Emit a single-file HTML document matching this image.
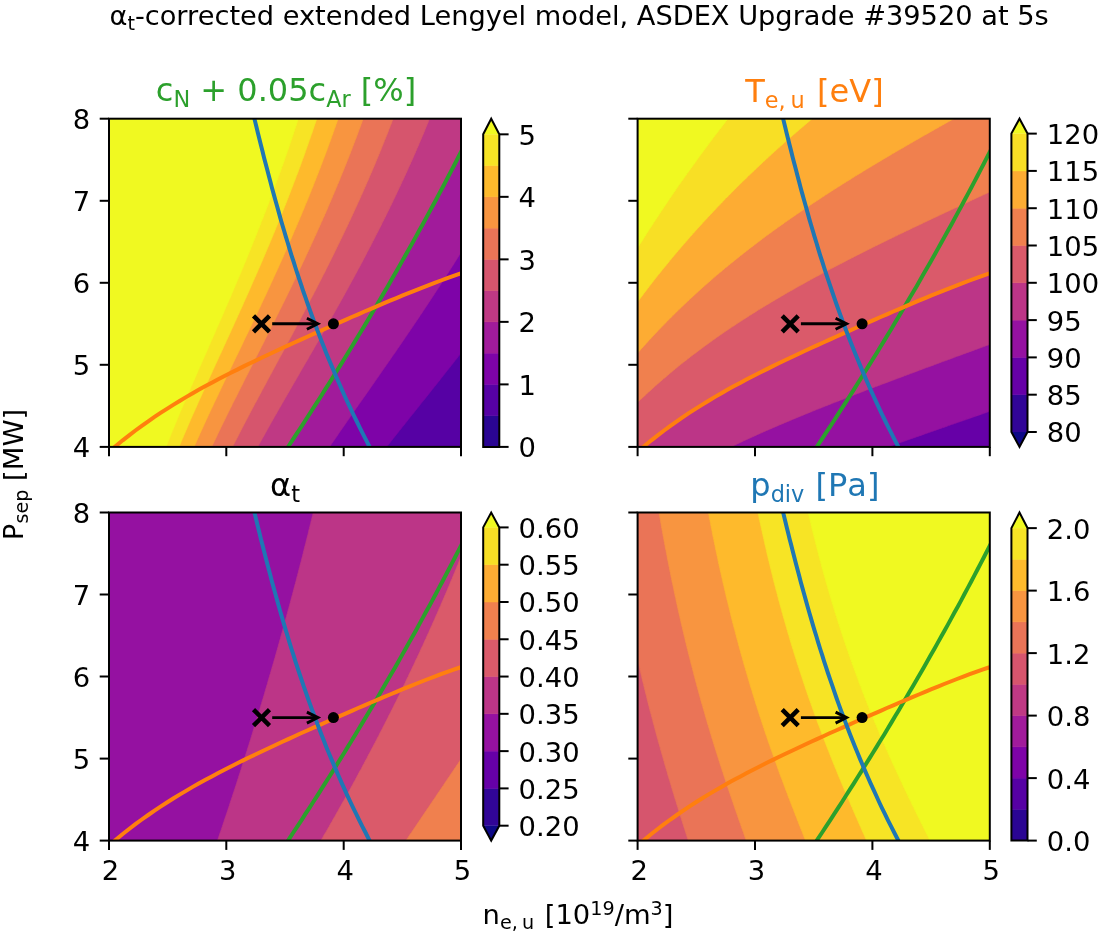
<!DOCTYPE html>
<html><head><meta charset="utf-8"><title>Lengyel model</title><style>html,body{margin:0;padding:0;background:#fff}</style></head><body>
<svg width="1100" height="934" viewBox="0 0 1100 934" style="display:block">
<rect width="1100" height="934" fill="#ffffff"/>
<defs>
<clipPath id="c1"><rect x="109.0" y="118.7" width="352.0" height="328.2"/></clipPath>
<clipPath id="c2"><rect x="637.6" y="118.7" width="352.2" height="328.2"/></clipPath>
<clipPath id="c3"><rect x="109.0" y="512.5" width="352.0" height="328.1"/></clipPath>
<clipPath id="c4"><rect x="637.6" y="512.5" width="352.2" height="328.1"/></clipPath>
</defs>
<g clip-path="url(#c1)">
<rect x="109.0" y="118.7" width="352.0" height="328.2" fill="#2a0593"/>
<rect x="109.0" y="118.7" width="352.0" height="328.2" fill="#5601a4"/>
<path d="M109.0 446.9L111.9 446.9L114.9 446.9L117.8 446.9L120.7 446.9L123.7 446.9L126.6 446.9L129.5 446.9L132.5 446.9L135.4 446.9L138.3 446.9L141.3 446.9L144.2 446.9L147.1 446.9L150.1 446.9L153.0 446.9L155.9 446.9L158.9 446.9L161.8 446.9L164.7 446.9L167.7 446.9L170.6 446.9L173.5 446.9L176.5 446.9L179.4 446.9L182.3 446.9L185.3 446.9L188.2 446.9L191.1 446.9L194.1 446.9L197.0 446.9L199.9 446.9L202.9 446.9L205.8 446.9L208.7 446.9L211.7 446.9L214.6 446.9L217.5 446.9L220.5 446.9L223.4 446.9L226.3 446.9L229.3 446.9L232.2 446.9L235.1 446.9L238.1 446.9L241.0 446.9L243.9 446.9L246.9 446.9L249.8 446.9L252.7 446.9L255.7 446.9L258.6 446.9L261.5 446.9L264.5 446.9L267.4 446.9L270.3 446.9L273.3 446.9L276.2 446.9L279.1 446.9L282.1 446.9L285.0 446.9L287.9 446.9L290.9 446.9L293.8 446.9L296.7 446.9L299.7 446.9L302.6 446.9L305.5 446.9L308.5 446.9L311.4 446.9L314.3 446.9L317.3 446.9L320.2 446.9L323.1 446.9L326.1 446.9L329.0 446.9L331.9 446.9L334.9 446.9L337.8 446.9L340.7 446.9L343.7 446.9L346.6 446.9L349.5 446.9L352.5 446.9L355.4 446.9L358.3 446.9L361.3 446.9L364.2 446.9L367.1 446.9L370.1 446.9L373.0 446.9L375.9 446.9L378.9 446.9L381.8 446.9L384.7 446.9L386.6 446.9L387.7 445.6L388.8 444.2L390.6 441.9L391.0 441.4L393.1 438.7L393.5 438.2L395.3 436.0L396.5 434.5L397.5 433.2L399.4 430.8L399.6 430.5L401.8 427.8L402.3 427.1L404.0 425.0L405.3 423.4L406.2 422.3L408.2 419.7L408.3 419.6L410.5 416.8L411.1 416.1L412.7 414.1L414.1 412.4L414.9 411.3L417.0 408.7L417.1 408.6L419.3 405.9L419.9 405.0L421.4 403.1L422.9 401.3L423.6 400.4L425.8 397.7L425.8 397.7L428.0 394.9L428.7 394.0L430.2 392.2L431.7 390.3L432.3 389.5L434.5 386.7L434.6 386.6L436.7 384.0L437.5 382.9L438.9 381.3L440.5 379.2L441.0 378.5L443.2 375.8L443.4 375.5L445.3 373.1L446.3 371.8L447.5 370.3L449.3 368.1L449.7 367.6L451.8 364.8L452.2 364.4L454.0 362.1L455.1 360.6L456.1 359.4L458.1 356.9L458.3 356.6L460.4 353.9L461.0 353.1L461.0 351.2L461.0 348.4L461.0 345.7L461.0 343.0L461.0 340.2L461.0 337.5L461.0 334.8L461.0 332.0L461.0 329.3L461.0 326.6L461.0 323.8L461.0 321.1L461.0 318.4L461.0 315.6L461.0 312.9L461.0 310.1L461.0 307.4L461.0 304.7L461.0 301.9L461.0 299.2L461.0 296.5L461.0 293.7L461.0 291.0L461.0 288.3L461.0 285.5L461.0 282.8L461.0 280.1L461.0 277.3L461.0 274.6L461.0 271.9L461.0 269.1L461.0 266.4L461.0 263.7L461.0 260.9L461.0 258.2L461.0 255.4L461.0 252.7L461.0 250.0L461.0 247.2L461.0 244.5L461.0 241.8L461.0 239.0L461.0 236.3L461.0 233.6L461.0 230.8L461.0 228.1L461.0 225.4L461.0 222.6L461.0 219.9L461.0 217.2L461.0 214.4L461.0 211.7L461.0 209.0L461.0 206.2L461.0 203.5L461.0 200.8L461.0 198.0L461.0 195.3L461.0 192.5L461.0 189.8L461.0 187.1L461.0 184.3L461.0 181.6L461.0 178.9L461.0 176.1L461.0 173.4L461.0 170.7L461.0 167.9L461.0 165.2L461.0 162.5L461.0 159.7L461.0 157.0L461.0 154.3L461.0 151.5L461.0 148.8L461.0 146.1L461.0 143.3L461.0 140.6L461.0 137.8L461.0 135.1L461.0 132.4L461.0 129.6L461.0 126.9L461.0 124.2L461.0 121.4L461.0 118.7L458.1 118.7L455.1 118.7L452.2 118.7L449.3 118.7L446.3 118.7L443.4 118.7L440.5 118.7L437.5 118.7L434.6 118.7L431.7 118.7L428.7 118.7L425.8 118.7L422.9 118.7L419.9 118.7L417.0 118.7L414.1 118.7L411.1 118.7L408.2 118.7L405.3 118.7L402.3 118.7L399.4 118.7L396.5 118.7L393.5 118.7L390.6 118.7L387.7 118.7L384.7 118.7L381.8 118.7L378.9 118.7L375.9 118.7L373.0 118.7L370.1 118.7L367.1 118.7L364.2 118.7L361.3 118.7L358.3 118.7L355.4 118.7L352.5 118.7L349.5 118.7L346.6 118.7L343.7 118.7L340.7 118.7L337.8 118.7L334.9 118.7L331.9 118.7L329.0 118.7L326.1 118.7L323.1 118.7L320.2 118.7L317.3 118.7L314.3 118.7L311.4 118.7L308.5 118.7L305.5 118.7L302.6 118.7L299.7 118.7L296.7 118.7L293.8 118.7L290.9 118.7L287.9 118.7L285.0 118.7L282.1 118.7L279.1 118.7L276.2 118.7L273.3 118.7L270.3 118.7L267.4 118.7L264.5 118.7L261.5 118.7L258.6 118.7L255.7 118.7L252.7 118.7L249.8 118.7L246.9 118.7L243.9 118.7L241.0 118.7L238.1 118.7L235.1 118.7L232.2 118.7L229.3 118.7L226.3 118.7L223.4 118.7L220.5 118.7L217.5 118.7L214.6 118.7L211.7 118.7L208.7 118.7L205.8 118.7L202.9 118.7L199.9 118.7L197.0 118.7L194.1 118.7L191.1 118.7L188.2 118.7L185.3 118.7L182.3 118.7L179.4 118.7L176.5 118.7L173.5 118.7L170.6 118.7L167.7 118.7L164.7 118.7L161.8 118.7L158.9 118.7L155.9 118.7L153.0 118.7L150.1 118.7L147.1 118.7L144.2 118.7L141.3 118.7L138.3 118.7L135.4 118.7L132.5 118.7L129.5 118.7L126.6 118.7L123.7 118.7L120.7 118.7L117.8 118.7L114.9 118.7L111.9 118.7L109.0 118.7L109.0 121.4L109.0 124.2L109.0 126.9L109.0 129.6L109.0 132.4L109.0 135.1L109.0 137.8L109.0 140.6L109.0 143.3L109.0 146.1L109.0 148.8L109.0 151.5L109.0 154.3L109.0 157.0L109.0 159.7L109.0 162.5L109.0 165.2L109.0 167.9L109.0 170.7L109.0 173.4L109.0 176.1L109.0 178.9L109.0 181.6L109.0 184.3L109.0 187.1L109.0 189.8L109.0 192.5L109.0 195.3L109.0 198.0L109.0 200.8L109.0 203.5L109.0 206.2L109.0 209.0L109.0 211.7L109.0 214.4L109.0 217.2L109.0 219.9L109.0 222.6L109.0 225.4L109.0 228.1L109.0 230.8L109.0 233.6L109.0 236.3L109.0 239.0L109.0 241.8L109.0 244.5L109.0 247.2L109.0 250.0L109.0 252.7L109.0 255.4L109.0 258.2L109.0 260.9L109.0 263.7L109.0 266.4L109.0 269.1L109.0 271.9L109.0 274.6L109.0 277.3L109.0 280.1L109.0 282.8L109.0 285.5L109.0 288.3L109.0 291.0L109.0 293.7L109.0 296.5L109.0 299.2L109.0 301.9L109.0 304.7L109.0 307.4L109.0 310.1L109.0 312.9L109.0 315.6L109.0 318.4L109.0 321.1L109.0 323.8L109.0 326.6L109.0 329.3L109.0 332.0L109.0 334.8L109.0 337.5L109.0 340.2L109.0 343.0L109.0 345.7L109.0 348.4L109.0 351.2L109.0 353.9L109.0 356.6L109.0 359.4L109.0 362.1L109.0 364.8L109.0 367.6L109.0 370.3L109.0 373.1L109.0 375.8L109.0 378.5L109.0 381.3L109.0 384.0L109.0 386.7L109.0 389.5L109.0 392.2L109.0 394.9L109.0 397.7L109.0 400.4L109.0 403.1L109.0 405.9L109.0 408.6L109.0 411.3L109.0 414.1L109.0 416.8L109.0 419.6L109.0 422.3L109.0 425.0L109.0 427.8L109.0 430.5L109.0 433.2L109.0 436.0L109.0 438.7L109.0 441.4L109.0 444.2L109.0 446.9Z" fill="#7e03a8" stroke="#7e03a8" stroke-width="0.6"/>
<path d="M109.0 446.9L111.9 446.9L114.9 446.9L117.8 446.9L120.7 446.9L123.7 446.9L126.6 446.9L129.5 446.9L132.5 446.9L135.4 446.9L138.3 446.9L141.3 446.9L144.2 446.9L147.1 446.9L150.1 446.9L153.0 446.9L155.9 446.9L158.9 446.9L161.8 446.9L164.7 446.9L167.7 446.9L170.6 446.9L173.5 446.9L176.5 446.9L179.4 446.9L182.3 446.9L185.3 446.9L188.2 446.9L191.1 446.9L194.1 446.9L197.0 446.9L199.9 446.9L202.9 446.9L205.8 446.9L208.7 446.9L211.7 446.9L214.6 446.9L217.5 446.9L220.5 446.9L223.4 446.9L226.3 446.9L229.3 446.9L232.2 446.9L235.1 446.9L238.1 446.9L241.0 446.9L243.9 446.9L246.9 446.9L249.8 446.9L252.7 446.9L255.7 446.9L258.6 446.9L261.5 446.9L264.5 446.9L267.4 446.9L270.3 446.9L273.3 446.9L276.2 446.9L279.1 446.9L282.1 446.9L285.0 446.9L287.9 446.9L290.9 446.9L293.8 446.9L296.7 446.9L299.7 446.9L302.6 446.9L305.5 446.9L308.5 446.9L311.4 446.9L314.3 446.9L317.3 446.9L320.2 446.9L323.1 446.9L326.1 446.9L329.0 446.9L329.6 446.9L331.4 444.2L331.9 443.4L333.3 441.4L334.9 439.2L335.2 438.7L337.1 436.0L337.8 434.9L338.9 433.2L340.7 430.6L340.8 430.5L342.7 427.8L343.7 426.4L344.6 425.0L346.5 422.3L346.6 422.1L348.4 419.6L349.5 417.9L350.3 416.8L352.2 414.1L352.5 413.7L354.1 411.3L355.4 409.5L356.0 408.6L357.9 405.9L358.3 405.3L359.8 403.1L361.3 401.1L361.7 400.4L363.6 397.7L364.2 396.9L365.6 394.9L367.1 392.7L367.5 392.2L369.4 389.5L370.1 388.5L371.3 386.7L373.0 384.3L373.2 384.0L375.1 381.3L375.9 380.1L377.0 378.5L378.9 375.8L378.9 375.8L380.8 373.1L381.8 371.6L382.7 370.3L384.6 367.6L384.7 367.4L386.5 364.8L387.7 363.2L388.4 362.1L390.3 359.4L390.6 358.9L392.2 356.6L393.5 354.7L394.1 353.9L396.0 351.2L396.5 350.4L397.8 348.4L399.4 346.2L399.7 345.7L401.6 343.0L402.3 341.9L403.5 340.2L405.3 337.6L405.3 337.5L407.2 334.8L408.2 333.3L409.1 332.0L410.9 329.3L411.1 329.0L412.8 326.6L414.1 324.6L414.6 323.8L416.5 321.1L417.0 320.3L418.3 318.4L419.9 315.9L420.1 315.6L422.0 312.9L422.9 311.5L423.8 310.1L425.6 307.4L425.8 307.1L427.4 304.7L428.7 302.7L429.2 301.9L431.0 299.2L431.7 298.2L432.8 296.5L434.6 293.8L434.6 293.7L436.4 291.0L437.5 289.3L438.2 288.3L440.0 285.5L440.5 284.8L441.7 282.8L443.4 280.2L443.5 280.1L445.3 277.3L446.3 275.7L447.0 274.6L448.8 271.9L449.3 271.1L450.5 269.1L452.2 266.4L452.2 266.4L454.0 263.7L455.1 261.8L455.7 260.9L457.4 258.2L458.1 257.1L459.1 255.4L460.8 252.7L461.0 252.4L461.0 250.0L461.0 247.2L461.0 244.5L461.0 241.8L461.0 239.0L461.0 236.3L461.0 233.6L461.0 230.8L461.0 228.1L461.0 225.4L461.0 222.6L461.0 219.9L461.0 217.2L461.0 214.4L461.0 211.7L461.0 209.0L461.0 206.2L461.0 203.5L461.0 200.8L461.0 198.0L461.0 195.3L461.0 192.5L461.0 189.8L461.0 187.1L461.0 184.3L461.0 181.6L461.0 178.9L461.0 176.1L461.0 173.4L461.0 170.7L461.0 167.9L461.0 165.2L461.0 162.5L461.0 159.7L461.0 157.0L461.0 154.3L461.0 151.5L461.0 148.8L461.0 146.1L461.0 143.3L461.0 140.6L461.0 137.8L461.0 135.1L461.0 132.4L461.0 129.6L461.0 126.9L461.0 124.2L461.0 121.4L461.0 118.7L458.1 118.7L455.1 118.7L452.2 118.7L449.3 118.7L446.3 118.7L443.4 118.7L440.5 118.7L437.5 118.7L434.6 118.7L431.7 118.7L428.7 118.7L425.8 118.7L422.9 118.7L419.9 118.7L417.0 118.7L414.1 118.7L411.1 118.7L408.2 118.7L405.3 118.7L402.3 118.7L399.4 118.7L396.5 118.7L393.5 118.7L390.6 118.7L387.7 118.7L384.7 118.7L381.8 118.7L378.9 118.7L375.9 118.7L373.0 118.7L370.1 118.7L367.1 118.7L364.2 118.7L361.3 118.7L358.3 118.7L355.4 118.7L352.5 118.7L349.5 118.7L346.6 118.7L343.7 118.7L340.7 118.7L337.8 118.7L334.9 118.7L331.9 118.7L329.0 118.7L326.1 118.7L323.1 118.7L320.2 118.7L317.3 118.7L314.3 118.7L311.4 118.7L308.5 118.7L305.5 118.7L302.6 118.7L299.7 118.7L296.7 118.7L293.8 118.7L290.9 118.7L287.9 118.7L285.0 118.7L282.1 118.7L279.1 118.7L276.2 118.7L273.3 118.7L270.3 118.7L267.4 118.7L264.5 118.7L261.5 118.7L258.6 118.7L255.7 118.7L252.7 118.7L249.8 118.7L246.9 118.7L243.9 118.7L241.0 118.7L238.1 118.7L235.1 118.7L232.2 118.7L229.3 118.7L226.3 118.7L223.4 118.7L220.5 118.7L217.5 118.7L214.6 118.7L211.7 118.7L208.7 118.7L205.8 118.7L202.9 118.7L199.9 118.7L197.0 118.7L194.1 118.7L191.1 118.7L188.2 118.7L185.3 118.7L182.3 118.7L179.4 118.7L176.5 118.7L173.5 118.7L170.6 118.7L167.7 118.7L164.7 118.7L161.8 118.7L158.9 118.7L155.9 118.7L153.0 118.7L150.1 118.7L147.1 118.7L144.2 118.7L141.3 118.7L138.3 118.7L135.4 118.7L132.5 118.7L129.5 118.7L126.6 118.7L123.7 118.7L120.7 118.7L117.8 118.7L114.9 118.7L111.9 118.7L109.0 118.7L109.0 121.4L109.0 124.2L109.0 126.9L109.0 129.6L109.0 132.4L109.0 135.1L109.0 137.8L109.0 140.6L109.0 143.3L109.0 146.1L109.0 148.8L109.0 151.5L109.0 154.3L109.0 157.0L109.0 159.7L109.0 162.5L109.0 165.2L109.0 167.9L109.0 170.7L109.0 173.4L109.0 176.1L109.0 178.9L109.0 181.6L109.0 184.3L109.0 187.1L109.0 189.8L109.0 192.5L109.0 195.3L109.0 198.0L109.0 200.8L109.0 203.5L109.0 206.2L109.0 209.0L109.0 211.7L109.0 214.4L109.0 217.2L109.0 219.9L109.0 222.6L109.0 225.4L109.0 228.1L109.0 230.8L109.0 233.6L109.0 236.3L109.0 239.0L109.0 241.8L109.0 244.5L109.0 247.2L109.0 250.0L109.0 252.7L109.0 255.4L109.0 258.2L109.0 260.9L109.0 263.7L109.0 266.4L109.0 269.1L109.0 271.9L109.0 274.6L109.0 277.3L109.0 280.1L109.0 282.8L109.0 285.5L109.0 288.3L109.0 291.0L109.0 293.7L109.0 296.5L109.0 299.2L109.0 301.9L109.0 304.7L109.0 307.4L109.0 310.1L109.0 312.9L109.0 315.6L109.0 318.4L109.0 321.1L109.0 323.8L109.0 326.6L109.0 329.3L109.0 332.0L109.0 334.8L109.0 337.5L109.0 340.2L109.0 343.0L109.0 345.7L109.0 348.4L109.0 351.2L109.0 353.9L109.0 356.6L109.0 359.4L109.0 362.1L109.0 364.8L109.0 367.6L109.0 370.3L109.0 373.1L109.0 375.8L109.0 378.5L109.0 381.3L109.0 384.0L109.0 386.7L109.0 389.5L109.0 392.2L109.0 394.9L109.0 397.7L109.0 400.4L109.0 403.1L109.0 405.9L109.0 408.6L109.0 411.3L109.0 414.1L109.0 416.8L109.0 419.6L109.0 422.3L109.0 425.0L109.0 427.8L109.0 430.5L109.0 433.2L109.0 436.0L109.0 438.7L109.0 441.4L109.0 444.2L109.0 446.9Z" fill="#a11b9b" stroke="#a11b9b" stroke-width="0.6"/>
<path d="M109.0 446.9L111.9 446.9L114.9 446.9L117.8 446.9L120.7 446.9L123.7 446.9L126.6 446.9L129.5 446.9L132.5 446.9L135.4 446.9L138.3 446.9L141.3 446.9L144.2 446.9L147.1 446.9L150.1 446.9L153.0 446.9L155.9 446.9L158.9 446.9L161.8 446.9L164.7 446.9L167.7 446.9L170.6 446.9L173.5 446.9L176.5 446.9L179.4 446.9L182.3 446.9L185.3 446.9L188.2 446.9L191.1 446.9L194.1 446.9L197.0 446.9L199.9 446.9L202.9 446.9L205.8 446.9L208.7 446.9L211.7 446.9L214.6 446.9L217.5 446.9L220.5 446.9L223.4 446.9L226.3 446.9L229.3 446.9L232.2 446.9L235.1 446.9L238.1 446.9L241.0 446.9L243.9 446.9L246.9 446.9L249.8 446.9L252.7 446.9L255.7 446.9L258.6 446.9L261.5 446.9L264.5 446.9L267.4 446.9L270.3 446.9L273.3 446.9L276.2 446.9L279.1 446.9L282.1 446.9L285.0 446.9L287.9 446.9L289.0 446.9L290.6 444.2L290.9 443.8L292.3 441.4L293.8 439.0L294.0 438.7L295.6 436.0L296.7 434.2L297.3 433.2L299.0 430.5L299.7 429.4L300.7 427.8L302.4 425.0L302.6 424.7L304.1 422.3L305.5 419.9L305.8 419.6L307.5 416.8L308.5 415.2L309.2 414.1L310.9 411.3L311.4 410.5L312.6 408.6L314.3 405.9L314.3 405.8L316.0 403.1L317.3 401.2L317.8 400.4L319.5 397.7L320.2 396.5L321.2 394.9L322.9 392.2L323.1 391.8L324.6 389.5L326.1 387.2L326.4 386.7L328.1 384.0L329.0 382.5L329.8 381.3L331.5 378.5L331.9 377.9L333.3 375.8L334.9 373.2L335.0 373.1L336.7 370.3L337.8 368.5L338.4 367.6L340.1 364.8L340.7 363.9L341.8 362.1L343.6 359.4L343.7 359.2L345.3 356.6L346.6 354.5L347.0 353.9L348.7 351.2L349.5 349.8L350.4 348.4L352.1 345.7L352.5 345.1L353.8 343.0L355.4 340.4L355.5 340.2L357.2 337.5L358.3 335.7L358.9 334.8L360.6 332.0L361.3 330.9L362.3 329.3L364.0 326.6L364.2 326.2L365.6 323.8L367.1 321.4L367.3 321.1L369.0 318.4L370.1 316.6L370.7 315.6L372.3 312.9L373.0 311.8L374.0 310.1L375.6 307.4L375.9 306.9L377.3 304.7L378.9 302.1L378.9 301.9L380.6 299.2L381.8 297.2L382.2 296.5L383.9 293.7L384.7 292.3L385.5 291.0L387.1 288.3L387.7 287.3L388.7 285.5L390.3 282.8L390.6 282.4L392.0 280.1L393.5 277.4L393.5 277.3L395.2 274.6L396.5 272.3L396.7 271.9L398.3 269.1L399.4 267.3L399.9 266.4L401.5 263.7L402.3 262.2L403.0 260.9L404.6 258.2L405.3 257.0L406.2 255.4L407.7 252.7L408.2 251.9L409.3 250.0L410.8 247.2L411.1 246.6L412.3 244.5L413.9 241.8L414.1 241.4L415.4 239.0L416.9 236.3L417.0 236.1L418.4 233.6L419.9 230.8L419.9 230.7L421.4 228.1L422.9 225.4L422.9 225.4L424.3 222.6L425.8 219.9L425.8 219.9L427.3 217.2L428.7 214.4L428.7 214.4L430.2 211.7L431.6 209.0L431.7 208.9L433.1 206.2L434.5 203.5L434.6 203.3L435.9 200.8L437.3 198.0L437.5 197.6L438.8 195.3L440.2 192.5L440.5 191.9L441.6 189.8L442.9 187.1L443.4 186.2L444.3 184.3L445.7 181.6L446.3 180.3L447.1 178.9L448.4 176.1L449.3 174.4L449.8 173.4L451.1 170.7L452.2 168.4L452.4 167.9L453.8 165.2L455.1 162.5L455.1 162.4L456.4 159.7L457.7 157.0L458.1 156.2L459.0 154.3L460.3 151.5L461.0 150.0L461.0 148.8L461.0 146.1L461.0 143.3L461.0 140.6L461.0 137.8L461.0 135.1L461.0 132.4L461.0 129.6L461.0 126.9L461.0 124.2L461.0 121.4L461.0 118.7L458.1 118.7L455.1 118.7L452.2 118.7L449.3 118.7L446.3 118.7L443.4 118.7L440.5 118.7L437.5 118.7L434.6 118.7L431.7 118.7L428.7 118.7L425.8 118.7L422.9 118.7L419.9 118.7L417.0 118.7L414.1 118.7L411.1 118.7L408.2 118.7L405.3 118.7L402.3 118.7L399.4 118.7L396.5 118.7L393.5 118.7L390.6 118.7L387.7 118.7L384.7 118.7L381.8 118.7L378.9 118.7L375.9 118.7L373.0 118.7L370.1 118.7L367.1 118.7L364.2 118.7L361.3 118.7L358.3 118.7L355.4 118.7L352.5 118.7L349.5 118.7L346.6 118.7L343.7 118.7L340.7 118.7L337.8 118.7L334.9 118.7L331.9 118.7L329.0 118.7L326.1 118.7L323.1 118.7L320.2 118.7L317.3 118.7L314.3 118.7L311.4 118.7L308.5 118.7L305.5 118.7L302.6 118.7L299.7 118.7L296.7 118.7L293.8 118.7L290.9 118.7L287.9 118.7L285.0 118.7L282.1 118.7L279.1 118.7L276.2 118.7L273.3 118.7L270.3 118.7L267.4 118.7L264.5 118.7L261.5 118.7L258.6 118.7L255.7 118.7L252.7 118.7L249.8 118.7L246.9 118.7L243.9 118.7L241.0 118.7L238.1 118.7L235.1 118.7L232.2 118.7L229.3 118.7L226.3 118.7L223.4 118.7L220.5 118.7L217.5 118.7L214.6 118.7L211.7 118.7L208.7 118.7L205.8 118.7L202.9 118.7L199.9 118.7L197.0 118.7L194.1 118.7L191.1 118.7L188.2 118.7L185.3 118.7L182.3 118.7L179.4 118.7L176.5 118.7L173.5 118.7L170.6 118.7L167.7 118.7L164.7 118.7L161.8 118.7L158.9 118.7L155.9 118.7L153.0 118.7L150.1 118.7L147.1 118.7L144.2 118.7L141.3 118.7L138.3 118.7L135.4 118.7L132.5 118.7L129.5 118.7L126.6 118.7L123.7 118.7L120.7 118.7L117.8 118.7L114.9 118.7L111.9 118.7L109.0 118.7L109.0 121.4L109.0 124.2L109.0 126.9L109.0 129.6L109.0 132.4L109.0 135.1L109.0 137.8L109.0 140.6L109.0 143.3L109.0 146.1L109.0 148.8L109.0 151.5L109.0 154.3L109.0 157.0L109.0 159.7L109.0 162.5L109.0 165.2L109.0 167.9L109.0 170.7L109.0 173.4L109.0 176.1L109.0 178.9L109.0 181.6L109.0 184.3L109.0 187.1L109.0 189.8L109.0 192.5L109.0 195.3L109.0 198.0L109.0 200.8L109.0 203.5L109.0 206.2L109.0 209.0L109.0 211.7L109.0 214.4L109.0 217.2L109.0 219.9L109.0 222.6L109.0 225.4L109.0 228.1L109.0 230.8L109.0 233.6L109.0 236.3L109.0 239.0L109.0 241.8L109.0 244.5L109.0 247.2L109.0 250.0L109.0 252.7L109.0 255.4L109.0 258.2L109.0 260.9L109.0 263.7L109.0 266.4L109.0 269.1L109.0 271.9L109.0 274.6L109.0 277.3L109.0 280.1L109.0 282.8L109.0 285.5L109.0 288.3L109.0 291.0L109.0 293.7L109.0 296.5L109.0 299.2L109.0 301.9L109.0 304.7L109.0 307.4L109.0 310.1L109.0 312.9L109.0 315.6L109.0 318.4L109.0 321.1L109.0 323.8L109.0 326.6L109.0 329.3L109.0 332.0L109.0 334.8L109.0 337.5L109.0 340.2L109.0 343.0L109.0 345.7L109.0 348.4L109.0 351.2L109.0 353.9L109.0 356.6L109.0 359.4L109.0 362.1L109.0 364.8L109.0 367.6L109.0 370.3L109.0 373.1L109.0 375.8L109.0 378.5L109.0 381.3L109.0 384.0L109.0 386.7L109.0 389.5L109.0 392.2L109.0 394.9L109.0 397.7L109.0 400.4L109.0 403.1L109.0 405.9L109.0 408.6L109.0 411.3L109.0 414.1L109.0 416.8L109.0 419.6L109.0 422.3L109.0 425.0L109.0 427.8L109.0 430.5L109.0 433.2L109.0 436.0L109.0 438.7L109.0 441.4L109.0 444.2L109.0 446.9Z" fill="#bf3984" stroke="#bf3984" stroke-width="0.6"/>
<path d="M109.0 446.9L111.9 446.9L114.9 446.9L117.8 446.9L120.7 446.9L123.7 446.9L126.6 446.9L129.5 446.9L132.5 446.9L135.4 446.9L138.3 446.9L141.3 446.9L144.2 446.9L147.1 446.9L150.1 446.9L153.0 446.9L155.9 446.9L158.9 446.9L161.8 446.9L164.7 446.9L167.7 446.9L170.6 446.9L173.5 446.9L176.5 446.9L179.4 446.9L182.3 446.9L185.3 446.9L188.2 446.9L191.1 446.9L194.1 446.9L197.0 446.9L199.9 446.9L202.9 446.9L205.8 446.9L208.7 446.9L211.7 446.9L214.6 446.9L217.5 446.9L220.5 446.9L223.4 446.9L226.3 446.9L229.3 446.9L232.2 446.9L235.1 446.9L238.1 446.9L241.0 446.9L243.9 446.9L246.9 446.9L249.8 446.9L252.7 446.9L255.7 446.9L257.7 446.9L258.6 445.3L259.2 444.2L260.7 441.4L261.5 440.0L262.2 438.7L263.8 436.0L264.5 434.7L265.3 433.2L266.8 430.5L267.4 429.4L268.3 427.8L269.9 425.0L270.3 424.2L271.4 422.3L273.0 419.6L273.3 419.0L274.5 416.8L276.1 414.1L276.2 413.9L277.7 411.3L279.1 408.8L279.2 408.6L280.8 405.9L282.1 403.6L282.4 403.1L283.9 400.4L285.0 398.5L285.5 397.7L287.1 394.9L287.9 393.5L288.7 392.2L290.2 389.5L290.9 388.4L291.8 386.7L293.4 384.0L293.8 383.3L295.0 381.3L296.6 378.5L296.7 378.2L298.2 375.8L299.7 373.2L299.7 373.1L301.3 370.3L302.6 368.1L302.9 367.6L304.5 364.8L305.5 363.0L306.1 362.1L307.7 359.4L308.5 358.0L309.2 356.6L310.8 353.9L311.4 352.9L312.4 351.2L314.0 348.4L314.3 347.8L315.5 345.7L317.1 343.0L317.3 342.7L318.7 340.2L320.2 337.6L320.2 337.5L321.8 334.8L323.1 332.4L323.4 332.0L324.9 329.3L326.1 327.3L326.5 326.6L328.0 323.8L329.0 322.1L329.6 321.1L331.1 318.4L331.9 316.9L332.7 315.6L334.2 312.9L334.9 311.7L335.8 310.1L337.3 307.4L337.8 306.5L338.8 304.7L340.4 301.9L340.7 301.3L341.9 299.2L343.4 296.5L343.7 296.0L344.9 293.7L346.4 291.0L346.6 290.7L347.9 288.3L349.4 285.5L349.5 285.3L350.9 282.8L352.4 280.1L352.5 279.9L353.9 277.3L355.4 274.6L355.4 274.5L356.8 271.9L358.3 269.1L358.3 269.1L359.8 266.4L361.2 263.7L361.3 263.6L362.7 260.9L364.1 258.2L364.2 258.1L365.6 255.4L367.0 252.7L367.1 252.5L368.4 250.0L369.9 247.2L370.1 246.9L371.3 244.5L372.7 241.8L373.0 241.2L374.1 239.0L375.5 236.3L375.9 235.5L376.9 233.6L378.3 230.8L378.9 229.7L379.7 228.1L381.1 225.4L381.8 223.9L382.4 222.6L383.8 219.9L384.7 218.0L385.2 217.2L386.5 214.4L387.7 212.1L387.9 211.7L389.2 209.0L390.5 206.2L390.6 206.1L391.9 203.5L393.2 200.8L393.5 200.0L394.5 198.0L395.8 195.3L396.5 193.9L397.1 192.5L398.4 189.8L399.4 187.7L399.7 187.1L401.0 184.3L402.2 181.6L402.3 181.4L403.5 178.9L404.8 176.1L405.3 175.0L406.0 173.4L407.3 170.7L408.2 168.6L408.5 167.9L409.7 165.2L411.0 162.5L411.1 162.1L412.2 159.7L413.4 157.0L414.1 155.4L414.6 154.3L415.8 151.5L417.0 148.8L417.0 148.7L418.2 146.1L419.3 143.3L419.9 141.9L420.5 140.6L421.7 137.8L422.8 135.1L422.9 135.0L424.0 132.4L425.1 129.6L425.8 127.9L426.2 126.9L427.3 124.2L428.5 121.4L428.7 120.7L429.6 118.7L428.7 118.7L425.8 118.7L422.9 118.7L419.9 118.7L417.0 118.7L414.1 118.7L411.1 118.7L408.2 118.7L405.3 118.7L402.3 118.7L399.4 118.7L396.5 118.7L393.5 118.7L390.6 118.7L387.7 118.7L384.7 118.7L381.8 118.7L378.9 118.7L375.9 118.7L373.0 118.7L370.1 118.7L367.1 118.7L364.2 118.7L361.3 118.7L358.3 118.7L355.4 118.7L352.5 118.7L349.5 118.7L346.6 118.7L343.7 118.7L340.7 118.7L337.8 118.7L334.9 118.7L331.9 118.7L329.0 118.7L326.1 118.7L323.1 118.7L320.2 118.7L317.3 118.7L314.3 118.7L311.4 118.7L308.5 118.7L305.5 118.7L302.6 118.7L299.7 118.7L296.7 118.7L293.8 118.7L290.9 118.7L287.9 118.7L285.0 118.7L282.1 118.7L279.1 118.7L276.2 118.7L273.3 118.7L270.3 118.7L267.4 118.7L264.5 118.7L261.5 118.7L258.6 118.7L255.7 118.7L252.7 118.7L249.8 118.7L246.9 118.7L243.9 118.7L241.0 118.7L238.1 118.7L235.1 118.7L232.2 118.7L229.3 118.7L226.3 118.7L223.4 118.7L220.5 118.7L217.5 118.7L214.6 118.7L211.7 118.7L208.7 118.7L205.8 118.7L202.9 118.7L199.9 118.7L197.0 118.7L194.1 118.7L191.1 118.7L188.2 118.7L185.3 118.7L182.3 118.7L179.4 118.7L176.5 118.7L173.5 118.7L170.6 118.7L167.7 118.7L164.7 118.7L161.8 118.7L158.9 118.7L155.9 118.7L153.0 118.7L150.1 118.7L147.1 118.7L144.2 118.7L141.3 118.7L138.3 118.7L135.4 118.7L132.5 118.7L129.5 118.7L126.6 118.7L123.7 118.7L120.7 118.7L117.8 118.7L114.9 118.7L111.9 118.7L109.0 118.7L109.0 121.4L109.0 124.2L109.0 126.9L109.0 129.6L109.0 132.4L109.0 135.1L109.0 137.8L109.0 140.6L109.0 143.3L109.0 146.1L109.0 148.8L109.0 151.5L109.0 154.3L109.0 157.0L109.0 159.7L109.0 162.5L109.0 165.2L109.0 167.9L109.0 170.7L109.0 173.4L109.0 176.1L109.0 178.9L109.0 181.6L109.0 184.3L109.0 187.1L109.0 189.8L109.0 192.5L109.0 195.3L109.0 198.0L109.0 200.8L109.0 203.5L109.0 206.2L109.0 209.0L109.0 211.7L109.0 214.4L109.0 217.2L109.0 219.9L109.0 222.6L109.0 225.4L109.0 228.1L109.0 230.8L109.0 233.6L109.0 236.3L109.0 239.0L109.0 241.8L109.0 244.5L109.0 247.2L109.0 250.0L109.0 252.7L109.0 255.4L109.0 258.2L109.0 260.9L109.0 263.7L109.0 266.4L109.0 269.1L109.0 271.9L109.0 274.6L109.0 277.3L109.0 280.1L109.0 282.8L109.0 285.5L109.0 288.3L109.0 291.0L109.0 293.7L109.0 296.5L109.0 299.2L109.0 301.9L109.0 304.7L109.0 307.4L109.0 310.1L109.0 312.9L109.0 315.6L109.0 318.4L109.0 321.1L109.0 323.8L109.0 326.6L109.0 329.3L109.0 332.0L109.0 334.8L109.0 337.5L109.0 340.2L109.0 343.0L109.0 345.7L109.0 348.4L109.0 351.2L109.0 353.9L109.0 356.6L109.0 359.4L109.0 362.1L109.0 364.8L109.0 367.6L109.0 370.3L109.0 373.1L109.0 375.8L109.0 378.5L109.0 381.3L109.0 384.0L109.0 386.7L109.0 389.5L109.0 392.2L109.0 394.9L109.0 397.7L109.0 400.4L109.0 403.1L109.0 405.9L109.0 408.6L109.0 411.3L109.0 414.1L109.0 416.8L109.0 419.6L109.0 422.3L109.0 425.0L109.0 427.8L109.0 430.5L109.0 433.2L109.0 436.0L109.0 438.7L109.0 441.4L109.0 444.2L109.0 446.9Z" fill="#d6556d" stroke="#d6556d" stroke-width="0.6"/>
<path d="M109.0 446.9L111.9 446.9L114.9 446.9L117.8 446.9L120.7 446.9L123.7 446.9L126.6 446.9L129.5 446.9L132.5 446.9L135.4 446.9L138.3 446.9L141.3 446.9L144.2 446.9L147.1 446.9L150.1 446.9L153.0 446.9L155.9 446.9L158.9 446.9L161.8 446.9L164.7 446.9L167.7 446.9L170.6 446.9L173.5 446.9L176.5 446.9L179.4 446.9L182.3 446.9L185.3 446.9L188.2 446.9L191.1 446.9L194.1 446.9L197.0 446.9L199.9 446.9L202.9 446.9L205.8 446.9L208.7 446.9L211.7 446.9L214.6 446.9L217.5 446.9L220.5 446.9L223.4 446.9L226.3 446.9L229.3 446.9L232.2 446.9L232.5 446.9L233.9 444.2L235.1 441.8L235.3 441.4L236.7 438.7L238.1 436.0L238.1 436.0L239.5 433.2L240.9 430.5L241.0 430.3L242.3 427.8L243.7 425.0L243.9 424.7L245.2 422.3L246.6 419.6L246.9 419.1L248.1 416.8L249.5 414.1L249.8 413.5L250.9 411.3L252.4 408.6L252.7 408.0L253.8 405.9L255.3 403.1L255.7 402.4L256.8 400.4L258.2 397.7L258.6 397.0L259.7 394.9L261.2 392.2L261.5 391.5L262.6 389.5L264.1 386.7L264.5 386.0L265.6 384.0L267.0 381.3L267.4 380.6L268.5 378.5L270.0 375.8L270.3 375.1L271.5 373.1L272.9 370.3L273.3 369.7L274.4 367.6L275.9 364.8L276.2 364.3L277.4 362.1L278.8 359.4L279.1 358.8L280.3 356.6L281.8 353.9L282.1 353.4L283.3 351.2L284.7 348.4L285.0 347.9L286.2 345.7L287.7 343.0L287.9 342.5L289.1 340.2L290.6 337.5L290.9 337.0L292.1 334.8L293.5 332.0L293.8 331.5L295.0 329.3L296.4 326.6L296.7 326.0L297.9 323.8L299.3 321.1L299.7 320.4L300.8 318.4L302.2 315.6L302.6 314.9L303.7 312.9L305.1 310.1L305.5 309.3L306.5 307.4L308.0 304.7L308.5 303.7L309.4 301.9L310.8 299.2L311.4 298.1L312.2 296.5L313.7 293.7L314.3 292.4L315.1 291.0L316.5 288.3L317.3 286.7L317.9 285.5L319.3 282.8L320.2 281.0L320.7 280.1L322.1 277.3L323.1 275.3L323.5 274.6L324.9 271.9L326.1 269.4L326.2 269.1L327.6 266.4L329.0 263.7L329.0 263.6L330.3 260.9L331.7 258.2L331.9 257.7L333.1 255.4L334.4 252.7L334.9 251.8L335.7 250.0L337.1 247.2L337.8 245.8L338.4 244.5L339.7 241.8L340.7 239.7L341.1 239.0L342.4 236.3L343.7 233.6L343.7 233.6L345.0 230.8L346.3 228.1L346.6 227.5L347.6 225.4L348.9 222.6L349.5 221.2L350.2 219.9L351.4 217.2L352.5 214.9L352.7 214.4L354.0 211.7L355.2 209.0L355.4 208.6L356.5 206.2L357.7 203.5L358.3 202.2L359.0 200.8L360.2 198.0L361.3 195.6L361.4 195.3L362.7 192.5L363.9 189.8L364.2 189.1L365.1 187.1L366.3 184.3L367.1 182.4L367.5 181.6L368.7 178.9L369.8 176.1L370.1 175.6L371.0 173.4L372.2 170.7L373.0 168.8L373.4 167.9L374.5 165.2L375.7 162.5L375.9 161.8L376.8 159.7L377.9 157.0L378.9 154.8L379.1 154.3L380.2 151.5L381.3 148.8L381.8 147.6L382.4 146.1L383.5 143.3L384.6 140.6L384.7 140.3L385.7 137.8L386.8 135.1L387.7 132.9L387.9 132.4L388.9 129.6L390.0 126.9L390.6 125.3L391.1 124.2L392.1 121.4L393.1 118.7L390.6 118.7L387.7 118.7L384.7 118.7L381.8 118.7L378.9 118.7L375.9 118.7L373.0 118.7L370.1 118.7L367.1 118.7L364.2 118.7L361.3 118.7L358.3 118.7L355.4 118.7L352.5 118.7L349.5 118.7L346.6 118.7L343.7 118.7L340.7 118.7L337.8 118.7L334.9 118.7L331.9 118.7L329.0 118.7L326.1 118.7L323.1 118.7L320.2 118.7L317.3 118.7L314.3 118.7L311.4 118.7L308.5 118.7L305.5 118.7L302.6 118.7L299.7 118.7L296.7 118.7L293.8 118.7L290.9 118.7L287.9 118.7L285.0 118.7L282.1 118.7L279.1 118.7L276.2 118.7L273.3 118.7L270.3 118.7L267.4 118.7L264.5 118.7L261.5 118.7L258.6 118.7L255.7 118.7L252.7 118.7L249.8 118.7L246.9 118.7L243.9 118.7L241.0 118.7L238.1 118.7L235.1 118.7L232.2 118.7L229.3 118.7L226.3 118.7L223.4 118.7L220.5 118.7L217.5 118.7L214.6 118.7L211.7 118.7L208.7 118.7L205.8 118.7L202.9 118.7L199.9 118.7L197.0 118.7L194.1 118.7L191.1 118.7L188.2 118.7L185.3 118.7L182.3 118.7L179.4 118.7L176.5 118.7L173.5 118.7L170.6 118.7L167.7 118.7L164.7 118.7L161.8 118.7L158.9 118.7L155.9 118.7L153.0 118.7L150.1 118.7L147.1 118.7L144.2 118.7L141.3 118.7L138.3 118.7L135.4 118.7L132.5 118.7L129.5 118.7L126.6 118.7L123.7 118.7L120.7 118.7L117.8 118.7L114.9 118.7L111.9 118.7L109.0 118.7L109.0 121.4L109.0 124.2L109.0 126.9L109.0 129.6L109.0 132.4L109.0 135.1L109.0 137.8L109.0 140.6L109.0 143.3L109.0 146.1L109.0 148.8L109.0 151.5L109.0 154.3L109.0 157.0L109.0 159.7L109.0 162.5L109.0 165.2L109.0 167.9L109.0 170.7L109.0 173.4L109.0 176.1L109.0 178.9L109.0 181.6L109.0 184.3L109.0 187.1L109.0 189.8L109.0 192.5L109.0 195.3L109.0 198.0L109.0 200.8L109.0 203.5L109.0 206.2L109.0 209.0L109.0 211.7L109.0 214.4L109.0 217.2L109.0 219.9L109.0 222.6L109.0 225.4L109.0 228.1L109.0 230.8L109.0 233.6L109.0 236.3L109.0 239.0L109.0 241.8L109.0 244.5L109.0 247.2L109.0 250.0L109.0 252.7L109.0 255.4L109.0 258.2L109.0 260.9L109.0 263.7L109.0 266.4L109.0 269.1L109.0 271.9L109.0 274.6L109.0 277.3L109.0 280.1L109.0 282.8L109.0 285.5L109.0 288.3L109.0 291.0L109.0 293.7L109.0 296.5L109.0 299.2L109.0 301.9L109.0 304.7L109.0 307.4L109.0 310.1L109.0 312.9L109.0 315.6L109.0 318.4L109.0 321.1L109.0 323.8L109.0 326.6L109.0 329.3L109.0 332.0L109.0 334.8L109.0 337.5L109.0 340.2L109.0 343.0L109.0 345.7L109.0 348.4L109.0 351.2L109.0 353.9L109.0 356.6L109.0 359.4L109.0 362.1L109.0 364.8L109.0 367.6L109.0 370.3L109.0 373.1L109.0 375.8L109.0 378.5L109.0 381.3L109.0 384.0L109.0 386.7L109.0 389.5L109.0 392.2L109.0 394.9L109.0 397.7L109.0 400.4L109.0 403.1L109.0 405.9L109.0 408.6L109.0 411.3L109.0 414.1L109.0 416.8L109.0 419.6L109.0 422.3L109.0 425.0L109.0 427.8L109.0 430.5L109.0 433.2L109.0 436.0L109.0 438.7L109.0 441.4L109.0 444.2L109.0 446.9Z" fill="#ea7457" stroke="#ea7457" stroke-width="0.6"/>
<path d="M109.0 446.9L111.9 446.9L114.9 446.9L117.8 446.9L120.7 446.9L123.7 446.9L126.6 446.9L129.5 446.9L132.5 446.9L135.4 446.9L138.3 446.9L141.3 446.9L144.2 446.9L147.1 446.9L150.1 446.9L153.0 446.9L155.9 446.9L158.9 446.9L161.8 446.9L164.7 446.9L167.7 446.9L170.6 446.9L173.5 446.9L176.5 446.9L179.4 446.9L182.3 446.9L185.3 446.9L188.2 446.9L191.1 446.9L194.1 446.9L197.0 446.9L199.9 446.9L202.9 446.9L205.8 446.9L208.7 446.9L211.7 446.9L211.7 446.9L213.0 444.2L214.3 441.4L214.6 440.7L215.6 438.7L216.9 436.0L217.5 434.6L218.2 433.2L219.5 430.5L220.5 428.5L220.8 427.8L222.1 425.0L223.4 422.4L223.5 422.3L224.8 419.6L226.2 416.8L226.3 416.4L227.5 414.1L228.9 411.3L229.3 410.5L230.2 408.6L231.6 405.9L232.2 404.6L232.9 403.1L234.3 400.4L235.1 398.8L235.7 397.7L237.1 394.9L238.1 392.9L238.4 392.2L239.8 389.5L241.0 387.1L241.2 386.7L242.6 384.0L243.9 381.3L243.9 381.3L245.3 378.5L246.7 375.8L246.9 375.5L248.1 373.1L249.5 370.3L249.8 369.7L250.9 367.6L252.3 364.8L252.7 363.9L253.7 362.1L255.0 359.4L255.7 358.1L256.4 356.6L257.8 353.9L258.6 352.4L259.2 351.2L260.6 348.4L261.5 346.6L262.0 345.7L263.4 343.0L264.5 340.8L264.7 340.2L266.1 337.5L267.4 335.0L267.5 334.8L268.9 332.0L270.3 329.3L270.3 329.1L271.6 326.6L273.0 323.8L273.3 323.3L274.4 321.1L275.7 318.4L276.2 317.4L277.1 315.6L278.5 312.9L279.1 311.5L279.8 310.1L281.2 307.4L282.1 305.6L282.5 304.7L283.9 301.9L285.0 299.7L285.2 299.2L286.6 296.5L287.9 293.7L287.9 293.7L289.2 291.0L290.6 288.3L290.9 287.7L291.9 285.5L293.2 282.8L293.8 281.6L294.6 280.1L295.9 277.3L296.7 275.5L297.2 274.6L298.5 271.9L299.7 269.4L299.8 269.1L301.1 266.4L302.4 263.7L302.6 263.2L303.7 260.9L305.0 258.2L305.5 257.0L306.2 255.4L307.5 252.7L308.5 250.7L308.8 250.0L310.1 247.2L311.3 244.5L311.4 244.3L312.6 241.8L313.8 239.0L314.3 237.9L315.1 236.3L316.3 233.6L317.3 231.5L317.6 230.8L318.8 228.1L320.0 225.4L320.2 225.0L321.2 222.6L322.5 219.9L323.1 218.4L323.7 217.2L324.9 214.4L326.1 211.7L326.1 211.7L327.3 209.0L328.4 206.2L329.0 204.9L329.6 203.5L330.8 200.8L331.9 198.1L332.0 198.0L333.1 195.3L334.3 192.5L334.9 191.2L335.4 189.8L336.6 187.1L337.7 184.3L337.8 184.2L338.9 181.6L340.0 178.9L340.7 177.1L341.1 176.1L342.2 173.4L343.3 170.7L343.7 169.9L344.4 167.9L345.5 165.2L346.6 162.5L346.6 162.5L347.7 159.7L348.8 157.0L349.5 155.1L349.9 154.3L350.9 151.5L352.0 148.8L352.5 147.5L353.0 146.1L354.1 143.3L355.1 140.6L355.4 139.9L356.2 137.8L357.2 135.1L358.2 132.4L358.3 132.0L359.2 129.6L360.2 126.9L361.2 124.2L361.3 124.1L362.2 121.4L363.2 118.7L361.3 118.7L358.3 118.7L355.4 118.7L352.5 118.7L349.5 118.7L346.6 118.7L343.7 118.7L340.7 118.7L337.8 118.7L334.9 118.7L331.9 118.7L329.0 118.7L326.1 118.7L323.1 118.7L320.2 118.7L317.3 118.7L314.3 118.7L311.4 118.7L308.5 118.7L305.5 118.7L302.6 118.7L299.7 118.7L296.7 118.7L293.8 118.7L290.9 118.7L287.9 118.7L285.0 118.7L282.1 118.7L279.1 118.7L276.2 118.7L273.3 118.7L270.3 118.7L267.4 118.7L264.5 118.7L261.5 118.7L258.6 118.7L255.7 118.7L252.7 118.7L249.8 118.7L246.9 118.7L243.9 118.7L241.0 118.7L238.1 118.7L235.1 118.7L232.2 118.7L229.3 118.7L226.3 118.7L223.4 118.7L220.5 118.7L217.5 118.7L214.6 118.7L211.7 118.7L208.7 118.7L205.8 118.7L202.9 118.7L199.9 118.7L197.0 118.7L194.1 118.7L191.1 118.7L188.2 118.7L185.3 118.7L182.3 118.7L179.4 118.7L176.5 118.7L173.5 118.7L170.6 118.7L167.7 118.7L164.7 118.7L161.8 118.7L158.9 118.7L155.9 118.7L153.0 118.7L150.1 118.7L147.1 118.7L144.2 118.7L141.3 118.7L138.3 118.7L135.4 118.7L132.5 118.7L129.5 118.7L126.6 118.7L123.7 118.7L120.7 118.7L117.8 118.7L114.9 118.7L111.9 118.7L109.0 118.7L109.0 121.4L109.0 124.2L109.0 126.9L109.0 129.6L109.0 132.4L109.0 135.1L109.0 137.8L109.0 140.6L109.0 143.3L109.0 146.1L109.0 148.8L109.0 151.5L109.0 154.3L109.0 157.0L109.0 159.7L109.0 162.5L109.0 165.2L109.0 167.9L109.0 170.7L109.0 173.4L109.0 176.1L109.0 178.9L109.0 181.6L109.0 184.3L109.0 187.1L109.0 189.8L109.0 192.5L109.0 195.3L109.0 198.0L109.0 200.8L109.0 203.5L109.0 206.2L109.0 209.0L109.0 211.7L109.0 214.4L109.0 217.2L109.0 219.9L109.0 222.6L109.0 225.4L109.0 228.1L109.0 230.8L109.0 233.6L109.0 236.3L109.0 239.0L109.0 241.8L109.0 244.5L109.0 247.2L109.0 250.0L109.0 252.7L109.0 255.4L109.0 258.2L109.0 260.9L109.0 263.7L109.0 266.4L109.0 269.1L109.0 271.9L109.0 274.6L109.0 277.3L109.0 280.1L109.0 282.8L109.0 285.5L109.0 288.3L109.0 291.0L109.0 293.7L109.0 296.5L109.0 299.2L109.0 301.9L109.0 304.7L109.0 307.4L109.0 310.1L109.0 312.9L109.0 315.6L109.0 318.4L109.0 321.1L109.0 323.8L109.0 326.6L109.0 329.3L109.0 332.0L109.0 334.8L109.0 337.5L109.0 340.2L109.0 343.0L109.0 345.7L109.0 348.4L109.0 351.2L109.0 353.9L109.0 356.6L109.0 359.4L109.0 362.1L109.0 364.8L109.0 367.6L109.0 370.3L109.0 373.1L109.0 375.8L109.0 378.5L109.0 381.3L109.0 384.0L109.0 386.7L109.0 389.5L109.0 392.2L109.0 394.9L109.0 397.7L109.0 400.4L109.0 403.1L109.0 405.9L109.0 408.6L109.0 411.3L109.0 414.1L109.0 416.8L109.0 419.6L109.0 422.3L109.0 425.0L109.0 427.8L109.0 430.5L109.0 433.2L109.0 436.0L109.0 438.7L109.0 441.4L109.0 444.2L109.0 446.9Z" fill="#f89540" stroke="#f89540" stroke-width="0.6"/>
<path d="M109.0 446.9L111.9 446.9L114.9 446.9L117.8 446.9L120.7 446.9L123.7 446.9L126.6 446.9L129.5 446.9L132.5 446.9L135.4 446.9L138.3 446.9L141.3 446.9L144.2 446.9L147.1 446.9L150.1 446.9L153.0 446.9L155.9 446.9L158.9 446.9L161.8 446.9L164.7 446.9L167.7 446.9L170.6 446.9L173.5 446.9L176.5 446.9L179.4 446.9L182.3 446.9L185.3 446.9L188.2 446.9L191.1 446.9L194.1 446.9L194.1 446.9L195.3 444.2L196.5 441.4L197.0 440.3L197.7 438.7L199.0 436.0L199.9 433.8L200.2 433.2L201.4 430.5L202.7 427.8L202.9 427.3L203.9 425.0L205.2 422.3L205.8 420.9L206.4 419.6L207.7 416.8L208.7 414.6L209.0 414.1L210.3 411.3L211.5 408.6L211.7 408.3L212.8 405.9L214.1 403.1L214.6 402.1L215.4 400.4L216.7 397.7L217.5 395.9L218.0 394.9L219.3 392.2L220.5 389.7L220.6 389.5L221.9 386.7L223.2 384.0L223.4 383.6L224.5 381.3L225.8 378.5L226.3 377.5L227.1 375.8L228.5 373.1L229.3 371.4L229.8 370.3L231.1 367.6L232.2 365.3L232.4 364.8L233.7 362.1L235.0 359.4L235.1 359.2L236.3 356.6L237.7 353.9L238.1 353.1L239.0 351.2L240.3 348.4L241.0 347.0L241.6 345.7L242.9 343.0L243.9 340.8L244.2 340.2L245.5 337.5L246.8 334.8L246.9 334.7L248.2 332.0L249.5 329.3L249.8 328.6L250.8 326.6L252.1 323.8L252.7 322.4L253.4 321.1L254.7 318.4L255.7 316.3L256.0 315.6L257.3 312.9L258.6 310.2L258.6 310.1L259.9 307.4L261.1 304.7L261.5 303.8L262.4 301.9L263.7 299.2L264.5 297.6L265.0 296.5L266.3 293.7L267.4 291.3L267.5 291.0L268.8 288.3L270.1 285.5L270.3 284.9L271.3 282.8L272.6 280.1L273.3 278.6L273.8 277.3L275.1 274.6L276.2 272.1L276.3 271.9L277.6 269.1L278.8 266.4L279.1 265.7L280.0 263.7L281.3 260.9L282.1 259.1L282.5 258.2L283.7 255.4L284.9 252.7L285.0 252.6L286.2 250.0L287.4 247.2L287.9 245.9L288.6 244.5L289.8 241.8L290.9 239.2L291.0 239.0L292.2 236.3L293.3 233.6L293.8 232.5L294.5 230.8L295.7 228.1L296.7 225.6L296.9 225.4L298.0 222.6L299.2 219.9L299.7 218.7L300.3 217.2L301.5 214.4L302.6 211.7L302.6 211.7L303.8 209.0L304.9 206.2L305.5 204.7L306.0 203.5L307.2 200.8L308.3 198.0L308.5 197.5L309.4 195.3L310.5 192.5L311.4 190.3L311.6 189.8L312.7 187.1L313.8 184.3L314.3 182.9L314.8 181.6L315.9 178.9L317.0 176.1L317.3 175.4L318.1 173.4L319.1 170.7L320.2 167.9L320.2 167.9L321.2 165.2L322.3 162.5L323.1 160.2L323.3 159.7L324.3 157.0L325.4 154.3L326.1 152.4L326.4 151.5L327.4 148.8L328.4 146.1L329.0 144.4L329.4 143.3L330.4 140.6L331.4 137.8L331.9 136.3L332.4 135.1L333.3 132.4L334.3 129.6L334.9 128.1L335.3 126.9L336.2 124.2L337.2 121.4L337.8 119.6L338.1 118.7L337.8 118.7L334.9 118.7L331.9 118.7L329.0 118.7L326.1 118.7L323.1 118.7L320.2 118.7L317.3 118.7L314.3 118.7L311.4 118.7L308.5 118.7L305.5 118.7L302.6 118.7L299.7 118.7L296.7 118.7L293.8 118.7L290.9 118.7L287.9 118.7L285.0 118.7L282.1 118.7L279.1 118.7L276.2 118.7L273.3 118.7L270.3 118.7L267.4 118.7L264.5 118.7L261.5 118.7L258.6 118.7L255.7 118.7L252.7 118.7L249.8 118.7L246.9 118.7L243.9 118.7L241.0 118.7L238.1 118.7L235.1 118.7L232.2 118.7L229.3 118.7L226.3 118.7L223.4 118.7L220.5 118.7L217.5 118.7L214.6 118.7L211.7 118.7L208.7 118.7L205.8 118.7L202.9 118.7L199.9 118.7L197.0 118.7L194.1 118.7L191.1 118.7L188.2 118.7L185.3 118.7L182.3 118.7L179.4 118.7L176.5 118.7L173.5 118.7L170.6 118.7L167.7 118.7L164.7 118.7L161.8 118.7L158.9 118.7L155.9 118.7L153.0 118.7L150.1 118.7L147.1 118.7L144.2 118.7L141.3 118.7L138.3 118.7L135.4 118.7L132.5 118.7L129.5 118.7L126.6 118.7L123.7 118.7L120.7 118.7L117.8 118.7L114.9 118.7L111.9 118.7L109.0 118.7L109.0 121.4L109.0 124.2L109.0 126.9L109.0 129.6L109.0 132.4L109.0 135.1L109.0 137.8L109.0 140.6L109.0 143.3L109.0 146.1L109.0 148.8L109.0 151.5L109.0 154.3L109.0 157.0L109.0 159.7L109.0 162.5L109.0 165.2L109.0 167.9L109.0 170.7L109.0 173.4L109.0 176.1L109.0 178.9L109.0 181.6L109.0 184.3L109.0 187.1L109.0 189.8L109.0 192.5L109.0 195.3L109.0 198.0L109.0 200.8L109.0 203.5L109.0 206.2L109.0 209.0L109.0 211.7L109.0 214.4L109.0 217.2L109.0 219.9L109.0 222.6L109.0 225.4L109.0 228.1L109.0 230.8L109.0 233.6L109.0 236.3L109.0 239.0L109.0 241.8L109.0 244.5L109.0 247.2L109.0 250.0L109.0 252.7L109.0 255.4L109.0 258.2L109.0 260.9L109.0 263.7L109.0 266.4L109.0 269.1L109.0 271.9L109.0 274.6L109.0 277.3L109.0 280.1L109.0 282.8L109.0 285.5L109.0 288.3L109.0 291.0L109.0 293.7L109.0 296.5L109.0 299.2L109.0 301.9L109.0 304.7L109.0 307.4L109.0 310.1L109.0 312.9L109.0 315.6L109.0 318.4L109.0 321.1L109.0 323.8L109.0 326.6L109.0 329.3L109.0 332.0L109.0 334.8L109.0 337.5L109.0 340.2L109.0 343.0L109.0 345.7L109.0 348.4L109.0 351.2L109.0 353.9L109.0 356.6L109.0 359.4L109.0 362.1L109.0 364.8L109.0 367.6L109.0 370.3L109.0 373.1L109.0 375.8L109.0 378.5L109.0 381.3L109.0 384.0L109.0 386.7L109.0 389.5L109.0 392.2L109.0 394.9L109.0 397.7L109.0 400.4L109.0 403.1L109.0 405.9L109.0 408.6L109.0 411.3L109.0 414.1L109.0 416.8L109.0 419.6L109.0 422.3L109.0 425.0L109.0 427.8L109.0 430.5L109.0 433.2L109.0 436.0L109.0 438.7L109.0 441.4L109.0 444.2L109.0 446.9Z" fill="#feba2c" stroke="#feba2c" stroke-width="0.6"/>
<path d="M109.0 446.9L111.9 446.9L114.9 446.9L117.8 446.9L120.7 446.9L123.7 446.9L126.6 446.9L129.5 446.9L132.5 446.9L135.4 446.9L138.3 446.9L141.3 446.9L144.2 446.9L147.1 446.9L150.1 446.9L153.0 446.9L155.9 446.9L158.9 446.9L161.8 446.9L164.7 446.9L167.7 446.9L170.6 446.9L173.5 446.9L176.5 446.9L179.0 446.9L179.4 446.0L180.2 444.2L181.3 441.4L182.3 439.0L182.5 438.7L183.6 436.0L184.8 433.2L185.3 432.1L186.0 430.5L187.2 427.8L188.2 425.3L188.3 425.0L189.5 422.3L190.7 419.6L191.1 418.6L191.9 416.8L193.1 414.1L194.1 412.0L194.4 411.3L195.6 408.6L196.8 405.9L197.0 405.4L198.0 403.1L199.2 400.4L199.9 398.9L200.5 397.7L201.7 394.9L202.9 392.4L202.9 392.2L204.2 389.5L205.4 386.7L205.8 385.9L206.7 384.0L207.9 381.3L208.7 379.5L209.2 378.5L210.4 375.8L211.7 373.1L211.7 373.1L212.9 370.3L214.2 367.6L214.6 366.7L215.4 364.8L216.7 362.1L217.5 360.3L217.9 359.4L219.2 356.6L220.4 353.9L220.5 353.9L221.7 351.2L223.0 348.4L223.4 347.5L224.2 345.7L225.5 343.0L226.3 341.1L226.7 340.2L228.0 337.5L229.2 334.8L229.3 334.7L230.5 332.0L231.7 329.3L232.2 328.3L233.0 326.6L234.2 323.8L235.1 321.8L235.5 321.1L236.7 318.4L237.9 315.6L238.1 315.3L239.2 312.9L240.4 310.1L241.0 308.9L241.7 307.4L242.9 304.7L243.9 302.3L244.1 301.9L245.3 299.2L246.6 296.5L246.9 295.8L247.8 293.7L249.0 291.0L249.8 289.2L250.2 288.3L251.4 285.5L252.6 282.8L252.7 282.6L253.8 280.1L255.0 277.3L255.7 275.9L256.2 274.6L257.4 271.9L258.6 269.2L258.6 269.1L259.8 266.4L261.0 263.7L261.5 262.4L262.2 260.9L263.3 258.2L264.5 255.5L264.5 255.4L265.7 252.7L266.8 250.0L267.4 248.7L268.0 247.2L269.2 244.5L270.3 241.8L270.3 241.7L271.5 239.0L272.6 236.3L273.3 234.7L273.7 233.6L274.9 230.8L276.0 228.1L276.2 227.6L277.1 225.4L278.2 222.6L279.1 220.4L279.3 219.9L280.4 217.2L281.5 214.4L282.1 213.1L282.6 211.7L283.7 209.0L284.8 206.2L285.0 205.8L285.9 203.5L287.0 200.8L287.9 198.3L288.1 198.0L289.1 195.3L290.2 192.5L290.9 190.8L291.2 189.8L292.3 187.1L293.3 184.3L293.8 183.1L294.4 181.6L295.4 178.9L296.4 176.1L296.7 175.4L297.5 173.4L298.5 170.7L299.5 167.9L299.7 167.5L300.5 165.2L301.5 162.5L302.5 159.7L302.6 159.5L303.5 157.0L304.5 154.3L305.5 151.5L305.5 151.3L306.4 148.8L307.4 146.1L308.4 143.3L308.5 143.0L309.3 140.6L310.3 137.8L311.2 135.1L311.4 134.6L312.2 132.4L313.1 129.6L314.0 126.9L314.3 126.0L314.9 124.2L315.9 121.4L316.8 118.7L314.3 118.7L311.4 118.7L308.5 118.7L305.5 118.7L302.6 118.7L299.7 118.7L296.7 118.7L293.8 118.7L290.9 118.7L287.9 118.7L285.0 118.7L282.1 118.7L279.1 118.7L276.2 118.7L273.3 118.7L270.3 118.7L267.4 118.7L264.5 118.7L261.5 118.7L258.6 118.7L255.7 118.7L252.7 118.7L249.8 118.7L246.9 118.7L243.9 118.7L241.0 118.7L238.1 118.7L235.1 118.7L232.2 118.7L229.3 118.7L226.3 118.7L223.4 118.7L220.5 118.7L217.5 118.7L214.6 118.7L211.7 118.7L208.7 118.7L205.8 118.7L202.9 118.7L199.9 118.7L197.0 118.7L194.1 118.7L191.1 118.7L188.2 118.7L185.3 118.7L182.3 118.7L179.4 118.7L176.5 118.7L173.5 118.7L170.6 118.7L167.7 118.7L164.7 118.7L161.8 118.7L158.9 118.7L155.9 118.7L153.0 118.7L150.1 118.7L147.1 118.7L144.2 118.7L141.3 118.7L138.3 118.7L135.4 118.7L132.5 118.7L129.5 118.7L126.6 118.7L123.7 118.7L120.7 118.7L117.8 118.7L114.9 118.7L111.9 118.7L109.0 118.7L109.0 121.4L109.0 124.2L109.0 126.9L109.0 129.6L109.0 132.4L109.0 135.1L109.0 137.8L109.0 140.6L109.0 143.3L109.0 146.1L109.0 148.8L109.0 151.5L109.0 154.3L109.0 157.0L109.0 159.7L109.0 162.5L109.0 165.2L109.0 167.9L109.0 170.7L109.0 173.4L109.0 176.1L109.0 178.9L109.0 181.6L109.0 184.3L109.0 187.1L109.0 189.8L109.0 192.5L109.0 195.3L109.0 198.0L109.0 200.8L109.0 203.5L109.0 206.2L109.0 209.0L109.0 211.7L109.0 214.4L109.0 217.2L109.0 219.9L109.0 222.6L109.0 225.4L109.0 228.1L109.0 230.8L109.0 233.6L109.0 236.3L109.0 239.0L109.0 241.8L109.0 244.5L109.0 247.2L109.0 250.0L109.0 252.7L109.0 255.4L109.0 258.2L109.0 260.9L109.0 263.7L109.0 266.4L109.0 269.1L109.0 271.9L109.0 274.6L109.0 277.3L109.0 280.1L109.0 282.8L109.0 285.5L109.0 288.3L109.0 291.0L109.0 293.7L109.0 296.5L109.0 299.2L109.0 301.9L109.0 304.7L109.0 307.4L109.0 310.1L109.0 312.9L109.0 315.6L109.0 318.4L109.0 321.1L109.0 323.8L109.0 326.6L109.0 329.3L109.0 332.0L109.0 334.8L109.0 337.5L109.0 340.2L109.0 343.0L109.0 345.7L109.0 348.4L109.0 351.2L109.0 353.9L109.0 356.6L109.0 359.4L109.0 362.1L109.0 364.8L109.0 367.6L109.0 370.3L109.0 373.1L109.0 375.8L109.0 378.5L109.0 381.3L109.0 384.0L109.0 386.7L109.0 389.5L109.0 392.2L109.0 394.9L109.0 397.7L109.0 400.4L109.0 403.1L109.0 405.9L109.0 408.6L109.0 411.3L109.0 414.1L109.0 416.8L109.0 419.6L109.0 422.3L109.0 425.0L109.0 427.8L109.0 430.5L109.0 433.2L109.0 436.0L109.0 438.7L109.0 441.4L109.0 444.2L109.0 446.9Z" fill="#f7e425" stroke="#f7e425" stroke-width="0.6"/>
<path d="M109.0 446.9L111.9 446.9L114.9 446.9L117.8 446.9L120.7 446.9L123.7 446.9L126.6 446.9L129.5 446.9L132.5 446.9L135.4 446.9L138.3 446.9L141.3 446.9L144.2 446.9L147.1 446.9L150.1 446.9L153.0 446.9L155.9 446.9L158.9 446.9L161.8 446.9L164.7 446.9L166.0 446.9L167.1 444.2L167.7 442.7L168.2 441.4L169.3 438.7L170.4 436.0L170.6 435.4L171.5 433.2L172.6 430.5L173.5 428.2L173.7 427.8L174.9 425.0L176.0 422.3L176.5 421.2L177.1 419.6L178.3 416.8L179.4 414.2L179.4 414.1L180.6 411.3L181.8 408.6L182.3 407.3L182.9 405.9L184.1 403.1L185.3 400.4L185.3 400.4L186.5 397.7L187.6 394.9L188.2 393.6L188.8 392.2L190.0 389.5L191.1 386.9L191.2 386.7L192.4 384.0L193.6 381.3L194.1 380.2L194.8 378.5L196.0 375.8L197.0 373.5L197.2 373.1L198.4 370.3L199.6 367.6L199.9 366.8L200.8 364.8L202.0 362.1L202.9 360.1L203.2 359.4L204.4 356.6L205.6 353.9L205.8 353.4L206.8 351.2L208.0 348.4L208.7 346.8L209.2 345.7L210.4 343.0L211.6 340.2L211.7 340.1L212.8 337.5L214.0 334.8L214.6 333.4L215.2 332.0L216.4 329.3L217.5 326.7L217.6 326.6L218.8 323.8L220.0 321.1L220.5 320.0L221.2 318.4L222.4 315.6L223.4 313.3L223.6 312.9L224.8 310.1L225.9 307.4L226.3 306.5L227.1 304.7L228.3 301.9L229.3 299.7L229.5 299.2L230.7 296.5L231.8 293.7L232.2 292.9L233.0 291.0L234.2 288.3L235.1 286.0L235.3 285.5L236.5 282.8L237.7 280.1L238.1 279.1L238.8 277.3L240.0 274.6L241.0 272.1L241.1 271.9L242.3 269.1L243.4 266.4L243.9 265.1L244.5 263.7L245.7 260.9L246.8 258.2L246.9 258.0L247.9 255.4L249.1 252.7L249.8 250.9L250.2 250.0L251.3 247.2L252.4 244.5L252.7 243.7L253.5 241.8L254.6 239.0L255.7 236.4L255.7 236.3L256.8 233.6L257.9 230.8L258.6 229.1L259.0 228.1L260.1 225.4L261.1 222.6L261.5 221.6L262.2 219.9L263.3 217.2L264.3 214.4L264.5 214.1L265.4 211.7L266.5 209.0L267.4 206.5L267.5 206.2L268.6 203.5L269.6 200.8L270.3 198.8L270.6 198.0L271.7 195.3L272.7 192.5L273.3 191.0L273.7 189.8L274.7 187.1L275.7 184.3L276.2 183.0L276.7 181.6L277.7 178.9L278.7 176.1L279.1 175.0L279.7 173.4L280.7 170.7L281.7 167.9L282.1 166.8L282.6 165.2L283.6 162.5L284.6 159.7L285.0 158.5L285.5 157.0L286.5 154.3L287.4 151.5L287.9 150.0L288.4 148.8L289.3 146.1L290.2 143.3L290.9 141.4L291.2 140.6L292.1 137.8L293.0 135.1L293.8 132.7L293.9 132.4L294.8 129.6L295.7 126.9L296.6 124.2L296.7 123.7L297.5 121.4L298.4 118.7L296.7 118.7L293.8 118.7L290.9 118.7L287.9 118.7L285.0 118.7L282.1 118.7L279.1 118.7L276.2 118.7L273.3 118.7L270.3 118.7L267.4 118.7L264.5 118.7L261.5 118.7L258.6 118.7L255.7 118.7L252.7 118.7L249.8 118.7L246.9 118.7L243.9 118.7L241.0 118.7L238.1 118.7L235.1 118.7L232.2 118.7L229.3 118.7L226.3 118.7L223.4 118.7L220.5 118.7L217.5 118.7L214.6 118.7L211.7 118.7L208.7 118.7L205.8 118.7L202.9 118.7L199.9 118.7L197.0 118.7L194.1 118.7L191.1 118.7L188.2 118.7L185.3 118.7L182.3 118.7L179.4 118.7L176.5 118.7L173.5 118.7L170.6 118.7L167.7 118.7L164.7 118.7L161.8 118.7L158.9 118.7L155.9 118.7L153.0 118.7L150.1 118.7L147.1 118.7L144.2 118.7L141.3 118.7L138.3 118.7L135.4 118.7L132.5 118.7L129.5 118.7L126.6 118.7L123.7 118.7L120.7 118.7L117.8 118.7L114.9 118.7L111.9 118.7L109.0 118.7L109.0 121.4L109.0 124.2L109.0 126.9L109.0 129.6L109.0 132.4L109.0 135.1L109.0 137.8L109.0 140.6L109.0 143.3L109.0 146.1L109.0 148.8L109.0 151.5L109.0 154.3L109.0 157.0L109.0 159.7L109.0 162.5L109.0 165.2L109.0 167.9L109.0 170.7L109.0 173.4L109.0 176.1L109.0 178.9L109.0 181.6L109.0 184.3L109.0 187.1L109.0 189.8L109.0 192.5L109.0 195.3L109.0 198.0L109.0 200.8L109.0 203.5L109.0 206.2L109.0 209.0L109.0 211.7L109.0 214.4L109.0 217.2L109.0 219.9L109.0 222.6L109.0 225.4L109.0 228.1L109.0 230.8L109.0 233.6L109.0 236.3L109.0 239.0L109.0 241.8L109.0 244.5L109.0 247.2L109.0 250.0L109.0 252.7L109.0 255.4L109.0 258.2L109.0 260.9L109.0 263.7L109.0 266.4L109.0 269.1L109.0 271.9L109.0 274.6L109.0 277.3L109.0 280.1L109.0 282.8L109.0 285.5L109.0 288.3L109.0 291.0L109.0 293.7L109.0 296.5L109.0 299.2L109.0 301.9L109.0 304.7L109.0 307.4L109.0 310.1L109.0 312.9L109.0 315.6L109.0 318.4L109.0 321.1L109.0 323.8L109.0 326.6L109.0 329.3L109.0 332.0L109.0 334.8L109.0 337.5L109.0 340.2L109.0 343.0L109.0 345.7L109.0 348.4L109.0 351.2L109.0 353.9L109.0 356.6L109.0 359.4L109.0 362.1L109.0 364.8L109.0 367.6L109.0 370.3L109.0 373.1L109.0 375.8L109.0 378.5L109.0 381.3L109.0 384.0L109.0 386.7L109.0 389.5L109.0 392.2L109.0 394.9L109.0 397.7L109.0 400.4L109.0 403.1L109.0 405.9L109.0 408.6L109.0 411.3L109.0 414.1L109.0 416.8L109.0 419.6L109.0 422.3L109.0 425.0L109.0 427.8L109.0 430.5L109.0 433.2L109.0 436.0L109.0 438.7L109.0 441.4L109.0 444.2L109.0 446.9Z" fill="#f0f921" stroke="#f0f921" stroke-width="0.6"/>
<path d="M277.1 463.3L281.2 457.2L285.3 451.1L289.3 445.0L293.3 438.8L297.4 432.7L301.4 426.6L305.3 420.5L309.3 414.4L313.2 408.2L317.2 402.1L321.1 396.0L324.9 389.9L328.8 383.8L332.7 377.6L336.5 371.5L340.3 365.4L344.1 359.3L347.8 353.2L351.6 347.0L355.3 340.9L359.0 334.8L362.7 328.7L366.4 322.6L370.0 316.5L373.7 310.3L377.3 304.2L380.9 298.1L384.4 292.0L388.0 285.9L391.5 279.7L395.1 273.6L398.6 267.5L402.0 261.4L405.5 255.3L408.9 249.1L412.4 243.0L415.8 236.9L419.1 230.8L422.5 224.7L425.8 218.6L429.2 212.4L432.5 206.3L435.8 200.2L439.0 194.1L442.3 188.0L445.5 181.8L448.7 175.7L451.9 169.6L455.1 163.5L458.2 157.4L461.4 151.2L464.5 145.1L467.6 139.0L470.6 132.9L473.7 126.8L476.7 120.6L479.8 114.5L482.8 108.4L485.7 102.3" fill="none" stroke="#2ca02c" stroke-width="4.00" stroke-linecap="square"/>
<path d="M97.3 462.3L103.6 456.5L110.0 450.9L116.4 445.5L122.7 440.3L129.1 435.3L135.4 430.5L141.8 425.8L148.2 421.3L154.5 416.9L160.9 412.7L167.3 408.6L173.6 404.6L180.0 400.7L186.4 396.9L192.7 393.2L199.1 389.6L205.5 386.1L211.8 382.7L218.2 379.3L224.5 376.0L230.9 372.8L237.3 369.6L243.6 366.4L250.0 363.3L256.4 360.3L262.7 357.2L269.1 354.2L275.5 351.3L281.8 348.3L288.2 345.4L294.5 342.5L300.9 339.6L307.3 336.7L313.6 333.9L320.0 331.1L326.4 328.2L332.7 325.4L339.1 322.6L345.5 319.8L351.8 317.0L358.2 314.3L364.5 311.5L370.9 308.8L377.3 306.1L383.6 303.4L390.0 300.7L396.4 298.1L402.7 295.4L409.1 292.9L415.5 290.3L421.8 287.8L428.2 285.3L434.6 282.9L440.9 280.5L447.3 278.2L453.6 275.9L460.0 273.7L466.4 271.6L472.7 269.5" fill="none" stroke="#ff7f0e" stroke-width="4.00" stroke-linecap="square"/>
<path d="M378.5 463.3L375.1 457.2L371.8 451.1L368.6 445.0L365.5 438.8L362.3 432.7L359.3 426.6L356.3 420.5L353.3 414.4L350.4 408.2L347.5 402.1L344.7 396.0L342.0 389.9L339.3 383.8L336.6 377.6L334.0 371.5L331.4 365.4L328.8 359.3L326.3 353.2L323.9 347.0L321.5 340.9L319.1 334.8L316.8 328.7L314.5 322.6L312.2 316.5L310.0 310.3L307.8 304.2L305.7 298.1L303.5 292.0L301.5 285.9L299.4 279.7L297.4 273.6L295.4 267.5L293.5 261.4L291.5 255.3L289.6 249.1L287.8 243.0L285.9 236.9L284.1 230.8L282.3 224.7L280.5 218.6L278.8 212.4L277.1 206.3L275.4 200.2L273.7 194.1L272.0 188.0L270.4 181.8L268.8 175.7L267.2 169.6L265.6 163.5L264.0 157.4L262.5 151.2L260.9 145.1L259.4 139.0L257.9 132.9L256.4 126.8L254.9 120.6L253.4 114.5L251.9 108.4L250.5 102.3" fill="none" stroke="#1f77b4" stroke-width="4.00" stroke-linecap="square"/>
<path d="M253.5 315.8L269.5 331.8M253.5 331.8L269.5 315.8" stroke="#000" stroke-width="4.50" fill="none"/>
<circle cx="333.4" cy="323.8" r="5.50" fill="#000"/>
<path d="M272.2 323.8L316.9 323.8" stroke="#000" stroke-width="2.90" fill="none"/>
<path d="M306.9 318.3L317.9 323.8L306.9 329.3" stroke="#000" stroke-width="2.90" fill="none" stroke-linejoin="miter"/>
</g>
<rect x="109.0" y="118.7" width="352.0" height="328.2" fill="none" stroke="#000" stroke-width="2.00"/>
<path d="M109.0 446.9V456.2" stroke="#000" stroke-width="2.00"/>
<path d="M226.3 446.9V456.2" stroke="#000" stroke-width="2.00"/>
<path d="M343.7 446.9V456.2" stroke="#000" stroke-width="2.00"/>
<path d="M461.0 446.9V456.2" stroke="#000" stroke-width="2.00"/>
<path d="M109.0 446.9H99.7" stroke="#000" stroke-width="2.00"/>
<text x="90.3" y="457.3" font-size="27.40" text-anchor="end" font-family="DejaVu Sans, Liberation Sans, sans-serif">4</text>
<path d="M109.0 364.8H99.7" stroke="#000" stroke-width="2.00"/>
<text x="90.3" y="375.3" font-size="27.40" text-anchor="end" font-family="DejaVu Sans, Liberation Sans, sans-serif">5</text>
<path d="M109.0 282.8H99.7" stroke="#000" stroke-width="2.00"/>
<text x="90.3" y="293.2" font-size="27.40" text-anchor="end" font-family="DejaVu Sans, Liberation Sans, sans-serif">6</text>
<path d="M109.0 200.8H99.7" stroke="#000" stroke-width="2.00"/>
<text x="90.3" y="211.2" font-size="27.40" text-anchor="end" font-family="DejaVu Sans, Liberation Sans, sans-serif">7</text>
<path d="M109.0 118.7H99.7" stroke="#000" stroke-width="2.00"/>
<text x="90.3" y="129.1" font-size="27.40" text-anchor="end" font-family="DejaVu Sans, Liberation Sans, sans-serif">8</text>
<rect x="483.2" y="415.64" width="16.1" height="31.26" fill="#2a0593" stroke="#2a0593" stroke-width="0.5"/>
<rect x="483.2" y="384.39" width="16.1" height="31.26" fill="#5601a4" stroke="#5601a4" stroke-width="0.5"/>
<rect x="483.2" y="353.13" width="16.1" height="31.26" fill="#7e03a8" stroke="#7e03a8" stroke-width="0.5"/>
<rect x="483.2" y="321.87" width="16.1" height="31.26" fill="#a11b9b" stroke="#a11b9b" stroke-width="0.5"/>
<rect x="483.2" y="290.61" width="16.1" height="31.26" fill="#bf3984" stroke="#bf3984" stroke-width="0.5"/>
<rect x="483.2" y="259.36" width="16.1" height="31.26" fill="#d6556d" stroke="#d6556d" stroke-width="0.5"/>
<rect x="483.2" y="228.10" width="16.1" height="31.26" fill="#ea7457" stroke="#ea7457" stroke-width="0.5"/>
<rect x="483.2" y="196.84" width="16.1" height="31.26" fill="#f89540" stroke="#f89540" stroke-width="0.5"/>
<rect x="483.2" y="165.59" width="16.1" height="31.26" fill="#feba2c" stroke="#feba2c" stroke-width="0.5"/>
<rect x="483.2" y="134.33" width="16.1" height="31.26" fill="#f7e425" stroke="#f7e425" stroke-width="0.5"/>
<path d="M483.2 134.3L491.2 118.7L499.3 134.3Z" fill="#f0f921"/>
<path d="M483.2 134.3L491.2 118.7L499.3 134.3L499.3 446.9L483.2 446.9Z" fill="none" stroke="#000" stroke-width="2.00" stroke-linejoin="miter"/>
<path d="M499.3 446.90H508.6" stroke="#000" stroke-width="2.00"/>
<text x="518.6" y="457.31" font-size="27.40" font-family="DejaVu Sans, Liberation Sans, sans-serif">0</text>
<path d="M499.3 384.39H508.6" stroke="#000" stroke-width="2.00"/>
<text x="518.6" y="394.80" font-size="27.40" font-family="DejaVu Sans, Liberation Sans, sans-serif">1</text>
<path d="M499.3 321.87H508.6" stroke="#000" stroke-width="2.00"/>
<text x="518.6" y="332.28" font-size="27.40" font-family="DejaVu Sans, Liberation Sans, sans-serif">2</text>
<path d="M499.3 259.36H508.6" stroke="#000" stroke-width="2.00"/>
<text x="518.6" y="269.77" font-size="27.40" font-family="DejaVu Sans, Liberation Sans, sans-serif">3</text>
<path d="M499.3 196.84H508.6" stroke="#000" stroke-width="2.00"/>
<text x="518.6" y="207.25" font-size="27.40" font-family="DejaVu Sans, Liberation Sans, sans-serif">4</text>
<path d="M499.3 134.33H508.6" stroke="#000" stroke-width="2.00"/>
<text x="518.6" y="144.74" font-size="27.40" font-family="DejaVu Sans, Liberation Sans, sans-serif">5</text>
<g clip-path="url(#c2)">
<rect x="637.6" y="118.7" width="352.2" height="328.2" fill="#0d0887"/>
<rect x="637.6" y="118.7" width="352.2" height="328.2" fill="#310597"/>
<rect x="637.6" y="118.7" width="352.2" height="328.2" fill="#6600a7"/>
<path d="M637.6 446.9L640.5 446.9L643.5 446.9L646.4 446.9L649.3 446.9L652.3 446.9L655.2 446.9L658.1 446.9L661.1 446.9L664.0 446.9L667.0 446.9L669.9 446.9L672.8 446.9L675.8 446.9L678.7 446.9L681.6 446.9L684.6 446.9L687.5 446.9L690.4 446.9L693.4 446.9L696.3 446.9L699.2 446.9L702.2 446.9L705.1 446.9L708.0 446.9L711.0 446.9L713.9 446.9L716.8 446.9L719.8 446.9L722.7 446.9L725.6 446.9L728.6 446.9L731.5 446.9L734.5 446.9L737.4 446.9L740.3 446.9L743.3 446.9L746.2 446.9L749.1 446.9L752.1 446.9L755.0 446.9L757.9 446.9L760.9 446.9L763.8 446.9L766.7 446.9L769.7 446.9L772.6 446.9L775.5 446.9L778.5 446.9L781.4 446.9L784.4 446.9L787.3 446.9L790.2 446.9L793.2 446.9L796.1 446.9L799.0 446.9L802.0 446.9L804.9 446.9L807.8 446.9L810.8 446.9L813.7 446.9L816.6 446.9L819.6 446.9L822.5 446.9L825.4 446.9L828.4 446.9L831.3 446.9L834.2 446.9L837.2 446.9L840.1 446.9L843.0 446.9L846.0 446.9L848.9 446.9L851.9 446.9L854.8 446.9L857.7 446.9L860.7 446.9L863.6 446.9L866.5 446.9L869.5 446.9L872.4 446.9L875.3 446.9L878.3 446.9L881.2 446.9L884.1 446.9L887.1 446.9L888.2 446.9L890.0 446.3L892.9 445.2L895.9 444.2L895.9 444.2L898.8 443.1L901.8 442.1L903.7 441.4L904.7 441.1L907.6 440.0L910.6 439.0L911.4 438.7L913.5 438.0L916.4 436.9L919.2 436.0L919.4 435.9L922.3 434.9L925.2 433.8L927.0 433.2L928.2 432.8L931.1 431.8L934.0 430.8L934.8 430.5L937.0 429.7L939.9 428.7L942.6 427.8L942.8 427.7L945.8 426.7L948.7 425.6L950.4 425.0L951.6 424.6L954.6 423.6L957.5 422.5L958.3 422.3L960.4 421.5L963.4 420.5L966.1 419.6L966.3 419.5L969.3 418.5L972.2 417.4L974.0 416.8L975.1 416.4L978.1 415.4L981.0 414.4L981.8 414.1L983.9 413.3L986.9 412.3L989.7 411.3L989.8 411.3L989.8 408.6L989.8 405.9L989.8 403.1L989.8 400.4L989.8 397.7L989.8 394.9L989.8 392.2L989.8 389.5L989.8 386.7L989.8 384.0L989.8 381.3L989.8 378.5L989.8 375.8L989.8 373.1L989.8 370.3L989.8 367.6L989.8 364.8L989.8 362.1L989.8 359.4L989.8 356.6L989.8 353.9L989.8 351.2L989.8 348.4L989.8 345.7L989.8 343.0L989.8 340.2L989.8 337.5L989.8 334.8L989.8 332.0L989.8 329.3L989.8 326.6L989.8 323.8L989.8 321.1L989.8 318.4L989.8 315.6L989.8 312.9L989.8 310.1L989.8 307.4L989.8 304.7L989.8 301.9L989.8 299.2L989.8 296.5L989.8 293.7L989.8 291.0L989.8 288.3L989.8 285.5L989.8 282.8L989.8 280.1L989.8 277.3L989.8 274.6L989.8 271.9L989.8 269.1L989.8 266.4L989.8 263.7L989.8 260.9L989.8 258.2L989.8 255.4L989.8 252.7L989.8 250.0L989.8 247.2L989.8 244.5L989.8 241.8L989.8 239.0L989.8 236.3L989.8 233.6L989.8 230.8L989.8 228.1L989.8 225.4L989.8 222.6L989.8 219.9L989.8 217.2L989.8 214.4L989.8 211.7L989.8 209.0L989.8 206.2L989.8 203.5L989.8 200.8L989.8 198.0L989.8 195.3L989.8 192.5L989.8 189.8L989.8 187.1L989.8 184.3L989.8 181.6L989.8 178.9L989.8 176.1L989.8 173.4L989.8 170.7L989.8 167.9L989.8 165.2L989.8 162.5L989.8 159.7L989.8 157.0L989.8 154.3L989.8 151.5L989.8 148.8L989.8 146.1L989.8 143.3L989.8 140.6L989.8 137.8L989.8 135.1L989.8 132.4L989.8 129.6L989.8 126.9L989.8 124.2L989.8 121.4L989.8 118.7L986.9 118.7L983.9 118.7L981.0 118.7L978.1 118.7L975.1 118.7L972.2 118.7L969.3 118.7L966.3 118.7L963.4 118.7L960.4 118.7L957.5 118.7L954.6 118.7L951.6 118.7L948.7 118.7L945.8 118.7L942.8 118.7L939.9 118.7L937.0 118.7L934.0 118.7L931.1 118.7L928.2 118.7L925.2 118.7L922.3 118.7L919.4 118.7L916.4 118.7L913.5 118.7L910.6 118.7L907.6 118.7L904.7 118.7L901.8 118.7L898.8 118.7L895.9 118.7L892.9 118.7L890.0 118.7L887.1 118.7L884.1 118.7L881.2 118.7L878.3 118.7L875.3 118.7L872.4 118.7L869.5 118.7L866.5 118.7L863.6 118.7L860.7 118.7L857.7 118.7L854.8 118.7L851.9 118.7L848.9 118.7L846.0 118.7L843.0 118.7L840.1 118.7L837.2 118.7L834.2 118.7L831.3 118.7L828.4 118.7L825.4 118.7L822.5 118.7L819.6 118.7L816.6 118.7L813.7 118.7L810.8 118.7L807.8 118.7L804.9 118.7L802.0 118.7L799.0 118.7L796.1 118.7L793.2 118.7L790.2 118.7L787.3 118.7L784.4 118.7L781.4 118.7L778.5 118.7L775.5 118.7L772.6 118.7L769.7 118.7L766.7 118.7L763.8 118.7L760.9 118.7L757.9 118.7L755.0 118.7L752.1 118.7L749.1 118.7L746.2 118.7L743.3 118.7L740.3 118.7L737.4 118.7L734.5 118.7L731.5 118.7L728.6 118.7L725.6 118.7L722.7 118.7L719.8 118.7L716.8 118.7L713.9 118.7L711.0 118.7L708.0 118.7L705.1 118.7L702.2 118.7L699.2 118.7L696.3 118.7L693.4 118.7L690.4 118.7L687.5 118.7L684.6 118.7L681.6 118.7L678.7 118.7L675.8 118.7L672.8 118.7L669.9 118.7L667.0 118.7L664.0 118.7L661.1 118.7L658.1 118.7L655.2 118.7L652.3 118.7L649.3 118.7L646.4 118.7L643.5 118.7L640.5 118.7L637.6 118.7L637.6 121.4L637.6 124.2L637.6 126.9L637.6 129.6L637.6 132.4L637.6 135.1L637.6 137.8L637.6 140.6L637.6 143.3L637.6 146.1L637.6 148.8L637.6 151.5L637.6 154.3L637.6 157.0L637.6 159.7L637.6 162.5L637.6 165.2L637.6 167.9L637.6 170.7L637.6 173.4L637.6 176.1L637.6 178.9L637.6 181.6L637.6 184.3L637.6 187.1L637.6 189.8L637.6 192.5L637.6 195.3L637.6 198.0L637.6 200.8L637.6 203.5L637.6 206.2L637.6 209.0L637.6 211.7L637.6 214.4L637.6 217.2L637.6 219.9L637.6 222.6L637.6 225.4L637.6 228.1L637.6 230.8L637.6 233.6L637.6 236.3L637.6 239.0L637.6 241.8L637.6 244.5L637.6 247.2L637.6 250.0L637.6 252.7L637.6 255.4L637.6 258.2L637.6 260.9L637.6 263.7L637.6 266.4L637.6 269.1L637.6 271.9L637.6 274.6L637.6 277.3L637.6 280.1L637.6 282.8L637.6 285.5L637.6 288.3L637.6 291.0L637.6 293.7L637.6 296.5L637.6 299.2L637.6 301.9L637.6 304.7L637.6 307.4L637.6 310.1L637.6 312.9L637.6 315.6L637.6 318.4L637.6 321.1L637.6 323.8L637.6 326.6L637.6 329.3L637.6 332.0L637.6 334.8L637.6 337.5L637.6 340.2L637.6 343.0L637.6 345.7L637.6 348.4L637.6 351.2L637.6 353.9L637.6 356.6L637.6 359.4L637.6 362.1L637.6 364.8L637.6 367.6L637.6 370.3L637.6 373.1L637.6 375.8L637.6 378.5L637.6 381.3L637.6 384.0L637.6 386.7L637.6 389.5L637.6 392.2L637.6 394.9L637.6 397.7L637.6 400.4L637.6 403.1L637.6 405.9L637.6 408.6L637.6 411.3L637.6 414.1L637.6 416.8L637.6 419.6L637.6 422.3L637.6 425.0L637.6 427.8L637.6 430.5L637.6 433.2L637.6 436.0L637.6 438.7L637.6 441.4L637.6 444.2L637.6 446.9Z" fill="#9511a1" stroke="#9511a1" stroke-width="0.6"/>
<path d="M637.6 446.9L640.5 446.9L643.5 446.9L646.4 446.9L649.3 446.9L652.3 446.9L655.2 446.9L658.1 446.9L661.1 446.9L664.0 446.9L667.0 446.9L669.9 446.9L672.8 446.9L675.8 446.9L678.7 446.9L681.6 446.9L684.6 446.9L687.5 446.9L690.4 446.9L693.4 446.9L696.3 446.9L699.2 446.9L702.2 446.9L705.1 446.9L708.0 446.9L711.0 446.9L713.9 446.9L716.8 446.9L719.8 446.9L722.7 446.9L725.6 446.9L728.6 446.9L731.1 446.9L731.5 446.7L734.5 445.3L736.8 444.2L737.4 443.9L740.3 442.5L742.6 441.4L743.3 441.1L746.2 439.8L748.5 438.7L749.1 438.4L752.1 437.1L754.5 436.0L755.0 435.7L757.9 434.4L760.6 433.2L760.9 433.1L763.8 431.8L766.7 430.5L766.8 430.5L769.7 429.2L772.6 428.0L773.1 427.8L775.5 426.7L778.5 425.4L779.4 425.0L781.4 424.2L784.4 422.9L785.9 422.3L787.3 421.7L790.2 420.5L792.4 419.6L793.2 419.2L796.1 418.0L799.0 416.8L799.0 416.8L802.0 415.6L804.9 414.4L805.6 414.1L807.8 413.2L810.8 412.0L812.4 411.3L813.7 410.8L816.6 409.6L819.2 408.6L819.6 408.4L822.5 407.3L825.4 406.1L826.0 405.9L828.4 404.9L831.3 403.8L832.9 403.1L834.2 402.6L837.2 401.5L839.9 400.4L840.1 400.3L843.0 399.2L846.0 398.0L846.9 397.7L848.9 396.9L851.9 395.8L854.0 394.9L854.8 394.6L857.7 393.5L860.7 392.4L861.1 392.2L863.6 391.3L866.5 390.1L868.3 389.5L869.5 389.0L872.4 387.9L875.3 386.8L875.5 386.7L878.3 385.7L881.2 384.6L882.7 384.0L884.1 383.5L887.1 382.4L890.0 381.3L890.0 381.3L892.9 380.2L895.9 379.1L897.3 378.5L898.8 378.0L901.8 376.9L904.6 375.8L904.7 375.8L907.6 374.7L910.6 373.6L912.0 373.1L913.5 372.5L916.4 371.4L919.3 370.3L919.4 370.3L922.3 369.2L925.2 368.1L926.7 367.6L928.2 367.1L931.1 366.0L934.0 364.9L934.1 364.8L937.0 363.8L939.9 362.7L941.5 362.1L942.8 361.6L945.8 360.6L948.7 359.5L949.0 359.4L951.6 358.4L954.6 357.3L956.4 356.6L957.5 356.2L960.4 355.2L963.4 354.1L963.9 353.9L966.3 353.0L969.3 351.9L971.3 351.2L972.2 350.9L975.1 349.8L978.1 348.7L978.8 348.4L981.0 347.6L983.9 346.6L986.2 345.7L986.9 345.5L989.8 344.4L989.8 343.0L989.8 340.2L989.8 337.5L989.8 334.8L989.8 332.0L989.8 329.3L989.8 326.6L989.8 323.8L989.8 321.1L989.8 318.4L989.8 315.6L989.8 312.9L989.8 310.1L989.8 307.4L989.8 304.7L989.8 301.9L989.8 299.2L989.8 296.5L989.8 293.7L989.8 291.0L989.8 288.3L989.8 285.5L989.8 282.8L989.8 280.1L989.8 277.3L989.8 274.6L989.8 271.9L989.8 269.1L989.8 266.4L989.8 263.7L989.8 260.9L989.8 258.2L989.8 255.4L989.8 252.7L989.8 250.0L989.8 247.2L989.8 244.5L989.8 241.8L989.8 239.0L989.8 236.3L989.8 233.6L989.8 230.8L989.8 228.1L989.8 225.4L989.8 222.6L989.8 219.9L989.8 217.2L989.8 214.4L989.8 211.7L989.8 209.0L989.8 206.2L989.8 203.5L989.8 200.8L989.8 198.0L989.8 195.3L989.8 192.5L989.8 189.8L989.8 187.1L989.8 184.3L989.8 181.6L989.8 178.9L989.8 176.1L989.8 173.4L989.8 170.7L989.8 167.9L989.8 165.2L989.8 162.5L989.8 159.7L989.8 157.0L989.8 154.3L989.8 151.5L989.8 148.8L989.8 146.1L989.8 143.3L989.8 140.6L989.8 137.8L989.8 135.1L989.8 132.4L989.8 129.6L989.8 126.9L989.8 124.2L989.8 121.4L989.8 118.7L986.9 118.7L983.9 118.7L981.0 118.7L978.1 118.7L975.1 118.7L972.2 118.7L969.3 118.7L966.3 118.7L963.4 118.7L960.4 118.7L957.5 118.7L954.6 118.7L951.6 118.7L948.7 118.7L945.8 118.7L942.8 118.7L939.9 118.7L937.0 118.7L934.0 118.7L931.1 118.7L928.2 118.7L925.2 118.7L922.3 118.7L919.4 118.7L916.4 118.7L913.5 118.7L910.6 118.7L907.6 118.7L904.7 118.7L901.8 118.7L898.8 118.7L895.9 118.7L892.9 118.7L890.0 118.7L887.1 118.7L884.1 118.7L881.2 118.7L878.3 118.7L875.3 118.7L872.4 118.7L869.5 118.7L866.5 118.7L863.6 118.7L860.7 118.7L857.7 118.7L854.8 118.7L851.9 118.7L848.9 118.7L846.0 118.7L843.0 118.7L840.1 118.7L837.2 118.7L834.2 118.7L831.3 118.7L828.4 118.7L825.4 118.7L822.5 118.7L819.6 118.7L816.6 118.7L813.7 118.7L810.8 118.7L807.8 118.7L804.9 118.7L802.0 118.7L799.0 118.7L796.1 118.7L793.2 118.7L790.2 118.7L787.3 118.7L784.4 118.7L781.4 118.7L778.5 118.7L775.5 118.7L772.6 118.7L769.7 118.7L766.7 118.7L763.8 118.7L760.9 118.7L757.9 118.7L755.0 118.7L752.1 118.7L749.1 118.7L746.2 118.7L743.3 118.7L740.3 118.7L737.4 118.7L734.5 118.7L731.5 118.7L728.6 118.7L725.6 118.7L722.7 118.7L719.8 118.7L716.8 118.7L713.9 118.7L711.0 118.7L708.0 118.7L705.1 118.7L702.2 118.7L699.2 118.7L696.3 118.7L693.4 118.7L690.4 118.7L687.5 118.7L684.6 118.7L681.6 118.7L678.7 118.7L675.8 118.7L672.8 118.7L669.9 118.7L667.0 118.7L664.0 118.7L661.1 118.7L658.1 118.7L655.2 118.7L652.3 118.7L649.3 118.7L646.4 118.7L643.5 118.7L640.5 118.7L637.6 118.7L637.6 121.4L637.6 124.2L637.6 126.9L637.6 129.6L637.6 132.4L637.6 135.1L637.6 137.8L637.6 140.6L637.6 143.3L637.6 146.1L637.6 148.8L637.6 151.5L637.6 154.3L637.6 157.0L637.6 159.7L637.6 162.5L637.6 165.2L637.6 167.9L637.6 170.7L637.6 173.4L637.6 176.1L637.6 178.9L637.6 181.6L637.6 184.3L637.6 187.1L637.6 189.8L637.6 192.5L637.6 195.3L637.6 198.0L637.6 200.8L637.6 203.5L637.6 206.2L637.6 209.0L637.6 211.7L637.6 214.4L637.6 217.2L637.6 219.9L637.6 222.6L637.6 225.4L637.6 228.1L637.6 230.8L637.6 233.6L637.6 236.3L637.6 239.0L637.6 241.8L637.6 244.5L637.6 247.2L637.6 250.0L637.6 252.7L637.6 255.4L637.6 258.2L637.6 260.9L637.6 263.7L637.6 266.4L637.6 269.1L637.6 271.9L637.6 274.6L637.6 277.3L637.6 280.1L637.6 282.8L637.6 285.5L637.6 288.3L637.6 291.0L637.6 293.7L637.6 296.5L637.6 299.2L637.6 301.9L637.6 304.7L637.6 307.4L637.6 310.1L637.6 312.9L637.6 315.6L637.6 318.4L637.6 321.1L637.6 323.8L637.6 326.6L637.6 329.3L637.6 332.0L637.6 334.8L637.6 337.5L637.6 340.2L637.6 343.0L637.6 345.7L637.6 348.4L637.6 351.2L637.6 353.9L637.6 356.6L637.6 359.4L637.6 362.1L637.6 364.8L637.6 367.6L637.6 370.3L637.6 373.1L637.6 375.8L637.6 378.5L637.6 381.3L637.6 384.0L637.6 386.7L637.6 389.5L637.6 392.2L637.6 394.9L637.6 397.7L637.6 400.4L637.6 403.1L637.6 405.9L637.6 408.6L637.6 411.3L637.6 414.1L637.6 416.8L637.6 419.6L637.6 422.3L637.6 425.0L637.6 427.8L637.6 430.5L637.6 433.2L637.6 436.0L637.6 438.7L637.6 441.4L637.6 444.2L637.6 446.9Z" fill="#bc3587" stroke="#bc3587" stroke-width="0.6"/>
<path d="M637.6 446.9L640.5 446.9L642.8 446.9L643.5 446.4L646.2 444.2L646.4 444.0L649.3 441.7L649.7 441.4L652.3 439.5L653.3 438.7L655.2 437.2L656.9 436.0L658.1 435.0L660.6 433.2L661.1 432.9L664.0 430.7L664.3 430.5L667.0 428.6L668.2 427.8L669.9 426.5L672.0 425.0L672.8 424.5L675.8 422.4L676.0 422.3L678.7 420.4L680.0 419.6L681.6 418.4L684.0 416.8L684.6 416.5L687.5 414.5L688.2 414.1L690.4 412.6L692.4 411.3L693.4 410.7L696.3 408.9L696.7 408.6L699.2 407.0L701.1 405.9L702.2 405.2L705.1 403.4L705.5 403.1L708.0 401.6L710.0 400.4L711.0 399.8L713.9 398.1L714.6 397.7L716.8 396.3L719.2 394.9L719.8 394.6L722.7 392.9L724.0 392.2L725.6 391.2L728.6 389.6L728.7 389.5L731.5 387.9L733.6 386.7L734.5 386.3L737.4 384.6L738.6 384.0L740.3 383.0L743.3 381.4L743.6 381.3L746.2 379.9L748.7 378.5L749.1 378.3L752.1 376.7L753.9 375.8L755.0 375.2L757.9 373.7L759.1 373.1L760.9 372.1L763.8 370.6L764.4 370.3L766.7 369.1L769.7 367.7L769.8 367.6L772.6 366.2L775.3 364.8L775.5 364.7L778.5 363.3L780.8 362.1L781.4 361.8L784.4 360.4L786.4 359.4L787.3 359.0L790.2 357.5L792.1 356.6L793.2 356.1L796.1 354.7L797.8 353.9L799.0 353.3L802.0 352.0L803.6 351.2L804.9 350.6L807.8 349.2L809.5 348.4L810.8 347.9L813.7 346.5L815.4 345.7L816.6 345.1L819.6 343.8L821.4 343.0L822.5 342.5L825.4 341.1L827.5 340.2L828.4 339.8L831.3 338.5L833.6 337.5L834.2 337.2L837.2 335.9L839.7 334.8L840.1 334.6L843.0 333.3L845.9 332.0L846.0 332.0L848.9 330.7L851.9 329.4L852.2 329.3L854.8 328.1L857.7 326.9L858.5 326.6L860.7 325.6L863.6 324.3L864.8 323.8L866.5 323.1L869.5 321.8L871.2 321.1L872.4 320.6L875.3 319.3L877.6 318.4L878.3 318.1L881.2 316.8L884.1 315.6L884.1 315.6L887.1 314.4L890.0 313.1L890.6 312.9L892.9 311.9L895.9 310.7L897.1 310.1L898.8 309.4L901.8 308.2L903.7 307.4L904.7 307.0L907.6 305.8L910.3 304.7L910.6 304.6L913.5 303.4L916.4 302.1L916.9 301.9L919.4 300.9L922.3 299.7L923.6 299.2L925.2 298.5L928.2 297.3L930.2 296.5L931.1 296.1L934.0 294.9L936.9 293.7L937.0 293.7L939.9 292.5L942.8 291.3L943.6 291.0L945.8 290.1L948.7 288.9L950.4 288.3L951.6 287.7L954.6 286.6L957.1 285.5L957.5 285.4L960.4 284.2L963.4 283.0L963.9 282.8L966.3 281.8L969.3 280.6L970.6 280.1L972.2 279.4L975.1 278.2L977.4 277.3L978.1 277.1L981.0 275.9L983.9 274.7L984.2 274.6L986.9 273.5L989.8 272.3L989.8 271.9L989.8 269.1L989.8 266.4L989.8 263.7L989.8 260.9L989.8 258.2L989.8 255.4L989.8 252.7L989.8 250.0L989.8 247.2L989.8 244.5L989.8 241.8L989.8 239.0L989.8 236.3L989.8 233.6L989.8 230.8L989.8 228.1L989.8 225.4L989.8 222.6L989.8 219.9L989.8 217.2L989.8 214.4L989.8 211.7L989.8 209.0L989.8 206.2L989.8 203.5L989.8 200.8L989.8 198.0L989.8 195.3L989.8 192.5L989.8 189.8L989.8 187.1L989.8 184.3L989.8 181.6L989.8 178.9L989.8 176.1L989.8 173.4L989.8 170.7L989.8 167.9L989.8 165.2L989.8 162.5L989.8 159.7L989.8 157.0L989.8 154.3L989.8 151.5L989.8 148.8L989.8 146.1L989.8 143.3L989.8 140.6L989.8 137.8L989.8 135.1L989.8 132.4L989.8 129.6L989.8 126.9L989.8 124.2L989.8 121.4L989.8 118.7L986.9 118.7L983.9 118.7L981.0 118.7L978.1 118.7L975.1 118.7L972.2 118.7L969.3 118.7L966.3 118.7L963.4 118.7L960.4 118.7L957.5 118.7L954.6 118.7L951.6 118.7L948.7 118.7L945.8 118.7L942.8 118.7L939.9 118.7L937.0 118.7L934.0 118.7L931.1 118.7L928.2 118.7L925.2 118.7L922.3 118.7L919.4 118.7L916.4 118.7L913.5 118.7L910.6 118.7L907.6 118.7L904.7 118.7L901.8 118.7L898.8 118.7L895.9 118.7L892.9 118.7L890.0 118.7L887.1 118.7L884.1 118.7L881.2 118.7L878.3 118.7L875.3 118.7L872.4 118.7L869.5 118.7L866.5 118.7L863.6 118.7L860.7 118.7L857.7 118.7L854.8 118.7L851.9 118.7L848.9 118.7L846.0 118.7L843.0 118.7L840.1 118.7L837.2 118.7L834.2 118.7L831.3 118.7L828.4 118.7L825.4 118.7L822.5 118.7L819.6 118.7L816.6 118.7L813.7 118.7L810.8 118.7L807.8 118.7L804.9 118.7L802.0 118.7L799.0 118.7L796.1 118.7L793.2 118.7L790.2 118.7L787.3 118.7L784.4 118.7L781.4 118.7L778.5 118.7L775.5 118.7L772.6 118.7L769.7 118.7L766.7 118.7L763.8 118.7L760.9 118.7L757.9 118.7L755.0 118.7L752.1 118.7L749.1 118.7L746.2 118.7L743.3 118.7L740.3 118.7L737.4 118.7L734.5 118.7L731.5 118.7L728.6 118.7L725.6 118.7L722.7 118.7L719.8 118.7L716.8 118.7L713.9 118.7L711.0 118.7L708.0 118.7L705.1 118.7L702.2 118.7L699.2 118.7L696.3 118.7L693.4 118.7L690.4 118.7L687.5 118.7L684.6 118.7L681.6 118.7L678.7 118.7L675.8 118.7L672.8 118.7L669.9 118.7L667.0 118.7L664.0 118.7L661.1 118.7L658.1 118.7L655.2 118.7L652.3 118.7L649.3 118.7L646.4 118.7L643.5 118.7L640.5 118.7L637.6 118.7L637.6 121.4L637.6 124.2L637.6 126.9L637.6 129.6L637.6 132.4L637.6 135.1L637.6 137.8L637.6 140.6L637.6 143.3L637.6 146.1L637.6 148.8L637.6 151.5L637.6 154.3L637.6 157.0L637.6 159.7L637.6 162.5L637.6 165.2L637.6 167.9L637.6 170.7L637.6 173.4L637.6 176.1L637.6 178.9L637.6 181.6L637.6 184.3L637.6 187.1L637.6 189.8L637.6 192.5L637.6 195.3L637.6 198.0L637.6 200.8L637.6 203.5L637.6 206.2L637.6 209.0L637.6 211.7L637.6 214.4L637.6 217.2L637.6 219.9L637.6 222.6L637.6 225.4L637.6 228.1L637.6 230.8L637.6 233.6L637.6 236.3L637.6 239.0L637.6 241.8L637.6 244.5L637.6 247.2L637.6 250.0L637.6 252.7L637.6 255.4L637.6 258.2L637.6 260.9L637.6 263.7L637.6 266.4L637.6 269.1L637.6 271.9L637.6 274.6L637.6 277.3L637.6 280.1L637.6 282.8L637.6 285.5L637.6 288.3L637.6 291.0L637.6 293.7L637.6 296.5L637.6 299.2L637.6 301.9L637.6 304.7L637.6 307.4L637.6 310.1L637.6 312.9L637.6 315.6L637.6 318.4L637.6 321.1L637.6 323.8L637.6 326.6L637.6 329.3L637.6 332.0L637.6 334.8L637.6 337.5L637.6 340.2L637.6 343.0L637.6 345.7L637.6 348.4L637.6 351.2L637.6 353.9L637.6 356.6L637.6 359.4L637.6 362.1L637.6 364.8L637.6 367.6L637.6 370.3L637.6 373.1L637.6 375.8L637.6 378.5L637.6 381.3L637.6 384.0L637.6 386.7L637.6 389.5L637.6 392.2L637.6 394.9L637.6 397.7L637.6 400.4L637.6 403.1L637.6 405.9L637.6 408.6L637.6 411.3L637.6 414.1L637.6 416.8L637.6 419.6L637.6 422.3L637.6 425.0L637.6 427.8L637.6 430.5L637.6 433.2L637.6 436.0L637.6 438.7L637.6 441.4L637.6 444.2L637.6 446.9Z" fill="#da5a6a" stroke="#da5a6a" stroke-width="0.6"/>
<path d="M637.6 400.4L637.6 402.5L639.7 400.4L640.5 399.6L642.6 397.7L643.5 396.9L645.5 394.9L646.4 394.1L648.5 392.2L649.3 391.4L651.5 389.5L652.3 388.7L654.5 386.7L655.2 386.1L657.6 384.0L658.1 383.5L660.7 381.3L661.1 380.9L663.8 378.5L664.0 378.4L667.0 375.9L667.0 375.8L669.9 373.4L670.3 373.1L672.8 370.9L673.6 370.3L675.8 368.5L676.9 367.6L678.7 366.1L680.3 364.8L681.6 363.8L683.7 362.1L684.6 361.4L687.2 359.4L687.5 359.1L690.4 356.9L690.7 356.6L693.4 354.6L694.3 353.9L696.3 352.4L697.9 351.2L699.2 350.2L701.6 348.4L702.2 348.0L705.1 345.8L705.3 345.7L708.0 343.7L709.0 343.0L711.0 341.6L712.8 340.2L713.9 339.5L716.7 337.5L716.8 337.4L719.8 335.3L720.6 334.8L722.7 333.3L724.6 332.0L725.6 331.3L728.6 329.3L728.6 329.3L731.5 327.3L732.7 326.6L734.5 325.4L736.8 323.8L737.4 323.4L740.3 321.5L741.0 321.1L743.3 319.6L745.2 318.4L746.2 317.7L749.1 315.9L749.5 315.6L752.1 314.0L753.8 312.9L755.0 312.2L757.9 310.3L758.2 310.1L760.9 308.5L762.7 307.4L763.8 306.7L766.7 304.9L767.2 304.7L769.7 303.2L771.7 301.9L772.6 301.4L775.5 299.7L776.3 299.2L778.5 297.9L781.0 296.5L781.4 296.2L784.4 294.5L785.7 293.7L787.3 292.8L790.2 291.1L790.4 291.0L793.2 289.5L795.3 288.3L796.1 287.8L799.0 286.1L800.1 285.5L802.0 284.5L804.9 282.9L805.0 282.8L807.8 281.2L810.0 280.1L810.8 279.6L813.7 278.0L815.0 277.3L816.6 276.4L819.6 274.9L820.1 274.6L822.5 273.3L825.2 271.9L825.4 271.7L828.4 270.1L830.3 269.1L831.3 268.6L834.2 267.1L835.5 266.4L837.2 265.5L840.1 264.0L840.8 263.7L843.0 262.5L846.0 260.9L846.0 260.9L848.9 259.4L851.4 258.2L851.9 257.9L854.8 256.4L856.7 255.4L857.7 254.9L860.7 253.5L862.1 252.7L863.6 252.0L866.5 250.5L867.6 250.0L869.5 249.0L872.4 247.6L873.1 247.2L875.3 246.1L878.3 244.7L878.6 244.5L881.2 243.2L884.1 241.8L884.2 241.8L887.1 240.3L889.7 239.0L890.0 238.9L892.9 237.5L895.4 236.3L895.9 236.1L898.8 234.6L901.0 233.6L901.8 233.2L904.7 231.8L906.7 230.8L907.6 230.4L910.6 229.0L912.4 228.1L913.5 227.6L916.4 226.2L918.1 225.4L919.4 224.8L922.3 223.4L923.9 222.6L925.2 222.0L928.2 220.6L929.7 219.9L931.1 219.2L934.0 217.8L935.5 217.2L937.0 216.5L939.9 215.1L941.3 214.4L942.8 213.7L945.8 212.3L947.1 211.7L948.7 211.0L951.6 209.6L953.0 209.0L954.6 208.2L957.5 206.9L958.9 206.2L960.4 205.5L963.4 204.1L964.8 203.5L966.3 202.8L969.3 201.4L970.7 200.8L972.2 200.0L975.1 198.7L976.6 198.0L978.1 197.3L981.0 196.0L982.5 195.3L983.9 194.6L986.9 193.3L988.5 192.5L989.8 191.9L989.8 189.8L989.8 187.1L989.8 184.3L989.8 181.6L989.8 178.9L989.8 176.1L989.8 173.4L989.8 170.7L989.8 167.9L989.8 165.2L989.8 162.5L989.8 159.7L989.8 157.0L989.8 154.3L989.8 151.5L989.8 148.8L989.8 146.1L989.8 143.3L989.8 140.6L989.8 137.8L989.8 135.1L989.8 132.4L989.8 129.6L989.8 126.9L989.8 124.2L989.8 121.4L989.8 118.7L986.9 118.7L983.9 118.7L981.0 118.7L978.1 118.7L975.1 118.7L972.2 118.7L969.3 118.7L966.3 118.7L963.4 118.7L960.4 118.7L957.5 118.7L954.6 118.7L951.6 118.7L948.7 118.7L945.8 118.7L942.8 118.7L939.9 118.7L937.0 118.7L934.0 118.7L931.1 118.7L928.2 118.7L925.2 118.7L922.3 118.7L919.4 118.7L916.4 118.7L913.5 118.7L910.6 118.7L907.6 118.7L904.7 118.7L901.8 118.7L898.8 118.7L895.9 118.7L892.9 118.7L890.0 118.7L887.1 118.7L884.1 118.7L881.2 118.7L878.3 118.7L875.3 118.7L872.4 118.7L869.5 118.7L866.5 118.7L863.6 118.7L860.7 118.7L857.7 118.7L854.8 118.7L851.9 118.7L848.9 118.7L846.0 118.7L843.0 118.7L840.1 118.7L837.2 118.7L834.2 118.7L831.3 118.7L828.4 118.7L825.4 118.7L822.5 118.7L819.6 118.7L816.6 118.7L813.7 118.7L810.8 118.7L807.8 118.7L804.9 118.7L802.0 118.7L799.0 118.7L796.1 118.7L793.2 118.7L790.2 118.7L787.3 118.7L784.4 118.7L781.4 118.7L778.5 118.7L775.5 118.7L772.6 118.7L769.7 118.7L766.7 118.7L763.8 118.7L760.9 118.7L757.9 118.7L755.0 118.7L752.1 118.7L749.1 118.7L746.2 118.7L743.3 118.7L740.3 118.7L737.4 118.7L734.5 118.7L731.5 118.7L728.6 118.7L725.6 118.7L722.7 118.7L719.8 118.7L716.8 118.7L713.9 118.7L711.0 118.7L708.0 118.7L705.1 118.7L702.2 118.7L699.2 118.7L696.3 118.7L693.4 118.7L690.4 118.7L687.5 118.7L684.6 118.7L681.6 118.7L678.7 118.7L675.8 118.7L672.8 118.7L669.9 118.7L667.0 118.7L664.0 118.7L661.1 118.7L658.1 118.7L655.2 118.7L652.3 118.7L649.3 118.7L646.4 118.7L643.5 118.7L640.5 118.7L637.6 118.7L637.6 121.4L637.6 124.2L637.6 126.9L637.6 129.6L637.6 132.4L637.6 135.1L637.6 137.8L637.6 140.6L637.6 143.3L637.6 146.1L637.6 148.8L637.6 151.5L637.6 154.3L637.6 157.0L637.6 159.7L637.6 162.5L637.6 165.2L637.6 167.9L637.6 170.7L637.6 173.4L637.6 176.1L637.6 178.9L637.6 181.6L637.6 184.3L637.6 187.1L637.6 189.8L637.6 192.5L637.6 195.3L637.6 198.0L637.6 200.8L637.6 203.5L637.6 206.2L637.6 209.0L637.6 211.7L637.6 214.4L637.6 217.2L637.6 219.9L637.6 222.6L637.6 225.4L637.6 228.1L637.6 230.8L637.6 233.6L637.6 236.3L637.6 239.0L637.6 241.8L637.6 244.5L637.6 247.2L637.6 250.0L637.6 252.7L637.6 255.4L637.6 258.2L637.6 260.9L637.6 263.7L637.6 266.4L637.6 269.1L637.6 271.9L637.6 274.6L637.6 277.3L637.6 280.1L637.6 282.8L637.6 285.5L637.6 288.3L637.6 291.0L637.6 293.7L637.6 296.5L637.6 299.2L637.6 301.9L637.6 304.7L637.6 307.4L637.6 310.1L637.6 312.9L637.6 315.6L637.6 318.4L637.6 321.1L637.6 323.8L637.6 326.6L637.6 329.3L637.6 332.0L637.6 334.8L637.6 337.5L637.6 340.2L637.6 343.0L637.6 345.7L637.6 348.4L637.6 351.2L637.6 353.9L637.6 356.6L637.6 359.4L637.6 362.1L637.6 364.8L637.6 367.6L637.6 370.3L637.6 373.1L637.6 375.8L637.6 378.5L637.6 381.3L637.6 384.0L637.6 386.7L637.6 389.5L637.6 392.2L637.6 394.9L637.6 397.7L637.6 400.4Z" fill="#f0804e" stroke="#f0804e" stroke-width="0.6"/>
<path d="M637.6 351.2L637.6 353.1L639.3 351.2L640.5 349.7L641.7 348.4L643.5 346.5L644.2 345.7L646.4 343.2L646.6 343.0L649.1 340.2L649.3 340.0L651.7 337.5L652.3 336.8L654.2 334.8L655.2 333.7L656.8 332.0L658.1 330.6L659.4 329.3L661.1 327.5L662.0 326.6L664.0 324.5L664.7 323.8L667.0 321.5L667.3 321.1L669.9 318.5L670.1 318.4L672.8 315.6L672.8 315.6L675.6 312.9L675.8 312.7L678.4 310.1L678.7 309.8L681.2 307.4L681.6 307.0L684.0 304.7L684.6 304.2L686.9 301.9L687.5 301.4L689.8 299.2L690.4 298.7L692.8 296.5L693.4 295.9L695.8 293.7L696.3 293.2L698.8 291.0L699.2 290.6L701.8 288.3L702.2 287.9L704.9 285.5L705.1 285.3L708.0 282.8L708.0 282.7L711.0 280.2L711.1 280.1L713.9 277.6L714.3 277.3L716.8 275.1L717.5 274.6L719.8 272.6L720.7 271.9L722.7 270.2L724.0 269.1L725.6 267.7L727.3 266.4L728.6 265.3L730.6 263.7L731.5 262.9L734.0 260.9L734.5 260.5L737.4 258.2L737.4 258.2L740.3 255.8L740.8 255.4L743.3 253.5L744.3 252.7L746.2 251.2L747.8 250.0L749.1 248.9L751.3 247.2L752.1 246.7L754.9 244.5L755.0 244.4L757.9 242.2L758.5 241.8L760.9 240.0L762.1 239.0L763.8 237.8L765.8 236.3L766.7 235.6L769.5 233.6L769.7 233.5L772.6 231.3L773.3 230.8L775.5 229.2L777.1 228.1L778.5 227.1L780.9 225.4L781.4 225.0L784.4 222.9L784.7 222.6L787.3 220.8L788.6 219.9L790.2 218.8L792.5 217.2L793.2 216.7L796.1 214.7L796.5 214.4L799.0 212.7L800.5 211.7L802.0 210.7L804.5 209.0L804.9 208.7L807.8 206.7L808.6 206.2L810.8 204.7L812.7 203.5L813.7 202.8L816.6 200.9L816.8 200.8L819.6 198.9L821.0 198.0L822.5 197.0L825.2 195.3L825.4 195.1L828.4 193.2L829.4 192.5L831.3 191.3L833.6 189.8L834.2 189.4L837.2 187.5L837.9 187.1L840.1 185.7L842.3 184.3L843.0 183.8L846.0 182.0L846.6 181.6L848.9 180.2L851.0 178.9L851.9 178.3L854.8 176.5L855.4 176.1L857.7 174.7L859.8 173.4L860.7 172.9L863.6 171.1L864.3 170.7L866.5 169.3L868.8 167.9L869.5 167.5L872.4 165.8L873.3 165.2L875.3 164.0L877.9 162.5L878.3 162.2L881.2 160.5L882.5 159.7L884.1 158.7L887.1 157.0L887.1 157.0L890.0 155.3L891.7 154.3L892.9 153.5L895.9 151.8L896.4 151.5L898.8 150.1L901.1 148.8L901.8 148.4L904.7 146.7L905.8 146.1L907.6 145.0L910.5 143.3L910.6 143.3L913.5 141.6L915.2 140.6L916.4 139.9L919.4 138.2L920.0 137.8L922.3 136.5L924.8 135.1L925.2 134.9L928.2 133.2L929.6 132.4L931.1 131.5L934.0 129.9L934.4 129.6L937.0 128.2L939.3 126.9L939.9 126.5L942.8 124.9L944.1 124.2L945.8 123.2L948.7 121.6L949.0 121.4L951.6 120.0L953.9 118.7L951.6 118.7L948.7 118.7L945.8 118.7L942.8 118.7L939.9 118.7L937.0 118.7L934.0 118.7L931.1 118.7L928.2 118.7L925.2 118.7L922.3 118.7L919.4 118.7L916.4 118.7L913.5 118.7L910.6 118.7L907.6 118.7L904.7 118.7L901.8 118.7L898.8 118.7L895.9 118.7L892.9 118.7L890.0 118.7L887.1 118.7L884.1 118.7L881.2 118.7L878.3 118.7L875.3 118.7L872.4 118.7L869.5 118.7L866.5 118.7L863.6 118.7L860.7 118.7L857.7 118.7L854.8 118.7L851.9 118.7L848.9 118.7L846.0 118.7L843.0 118.7L840.1 118.7L837.2 118.7L834.2 118.7L831.3 118.7L828.4 118.7L825.4 118.7L822.5 118.7L819.6 118.7L816.6 118.7L813.7 118.7L810.8 118.7L807.8 118.7L804.9 118.7L802.0 118.7L799.0 118.7L796.1 118.7L793.2 118.7L790.2 118.7L787.3 118.7L784.4 118.7L781.4 118.7L778.5 118.7L775.5 118.7L772.6 118.7L769.7 118.7L766.7 118.7L763.8 118.7L760.9 118.7L757.9 118.7L755.0 118.7L752.1 118.7L749.1 118.7L746.2 118.7L743.3 118.7L740.3 118.7L737.4 118.7L734.5 118.7L731.5 118.7L728.6 118.7L725.6 118.7L722.7 118.7L719.8 118.7L716.8 118.7L713.9 118.7L711.0 118.7L708.0 118.7L705.1 118.7L702.2 118.7L699.2 118.7L696.3 118.7L693.4 118.7L690.4 118.7L687.5 118.7L684.6 118.7L681.6 118.7L678.7 118.7L675.8 118.7L672.8 118.7L669.9 118.7L667.0 118.7L664.0 118.7L661.1 118.7L658.1 118.7L655.2 118.7L652.3 118.7L649.3 118.7L646.4 118.7L643.5 118.7L640.5 118.7L637.6 118.7L637.6 121.4L637.6 124.2L637.6 126.9L637.6 129.6L637.6 132.4L637.6 135.1L637.6 137.8L637.6 140.6L637.6 143.3L637.6 146.1L637.6 148.8L637.6 151.5L637.6 154.3L637.6 157.0L637.6 159.7L637.6 162.5L637.6 165.2L637.6 167.9L637.6 170.7L637.6 173.4L637.6 176.1L637.6 178.9L637.6 181.6L637.6 184.3L637.6 187.1L637.6 189.8L637.6 192.5L637.6 195.3L637.6 198.0L637.6 200.8L637.6 203.5L637.6 206.2L637.6 209.0L637.6 211.7L637.6 214.4L637.6 217.2L637.6 219.9L637.6 222.6L637.6 225.4L637.6 228.1L637.6 230.8L637.6 233.6L637.6 236.3L637.6 239.0L637.6 241.8L637.6 244.5L637.6 247.2L637.6 250.0L637.6 252.7L637.6 255.4L637.6 258.2L637.6 260.9L637.6 263.7L637.6 266.4L637.6 269.1L637.6 271.9L637.6 274.6L637.6 277.3L637.6 280.1L637.6 282.8L637.6 285.5L637.6 288.3L637.6 291.0L637.6 293.7L637.6 296.5L637.6 299.2L637.6 301.9L637.6 304.7L637.6 307.4L637.6 310.1L637.6 312.9L637.6 315.6L637.6 318.4L637.6 321.1L637.6 323.8L637.6 326.6L637.6 329.3L637.6 332.0L637.6 334.8L637.6 337.5L637.6 340.2L637.6 343.0L637.6 345.7L637.6 348.4L637.6 351.2Z" fill="#fdac33" stroke="#fdac33" stroke-width="0.6"/>
<path d="M637.6 299.2L637.6 301.9L639.6 299.2L640.5 298.0L641.7 296.5L643.5 294.1L643.7 293.7L645.8 291.0L646.4 290.2L647.9 288.3L649.3 286.4L650.0 285.5L652.1 282.8L652.3 282.6L654.2 280.1L655.2 278.8L656.4 277.3L658.1 275.1L658.6 274.6L660.7 271.9L661.1 271.4L663.0 269.1L664.0 267.8L665.2 266.4L667.0 264.2L667.4 263.7L669.6 260.9L669.9 260.6L671.9 258.2L672.8 257.1L674.2 255.4L675.8 253.6L676.5 252.7L678.7 250.1L678.8 250.0L681.2 247.2L681.6 246.7L683.5 244.5L684.6 243.3L685.9 241.8L687.5 239.9L688.3 239.0L690.4 236.6L690.7 236.3L693.1 233.6L693.4 233.3L695.5 230.8L696.3 230.0L698.0 228.1L699.2 226.7L700.5 225.4L702.2 223.5L703.0 222.6L705.1 220.3L705.5 219.9L708.0 217.2L708.0 217.1L710.6 214.4L711.0 214.0L713.1 211.7L713.9 210.9L715.7 209.0L716.8 207.8L718.3 206.2L719.8 204.7L721.0 203.5L722.7 201.7L723.6 200.8L725.6 198.6L726.3 198.0L728.6 195.7L729.0 195.3L731.5 192.7L731.7 192.5L734.4 189.8L734.5 189.7L737.1 187.1L737.4 186.8L739.9 184.3L740.3 183.9L742.7 181.6L743.3 181.0L745.5 178.9L746.2 178.2L748.3 176.1L749.1 175.3L751.1 173.4L752.1 172.5L754.0 170.7L755.0 169.7L756.9 167.9L757.9 166.9L759.8 165.2L760.9 164.2L762.7 162.5L763.8 161.4L765.7 159.7L766.7 158.7L768.6 157.0L769.7 156.0L771.6 154.3L772.6 153.3L774.6 151.5L775.5 150.7L777.6 148.8L778.5 148.0L780.7 146.1L781.4 145.4L783.8 143.3L784.4 142.8L786.8 140.6L787.3 140.2L789.9 137.8L790.2 137.6L793.1 135.1L793.2 135.0L796.1 132.5L796.2 132.4L799.0 129.9L799.4 129.6L802.0 127.4L802.6 126.9L804.9 124.9L805.8 124.2L807.8 122.4L809.0 121.4L810.8 119.9L812.2 118.7L810.8 118.7L807.8 118.7L804.9 118.7L802.0 118.7L799.0 118.7L796.1 118.7L793.2 118.7L790.2 118.7L787.3 118.7L784.4 118.7L781.4 118.7L778.5 118.7L775.5 118.7L772.6 118.7L769.7 118.7L766.7 118.7L763.8 118.7L760.9 118.7L757.9 118.7L755.0 118.7L752.1 118.7L749.1 118.7L746.2 118.7L743.3 118.7L740.3 118.7L737.4 118.7L734.5 118.7L731.5 118.7L728.6 118.7L725.6 118.7L722.7 118.7L719.8 118.7L716.8 118.7L713.9 118.7L711.0 118.7L708.0 118.7L705.1 118.7L702.2 118.7L699.2 118.7L696.3 118.7L693.4 118.7L690.4 118.7L687.5 118.7L684.6 118.7L681.6 118.7L678.7 118.7L675.8 118.7L672.8 118.7L669.9 118.7L667.0 118.7L664.0 118.7L661.1 118.7L658.1 118.7L655.2 118.7L652.3 118.7L649.3 118.7L646.4 118.7L643.5 118.7L640.5 118.7L637.6 118.7L637.6 121.4L637.6 124.2L637.6 126.9L637.6 129.6L637.6 132.4L637.6 135.1L637.6 137.8L637.6 140.6L637.6 143.3L637.6 146.1L637.6 148.8L637.6 151.5L637.6 154.3L637.6 157.0L637.6 159.7L637.6 162.5L637.6 165.2L637.6 167.9L637.6 170.7L637.6 173.4L637.6 176.1L637.6 178.9L637.6 181.6L637.6 184.3L637.6 187.1L637.6 189.8L637.6 192.5L637.6 195.3L637.6 198.0L637.6 200.8L637.6 203.5L637.6 206.2L637.6 209.0L637.6 211.7L637.6 214.4L637.6 217.2L637.6 219.9L637.6 222.6L637.6 225.4L637.6 228.1L637.6 230.8L637.6 233.6L637.6 236.3L637.6 239.0L637.6 241.8L637.6 244.5L637.6 247.2L637.6 250.0L637.6 252.7L637.6 255.4L637.6 258.2L637.6 260.9L637.6 263.7L637.6 266.4L637.6 269.1L637.6 271.9L637.6 274.6L637.6 277.3L637.6 280.1L637.6 282.8L637.6 285.5L637.6 288.3L637.6 291.0L637.6 293.7L637.6 296.5L637.6 299.2Z" fill="#f8df25" stroke="#f8df25" stroke-width="0.6"/>
<path d="M637.6 247.2L637.6 248.1L638.1 247.2L639.8 244.5L640.5 243.4L641.6 241.8L643.3 239.0L643.5 238.7L645.0 236.3L646.4 234.1L646.7 233.6L648.5 230.8L649.3 229.5L650.3 228.1L652.0 225.4L652.3 225.0L653.8 222.6L655.2 220.5L655.6 219.9L657.4 217.2L658.1 216.0L659.2 214.4L661.0 211.7L661.1 211.6L662.8 209.0L664.0 207.2L664.6 206.2L666.5 203.5L667.0 202.8L668.3 200.8L669.9 198.5L670.2 198.0L672.1 195.3L672.8 194.2L673.9 192.5L675.8 189.9L675.8 189.8L677.7 187.1L678.7 185.6L679.6 184.3L681.5 181.6L681.6 181.4L683.4 178.9L684.6 177.3L685.4 176.1L687.3 173.4L687.5 173.1L689.3 170.7L690.4 169.0L691.2 167.9L693.2 165.2L693.4 164.9L695.2 162.5L696.3 160.9L697.1 159.7L699.1 157.0L699.2 156.8L701.1 154.3L702.2 152.8L703.1 151.5L705.1 148.9L705.2 148.8L707.2 146.1L708.0 144.9L709.2 143.3L711.0 141.0L711.3 140.6L713.3 137.8L713.9 137.1L715.4 135.1L716.8 133.2L717.5 132.4L719.6 129.6L719.8 129.4L721.7 126.9L722.7 125.5L723.8 124.2L725.6 121.7L725.9 121.4L728.0 118.7L725.6 118.7L722.7 118.7L719.8 118.7L716.8 118.7L713.9 118.7L711.0 118.7L708.0 118.7L705.1 118.7L702.2 118.7L699.2 118.7L696.3 118.7L693.4 118.7L690.4 118.7L687.5 118.7L684.6 118.7L681.6 118.7L678.7 118.7L675.8 118.7L672.8 118.7L669.9 118.7L667.0 118.7L664.0 118.7L661.1 118.7L658.1 118.7L655.2 118.7L652.3 118.7L649.3 118.7L646.4 118.7L643.5 118.7L640.5 118.7L637.6 118.7L637.6 121.4L637.6 124.2L637.6 126.9L637.6 129.6L637.6 132.4L637.6 135.1L637.6 137.8L637.6 140.6L637.6 143.3L637.6 146.1L637.6 148.8L637.6 151.5L637.6 154.3L637.6 157.0L637.6 159.7L637.6 162.5L637.6 165.2L637.6 167.9L637.6 170.7L637.6 173.4L637.6 176.1L637.6 178.9L637.6 181.6L637.6 184.3L637.6 187.1L637.6 189.8L637.6 192.5L637.6 195.3L637.6 198.0L637.6 200.8L637.6 203.5L637.6 206.2L637.6 209.0L637.6 211.7L637.6 214.4L637.6 217.2L637.6 219.9L637.6 222.6L637.6 225.4L637.6 228.1L637.6 230.8L637.6 233.6L637.6 236.3L637.6 239.0L637.6 241.8L637.6 244.5L637.6 247.2Z" fill="#f0f921" stroke="#f0f921" stroke-width="0.6"/>
<path d="M805.8 463.3L809.9 457.2L814.0 451.1L818.0 445.0L822.1 438.8L826.1 432.7L830.1 426.6L834.1 420.5L838.0 414.4L842.0 408.2L845.9 402.1L849.8 396.0L853.7 389.9L857.5 383.8L861.4 377.6L865.2 371.5L869.0 365.4L872.8 359.3L876.6 353.2L880.3 347.0L884.1 340.9L887.8 334.8L891.5 328.7L895.1 322.6L898.8 316.5L902.4 310.3L906.0 304.2L909.6 298.1L913.2 292.0L916.8 285.9L920.3 279.7L923.8 273.6L927.3 267.5L930.8 261.4L934.3 255.3L937.7 249.1L941.1 243.0L944.5 236.9L947.9 230.8L951.3 224.7L954.6 218.6L958.0 212.4L961.3 206.3L964.5 200.2L967.8 194.1L971.1 188.0L974.3 181.8L977.5 175.7L980.7 169.6L983.9 163.5L987.0 157.4L990.2 151.2L993.3 145.1L996.4 139.0L999.5 132.9L1002.5 126.8L1005.5 120.6L1008.6 114.5L1011.6 108.4L1014.5 102.3" fill="none" stroke="#2ca02c" stroke-width="4.00" stroke-linecap="square"/>
<path d="M625.9 462.3L632.2 456.5L638.6 450.9L645.0 445.5L651.3 440.3L657.7 435.3L664.1 430.5L670.4 425.8L676.8 421.3L683.2 416.9L689.5 412.7L695.9 408.6L702.3 404.6L708.6 400.7L715.0 396.9L721.4 393.2L727.7 389.6L734.1 386.1L740.5 382.7L746.8 379.3L753.2 376.0L759.6 372.8L765.9 369.6L772.3 366.4L778.7 363.3L785.0 360.3L791.4 357.2L797.8 354.2L804.1 351.3L810.5 348.3L816.9 345.4L823.3 342.5L829.6 339.6L836.0 336.7L842.4 333.9L848.7 331.1L855.1 328.2L861.5 325.4L867.8 322.6L874.2 319.8L880.6 317.0L886.9 314.3L893.3 311.5L899.7 308.8L906.0 306.1L912.4 303.4L918.8 300.7L925.1 298.1L931.5 295.4L937.9 292.9L944.2 290.3L950.6 287.8L957.0 285.3L963.3 282.9L969.7 280.5L976.1 278.2L982.4 275.9L988.8 273.7L995.2 271.6L1001.5 269.5" fill="none" stroke="#ff7f0e" stroke-width="4.00" stroke-linecap="square"/>
<path d="M907.2 463.3L903.9 457.2L900.6 451.1L897.4 445.0L894.2 438.8L891.1 432.7L888.0 426.6L885.0 420.5L882.0 414.4L879.1 408.2L876.3 402.1L873.5 396.0L870.7 389.9L868.0 383.8L865.3 377.6L862.7 371.5L860.1 365.4L857.6 359.3L855.1 353.2L852.6 347.0L850.2 340.9L847.8 334.8L845.5 328.7L843.2 322.6L840.9 316.5L838.7 310.3L836.5 304.2L834.4 298.1L832.3 292.0L830.2 285.9L828.1 279.7L826.1 273.6L824.1 267.5L822.2 261.4L820.2 255.3L818.3 249.1L816.5 243.0L814.6 236.9L812.8 230.8L811.0 224.7L809.2 218.6L807.5 212.4L805.8 206.3L804.1 200.2L802.4 194.1L800.7 188.0L799.1 181.8L797.5 175.7L795.9 169.6L794.3 163.5L792.7 157.4L791.2 151.2L789.6 145.1L788.1 139.0L786.6 132.9L785.1 126.8L783.6 120.6L782.1 114.5L780.6 108.4L779.2 102.3" fill="none" stroke="#1f77b4" stroke-width="4.00" stroke-linecap="square"/>
<path d="M782.2 315.8L798.2 331.8M782.2 331.8L798.2 315.8" stroke="#000" stroke-width="4.50" fill="none"/>
<circle cx="862.1" cy="323.8" r="5.50" fill="#000"/>
<path d="M800.9 323.8L845.6 323.8" stroke="#000" stroke-width="2.90" fill="none"/>
<path d="M835.6 318.3L846.6 323.8L835.6 329.3" stroke="#000" stroke-width="2.90" fill="none" stroke-linejoin="miter"/>
</g>
<rect x="637.6" y="118.7" width="352.2" height="328.2" fill="none" stroke="#000" stroke-width="2.00"/>
<path d="M637.6 446.9V456.2" stroke="#000" stroke-width="2.00"/>
<path d="M755.0 446.9V456.2" stroke="#000" stroke-width="2.00"/>
<path d="M872.4 446.9V456.2" stroke="#000" stroke-width="2.00"/>
<path d="M989.8 446.9V456.2" stroke="#000" stroke-width="2.00"/>
<path d="M637.6 446.9H628.3" stroke="#000" stroke-width="2.00"/>
<path d="M637.6 364.8H628.3" stroke="#000" stroke-width="2.00"/>
<path d="M637.6 282.8H628.3" stroke="#000" stroke-width="2.00"/>
<path d="M637.6 200.8H628.3" stroke="#000" stroke-width="2.00"/>
<path d="M637.6 118.7H628.3" stroke="#000" stroke-width="2.00"/>
<rect x="1011.4" y="394.69" width="16.1" height="37.30" fill="#310597" stroke="#310597" stroke-width="0.5"/>
<rect x="1011.4" y="357.39" width="16.1" height="37.30" fill="#6600a7" stroke="#6600a7" stroke-width="0.5"/>
<rect x="1011.4" y="320.10" width="16.1" height="37.30" fill="#9511a1" stroke="#9511a1" stroke-width="0.5"/>
<rect x="1011.4" y="282.80" width="16.1" height="37.30" fill="#bc3587" stroke="#bc3587" stroke-width="0.5"/>
<rect x="1011.4" y="245.50" width="16.1" height="37.30" fill="#da5a6a" stroke="#da5a6a" stroke-width="0.5"/>
<rect x="1011.4" y="208.21" width="16.1" height="37.30" fill="#f0804e" stroke="#f0804e" stroke-width="0.5"/>
<rect x="1011.4" y="170.91" width="16.1" height="37.30" fill="#fdac33" stroke="#fdac33" stroke-width="0.5"/>
<rect x="1011.4" y="133.62" width="16.1" height="37.30" fill="#f8df25" stroke="#f8df25" stroke-width="0.5"/>
<path d="M1011.4 133.6L1019.5 118.7L1027.5 133.6Z" fill="#f0f921"/>
<path d="M1011.4 432.0L1019.5 446.9L1027.5 432.0Z" fill="#0d0887"/>
<path d="M1011.4 133.6L1019.5 118.7L1027.5 133.6L1027.5 432.0L1019.5 446.9L1011.4 432.0Z" fill="none" stroke="#000" stroke-width="2.00" stroke-linejoin="miter"/>
<path d="M1027.5 431.98H1036.8" stroke="#000" stroke-width="2.00"/>
<text x="1046.8" y="442.39" font-size="27.40" font-family="DejaVu Sans, Liberation Sans, sans-serif">80</text>
<path d="M1027.5 394.69H1036.8" stroke="#000" stroke-width="2.00"/>
<text x="1046.8" y="405.10" font-size="27.40" font-family="DejaVu Sans, Liberation Sans, sans-serif">85</text>
<path d="M1027.5 357.39H1036.8" stroke="#000" stroke-width="2.00"/>
<text x="1046.8" y="367.80" font-size="27.40" font-family="DejaVu Sans, Liberation Sans, sans-serif">90</text>
<path d="M1027.5 320.10H1036.8" stroke="#000" stroke-width="2.00"/>
<text x="1046.8" y="330.51" font-size="27.40" font-family="DejaVu Sans, Liberation Sans, sans-serif">95</text>
<path d="M1027.5 282.80H1036.8" stroke="#000" stroke-width="2.00"/>
<text x="1046.8" y="293.21" font-size="27.40" font-family="DejaVu Sans, Liberation Sans, sans-serif">100</text>
<path d="M1027.5 245.50H1036.8" stroke="#000" stroke-width="2.00"/>
<text x="1046.8" y="255.92" font-size="27.40" font-family="DejaVu Sans, Liberation Sans, sans-serif">105</text>
<path d="M1027.5 208.21H1036.8" stroke="#000" stroke-width="2.00"/>
<text x="1046.8" y="218.62" font-size="27.40" font-family="DejaVu Sans, Liberation Sans, sans-serif">110</text>
<path d="M1027.5 170.91H1036.8" stroke="#000" stroke-width="2.00"/>
<text x="1046.8" y="181.33" font-size="27.40" font-family="DejaVu Sans, Liberation Sans, sans-serif">115</text>
<path d="M1027.5 133.62H1036.8" stroke="#000" stroke-width="2.00"/>
<text x="1046.8" y="144.03" font-size="27.40" font-family="DejaVu Sans, Liberation Sans, sans-serif">120</text>
<g clip-path="url(#c3)">
<rect x="109.0" y="512.5" width="352.0" height="328.1" fill="#0d0887"/>
<rect x="109.0" y="512.5" width="352.0" height="328.1" fill="#310597"/>
<rect x="109.0" y="512.5" width="352.0" height="328.1" fill="#6600a7"/>
<rect x="109.0" y="512.5" width="352.0" height="328.1" fill="#9511a1"/>
<path d="M217.4 840.6L217.5 840.6L220.5 840.6L223.4 840.6L226.3 840.6L229.3 840.6L232.2 840.6L235.1 840.6L238.1 840.6L241.0 840.6L243.9 840.6L246.9 840.6L249.8 840.6L252.7 840.6L255.7 840.6L258.6 840.6L261.5 840.6L264.5 840.6L267.4 840.6L270.3 840.6L273.3 840.6L276.2 840.6L279.1 840.6L282.1 840.6L285.0 840.6L287.9 840.6L290.9 840.6L293.8 840.6L296.7 840.6L299.7 840.6L302.6 840.6L305.5 840.6L308.5 840.6L311.4 840.6L314.3 840.6L317.3 840.6L320.2 840.6L323.1 840.6L326.1 840.6L329.0 840.6L331.9 840.6L334.9 840.6L337.8 840.6L340.7 840.6L343.7 840.6L346.6 840.6L349.5 840.6L352.5 840.6L355.4 840.6L358.3 840.6L361.3 840.6L364.2 840.6L367.1 840.6L370.1 840.6L373.0 840.6L375.9 840.6L378.9 840.6L381.8 840.6L384.7 840.6L387.7 840.6L390.6 840.6L393.5 840.6L396.5 840.6L399.4 840.6L402.3 840.6L405.3 840.6L408.2 840.6L411.1 840.6L414.1 840.6L417.0 840.6L419.9 840.6L422.9 840.6L425.8 840.6L428.7 840.6L431.7 840.6L434.6 840.6L437.5 840.6L440.5 840.6L443.4 840.6L446.3 840.6L449.3 840.6L452.2 840.6L455.1 840.6L458.1 840.6L461.0 840.6L461.0 837.9L461.0 835.1L461.0 832.4L461.0 829.7L461.0 826.9L461.0 824.2L461.0 821.5L461.0 818.7L461.0 816.0L461.0 813.3L461.0 810.5L461.0 807.8L461.0 805.1L461.0 802.3L461.0 799.6L461.0 796.9L461.0 794.1L461.0 791.4L461.0 788.7L461.0 785.9L461.0 783.2L461.0 780.4L461.0 777.7L461.0 775.0L461.0 772.2L461.0 769.5L461.0 766.8L461.0 764.0L461.0 761.3L461.0 758.6L461.0 755.8L461.0 753.1L461.0 750.4L461.0 747.6L461.0 744.9L461.0 742.2L461.0 739.4L461.0 736.7L461.0 734.0L461.0 731.2L461.0 728.5L461.0 725.8L461.0 723.0L461.0 720.3L461.0 717.6L461.0 714.8L461.0 712.1L461.0 709.4L461.0 706.6L461.0 703.9L461.0 701.2L461.0 698.4L461.0 695.7L461.0 693.0L461.0 690.2L461.0 687.5L461.0 684.8L461.0 682.0L461.0 679.3L461.0 676.5L461.0 673.8L461.0 671.1L461.0 668.3L461.0 665.6L461.0 662.9L461.0 660.1L461.0 657.4L461.0 654.7L461.0 651.9L461.0 649.2L461.0 646.5L461.0 643.7L461.0 641.0L461.0 638.3L461.0 635.5L461.0 632.8L461.0 630.1L461.0 627.3L461.0 624.6L461.0 621.9L461.0 619.1L461.0 616.4L461.0 613.7L461.0 610.9L461.0 608.2L461.0 605.5L461.0 602.7L461.0 600.0L461.0 597.3L461.0 594.5L461.0 591.8L461.0 589.1L461.0 586.3L461.0 583.6L461.0 580.9L461.0 578.1L461.0 575.4L461.0 572.7L461.0 569.9L461.0 567.2L461.0 564.4L461.0 561.7L461.0 559.0L461.0 556.2L461.0 553.5L461.0 550.8L461.0 548.0L461.0 545.3L461.0 542.6L461.0 539.8L461.0 537.1L461.0 534.4L461.0 531.6L461.0 528.9L461.0 526.2L461.0 523.4L461.0 520.7L461.0 518.0L461.0 515.2L461.0 512.5L458.1 512.5L455.1 512.5L452.2 512.5L449.3 512.5L446.3 512.5L443.4 512.5L440.5 512.5L437.5 512.5L434.6 512.5L431.7 512.5L428.7 512.5L425.8 512.5L422.9 512.5L419.9 512.5L417.0 512.5L414.1 512.5L411.1 512.5L408.2 512.5L405.3 512.5L402.3 512.5L399.4 512.5L396.5 512.5L393.5 512.5L390.6 512.5L387.7 512.5L384.7 512.5L381.8 512.5L378.9 512.5L375.9 512.5L373.0 512.5L370.1 512.5L367.1 512.5L364.2 512.5L361.3 512.5L358.3 512.5L355.4 512.5L352.5 512.5L349.5 512.5L346.6 512.5L343.7 512.5L340.7 512.5L337.8 512.5L334.9 512.5L331.9 512.5L329.0 512.5L326.1 512.5L323.1 512.5L320.2 512.5L317.3 512.5L314.3 512.5L313.2 512.5L312.6 515.2L311.9 518.0L311.4 520.0L311.2 520.7L310.6 523.4L309.9 526.2L309.2 528.9L308.5 531.6L308.5 532.0L307.9 534.4L307.2 537.1L306.5 539.8L305.8 542.6L305.5 543.7L305.1 545.3L304.4 548.0L303.7 550.8L303.1 553.5L302.6 555.3L302.4 556.2L301.7 559.0L301.0 561.7L300.2 564.4L299.7 566.7L299.5 567.2L298.8 569.9L298.1 572.7L297.4 575.4L296.7 578.0L296.7 578.1L296.0 580.9L295.3 583.6L294.5 586.3L293.8 589.1L293.8 589.1L293.1 591.8L292.4 594.5L291.6 597.3L290.9 600.0L290.9 600.1L290.2 602.7L289.4 605.5L288.7 608.2L287.9 610.9L287.9 610.9L287.2 613.7L286.4 616.4L285.7 619.1L285.0 621.6L284.9 621.9L284.2 624.6L283.4 627.3L282.7 630.1L282.1 632.2L281.9 632.8L281.1 635.5L280.4 638.3L279.6 641.0L279.1 642.7L278.8 643.7L278.1 646.5L277.3 649.2L276.5 651.9L276.2 653.1L275.7 654.7L275.0 657.4L274.2 660.1L273.4 662.9L273.3 663.3L272.6 665.6L271.8 668.3L271.0 671.1L270.3 673.4L270.2 673.8L269.4 676.5L268.6 679.3L267.8 682.0L267.4 683.5L267.0 684.8L266.2 687.5L265.4 690.2L264.6 693.0L264.5 693.4L263.8 695.7L263.0 698.4L262.1 701.2L261.5 703.2L261.3 703.9L260.5 706.6L259.7 709.4L258.9 712.1L258.6 712.9L258.0 714.8L257.2 717.6L256.4 720.3L255.7 722.6L255.5 723.0L254.7 725.8L253.8 728.5L253.0 731.2L252.7 732.1L252.2 734.0L251.3 736.7L250.5 739.4L249.8 741.6L249.6 742.2L248.8 744.9L247.9 747.6L247.0 750.4L246.9 750.9L246.2 753.1L245.3 755.8L244.5 758.6L243.9 760.2L243.6 761.3L242.7 764.0L241.8 766.8L241.0 769.4L241.0 769.5L240.1 772.2L239.2 775.0L238.3 777.7L238.1 778.5L237.4 780.4L236.6 783.2L235.7 785.9L235.1 787.6L234.8 788.7L233.9 791.4L233.0 794.1L232.2 796.5L232.1 796.9L231.2 799.6L230.3 802.3L229.4 805.1L229.3 805.4L228.5 807.8L227.6 810.5L226.7 813.3L226.3 814.3L225.8 816.0L224.8 818.7L223.9 821.5L223.4 823.0L223.0 824.2L222.1 826.9L221.2 829.7L220.5 831.7L220.2 832.4L219.3 835.1L218.4 837.9L217.5 840.3L217.4 840.6Z" fill="#bc3587" stroke="#bc3587" stroke-width="0.6"/>
<path d="M320.9 840.6L323.1 840.6L326.1 840.6L329.0 840.6L331.9 840.6L334.9 840.6L337.8 840.6L340.7 840.6L343.7 840.6L346.6 840.6L349.5 840.6L352.5 840.6L355.4 840.6L358.3 840.6L361.3 840.6L364.2 840.6L367.1 840.6L370.1 840.6L373.0 840.6L375.9 840.6L378.9 840.6L381.8 840.6L384.7 840.6L387.7 840.6L390.6 840.6L393.5 840.6L396.5 840.6L399.4 840.6L402.3 840.6L405.3 840.6L408.2 840.6L411.1 840.6L414.1 840.6L417.0 840.6L419.9 840.6L422.9 840.6L425.8 840.6L428.7 840.6L431.7 840.6L434.6 840.6L437.5 840.6L440.5 840.6L443.4 840.6L446.3 840.6L449.3 840.6L452.2 840.6L455.1 840.6L458.1 840.6L461.0 840.6L461.0 837.9L461.0 835.1L461.0 832.4L461.0 829.7L461.0 826.9L461.0 824.2L461.0 821.5L461.0 818.7L461.0 816.0L461.0 813.3L461.0 810.5L461.0 807.8L461.0 805.1L461.0 802.3L461.0 799.6L461.0 796.9L461.0 794.1L461.0 791.4L461.0 788.7L461.0 785.9L461.0 783.2L461.0 780.4L461.0 777.7L461.0 775.0L461.0 772.2L461.0 769.5L461.0 766.8L461.0 764.0L461.0 761.3L461.0 758.6L461.0 755.8L461.0 753.1L461.0 750.4L461.0 747.6L461.0 744.9L461.0 742.2L461.0 739.4L461.0 736.7L461.0 734.0L461.0 731.2L461.0 728.5L461.0 725.8L461.0 723.0L461.0 720.3L461.0 717.6L461.0 714.8L461.0 712.1L461.0 709.4L461.0 706.6L461.0 703.9L461.0 701.2L461.0 698.4L461.0 695.7L461.0 693.0L461.0 690.2L461.0 687.5L461.0 684.8L461.0 682.0L461.0 679.3L461.0 676.5L461.0 673.8L461.0 671.1L461.0 668.3L461.0 665.6L461.0 662.9L461.0 660.1L461.0 657.4L461.0 654.7L461.0 651.9L461.0 649.2L461.0 646.5L461.0 643.7L461.0 641.0L461.0 638.3L461.0 635.5L461.0 632.8L461.0 630.1L461.0 627.3L461.0 624.6L461.0 621.9L461.0 619.1L461.0 616.4L461.0 613.7L461.0 610.9L461.0 608.2L461.0 605.5L461.0 602.7L461.0 600.0L461.0 597.3L461.0 594.5L461.0 591.8L461.0 589.1L461.0 586.3L461.0 583.6L461.0 580.9L461.0 578.1L461.0 575.4L461.0 572.7L461.0 569.9L461.0 567.2L461.0 564.4L461.0 561.7L461.0 559.0L461.0 556.8L460.0 559.0L458.9 561.7L458.1 564.0L457.9 564.4L456.7 567.2L455.6 569.9L455.1 571.1L454.5 572.7L453.3 575.4L452.3 578.1L452.2 578.3L451.0 580.9L449.9 583.6L449.3 585.2L448.8 586.3L447.6 589.1L446.5 591.8L446.3 592.2L445.3 594.5L444.1 597.3L443.4 599.0L443.0 600.0L441.7 602.7L440.6 605.5L440.5 605.9L439.3 608.2L438.2 610.9L437.5 612.5L437.0 613.7L435.7 616.4L434.7 619.1L434.6 619.3L433.3 621.9L432.2 624.6L431.7 625.8L430.9 627.3L429.7 630.1L428.7 632.4L428.5 632.8L427.2 635.5L426.0 638.3L425.8 638.8L424.7 641.0L423.5 643.7L422.9 645.2L422.2 646.5L420.9 649.2L419.9 651.6L419.8 651.9L418.4 654.7L417.2 657.4L417.0 657.9L415.8 660.1L414.6 662.9L414.1 664.1L413.3 665.6L412.0 668.3L411.1 670.3L410.8 671.1L409.3 673.8L408.2 676.5L408.2 676.6L406.7 679.3L405.5 682.0L405.3 682.6L404.1 684.8L402.8 687.5L402.3 688.6L401.5 690.2L400.1 693.0L399.4 694.6L398.8 695.7L397.4 698.4L396.5 700.6L396.2 701.2L394.7 703.9L393.5 706.6L393.5 706.6L392.0 709.4L390.7 712.1L390.6 712.4L389.2 714.8L387.9 717.6L387.7 718.1L386.5 720.3L385.1 723.0L384.7 723.9L383.7 725.8L382.3 728.5L381.8 729.6L380.9 731.2L379.5 734.0L378.9 735.3L378.1 736.7L376.7 739.4L375.9 740.9L375.3 742.2L373.8 744.9L373.0 746.6L372.4 747.6L370.9 750.4L370.1 752.1L369.5 753.1L368.0 755.8L367.1 757.7L366.7 758.6L365.1 761.3L364.2 763.2L363.7 764.0L362.2 766.8L361.3 768.7L360.8 769.5L359.2 772.2L358.3 774.1L357.8 775.0L356.3 777.7L355.4 779.5L354.9 780.4L353.3 783.2L352.5 784.8L351.9 785.9L350.3 788.7L349.5 790.2L348.8 791.4L347.3 794.1L346.6 795.5L345.8 796.9L344.3 799.6L343.7 800.7L342.7 802.3L341.2 805.1L340.7 806.0L339.6 807.8L338.2 810.5L337.8 811.2L336.5 813.3L335.1 816.0L334.9 816.4L333.4 818.7L332.0 821.5L331.9 821.6L330.3 824.2L329.0 826.7L328.9 826.9L327.2 829.7L326.1 831.7L325.7 832.4L324.0 835.1L323.1 836.7L322.5 837.9L320.9 840.6Z" fill="#da5a6a" stroke="#da5a6a" stroke-width="0.6"/>
<path d="M405.9 840.6L408.2 840.6L411.1 840.6L414.1 840.6L417.0 840.6L419.9 840.6L422.9 840.6L425.8 840.6L428.7 840.6L431.7 840.6L434.6 840.6L437.5 840.6L440.5 840.6L443.4 840.6L446.3 840.6L449.3 840.6L452.2 840.6L455.1 840.6L458.1 840.6L461.0 840.6L461.0 837.9L461.0 835.1L461.0 832.4L461.0 829.7L461.0 826.9L461.0 824.2L461.0 821.5L461.0 818.7L461.0 816.0L461.0 813.3L461.0 810.5L461.0 807.8L461.0 805.1L461.0 802.3L461.0 799.6L461.0 796.9L461.0 794.1L461.0 791.4L461.0 788.7L461.0 785.9L461.0 783.2L461.0 780.4L461.0 777.7L461.0 775.0L461.0 772.2L461.0 769.5L461.0 766.8L461.0 764.0L461.0 761.3L461.0 759.1L459.5 761.3L458.1 763.5L457.7 764.0L455.8 766.8L455.1 767.8L454.0 769.5L452.2 772.2L452.1 772.2L450.3 775.0L449.3 776.5L448.4 777.7L446.6 780.4L446.3 780.8L444.7 783.2L443.4 785.2L442.9 785.9L441.0 788.7L440.5 789.5L439.2 791.4L437.5 793.8L437.3 794.1L435.5 796.9L434.6 798.2L433.7 799.6L431.8 802.3L431.7 802.5L430.0 805.1L428.7 806.9L428.1 807.8L426.3 810.5L425.8 811.2L424.4 813.3L422.9 815.5L422.6 816.0L420.7 818.7L419.9 819.9L418.9 821.5L417.0 824.2L417.0 824.2L415.2 826.9L414.1 828.5L413.3 829.7L411.5 832.4L411.1 832.9L409.6 835.1L408.2 837.2L407.8 837.9L405.9 840.6Z" fill="#f0804e" stroke="#f0804e" stroke-width="0.6"/>
<path d="M277.1 857.0L281.2 850.9L285.3 844.8L289.3 838.7L293.3 832.5L297.4 826.4L301.4 820.3L305.3 814.2L309.3 808.1L313.2 802.0L317.2 795.8L321.1 789.7L324.9 783.6L328.8 777.5L332.7 771.4L336.5 765.2L340.3 759.1L344.1 753.0L347.8 746.9L351.6 740.8L355.3 734.7L359.0 728.5L362.7 722.4L366.4 716.3L370.0 710.2L373.7 704.1L377.3 698.0L380.9 691.8L384.4 685.7L388.0 679.6L391.5 673.5L395.1 667.4L398.6 661.3L402.0 655.1L405.5 649.0L408.9 642.9L412.4 636.8L415.8 630.7L419.1 624.6L422.5 618.4L425.8 612.3L429.2 606.2L432.5 600.1L435.8 594.0L439.0 587.9L442.3 581.7L445.5 575.6L448.7 569.5L451.9 563.4L455.1 557.3L458.2 551.1L461.4 545.0L464.5 538.9L467.6 532.8L470.6 526.7L473.7 520.6L476.7 514.4L479.8 508.3L482.8 502.2L485.7 496.1" fill="none" stroke="#2ca02c" stroke-width="4.00" stroke-linecap="square"/>
<path d="M97.3 856.0L103.6 850.2L110.0 844.6L116.4 839.2L122.7 834.0L129.1 829.0L135.4 824.2L141.8 819.5L148.2 815.0L154.5 810.6L160.9 806.4L167.3 802.3L173.6 798.3L180.0 794.4L186.4 790.6L192.7 786.9L199.1 783.3L205.5 779.8L211.8 776.4L218.2 773.0L224.5 769.7L230.9 766.5L237.3 763.3L243.6 760.1L250.0 757.0L256.4 754.0L262.7 751.0L269.1 748.0L275.5 745.0L281.8 742.0L288.2 739.1L294.5 736.2L300.9 733.3L307.3 730.5L313.6 727.6L320.0 724.8L326.4 722.0L332.7 719.1L339.1 716.3L345.5 713.6L351.8 710.8L358.2 708.0L364.5 705.3L370.9 702.5L377.3 699.8L383.6 697.1L390.0 694.5L396.4 691.8L402.7 689.2L409.1 686.6L415.5 684.0L421.8 681.5L428.2 679.0L434.6 676.6L440.9 674.2L447.3 671.9L453.6 669.6L460.0 667.5L466.4 665.3L472.7 663.3" fill="none" stroke="#ff7f0e" stroke-width="4.00" stroke-linecap="square"/>
<path d="M378.5 857.0L375.1 850.9L371.8 844.8L368.6 838.7L365.5 832.5L362.3 826.4L359.3 820.3L356.3 814.2L353.3 808.1L350.4 802.0L347.5 795.8L344.7 789.7L342.0 783.6L339.3 777.5L336.6 771.4L334.0 765.2L331.4 759.1L328.8 753.0L326.3 746.9L323.9 740.8L321.5 734.7L319.1 728.5L316.8 722.4L314.5 716.3L312.2 710.2L310.0 704.1L307.8 698.0L305.7 691.8L303.5 685.7L301.5 679.6L299.4 673.5L297.4 667.4L295.4 661.3L293.5 655.1L291.5 649.0L289.6 642.9L287.8 636.8L285.9 630.7L284.1 624.6L282.3 618.4L280.5 612.3L278.8 606.2L277.1 600.1L275.4 594.0L273.7 587.9L272.0 581.7L270.4 575.6L268.8 569.5L267.2 563.4L265.6 557.3L264.0 551.1L262.5 545.0L260.9 538.9L259.4 532.8L257.9 526.7L256.4 520.6L254.9 514.4L253.4 508.3L251.9 502.2L250.5 496.1" fill="none" stroke="#1f77b4" stroke-width="4.00" stroke-linecap="square"/>
<path d="M253.5 709.6L269.5 725.6M253.5 725.6L269.5 709.6" stroke="#000" stroke-width="4.50" fill="none"/>
<circle cx="333.4" cy="717.6" r="5.50" fill="#000"/>
<path d="M272.2 717.6L316.9 717.6" stroke="#000" stroke-width="2.90" fill="none"/>
<path d="M306.9 712.1L317.9 717.6L306.9 723.1" stroke="#000" stroke-width="2.90" fill="none" stroke-linejoin="miter"/>
</g>
<rect x="109.0" y="512.5" width="352.0" height="328.1" fill="none" stroke="#000" stroke-width="2.00"/>
<path d="M109.0 840.6V849.9" stroke="#000" stroke-width="2.00"/>
<text x="110.5" y="880.1" font-size="27.40" text-anchor="middle" font-family="DejaVu Sans, Liberation Sans, sans-serif">2</text>
<path d="M226.3 840.6V849.9" stroke="#000" stroke-width="2.00"/>
<text x="227.8" y="880.1" font-size="27.40" text-anchor="middle" font-family="DejaVu Sans, Liberation Sans, sans-serif">3</text>
<path d="M343.7 840.6V849.9" stroke="#000" stroke-width="2.00"/>
<text x="345.2" y="880.1" font-size="27.40" text-anchor="middle" font-family="DejaVu Sans, Liberation Sans, sans-serif">4</text>
<path d="M461.0 840.6V849.9" stroke="#000" stroke-width="2.00"/>
<text x="462.5" y="880.1" font-size="27.40" text-anchor="middle" font-family="DejaVu Sans, Liberation Sans, sans-serif">5</text>
<path d="M109.0 840.6H99.7" stroke="#000" stroke-width="2.00"/>
<text x="90.3" y="851.0" font-size="27.40" text-anchor="end" font-family="DejaVu Sans, Liberation Sans, sans-serif">4</text>
<path d="M109.0 758.6H99.7" stroke="#000" stroke-width="2.00"/>
<text x="90.3" y="769.0" font-size="27.40" text-anchor="end" font-family="DejaVu Sans, Liberation Sans, sans-serif">5</text>
<path d="M109.0 676.5H99.7" stroke="#000" stroke-width="2.00"/>
<text x="90.3" y="687.0" font-size="27.40" text-anchor="end" font-family="DejaVu Sans, Liberation Sans, sans-serif">6</text>
<path d="M109.0 594.5H99.7" stroke="#000" stroke-width="2.00"/>
<text x="90.3" y="604.9" font-size="27.40" text-anchor="end" font-family="DejaVu Sans, Liberation Sans, sans-serif">7</text>
<path d="M109.0 512.5H99.7" stroke="#000" stroke-width="2.00"/>
<text x="90.3" y="522.9" font-size="27.40" text-anchor="end" font-family="DejaVu Sans, Liberation Sans, sans-serif">8</text>
<rect x="483.2" y="788.40" width="16.1" height="37.28" fill="#310597" stroke="#310597" stroke-width="0.5"/>
<rect x="483.2" y="751.12" width="16.1" height="37.28" fill="#6600a7" stroke="#6600a7" stroke-width="0.5"/>
<rect x="483.2" y="713.83" width="16.1" height="37.28" fill="#9511a1" stroke="#9511a1" stroke-width="0.5"/>
<rect x="483.2" y="676.55" width="16.1" height="37.28" fill="#bc3587" stroke="#bc3587" stroke-width="0.5"/>
<rect x="483.2" y="639.27" width="16.1" height="37.28" fill="#da5a6a" stroke="#da5a6a" stroke-width="0.5"/>
<rect x="483.2" y="601.98" width="16.1" height="37.28" fill="#f0804e" stroke="#f0804e" stroke-width="0.5"/>
<rect x="483.2" y="564.70" width="16.1" height="37.28" fill="#fdac33" stroke="#fdac33" stroke-width="0.5"/>
<rect x="483.2" y="527.41" width="16.1" height="37.28" fill="#f8df25" stroke="#f8df25" stroke-width="0.5"/>
<path d="M483.2 527.4L491.2 512.5L499.3 527.4Z" fill="#f0f921"/>
<path d="M483.2 825.7L491.2 840.6L499.3 825.7Z" fill="#0d0887"/>
<path d="M483.2 527.4L491.2 512.5L499.3 527.4L499.3 825.7L491.2 840.6L483.2 825.7Z" fill="none" stroke="#000" stroke-width="2.00" stroke-linejoin="miter"/>
<path d="M499.3 825.69H508.6" stroke="#000" stroke-width="2.00"/>
<text x="518.6" y="836.10" font-size="27.40" font-family="DejaVu Sans, Liberation Sans, sans-serif">0.20</text>
<path d="M499.3 788.40H508.6" stroke="#000" stroke-width="2.00"/>
<text x="518.6" y="798.81" font-size="27.40" font-family="DejaVu Sans, Liberation Sans, sans-serif">0.25</text>
<path d="M499.3 751.12H508.6" stroke="#000" stroke-width="2.00"/>
<text x="518.6" y="761.53" font-size="27.40" font-family="DejaVu Sans, Liberation Sans, sans-serif">0.30</text>
<path d="M499.3 713.83H508.6" stroke="#000" stroke-width="2.00"/>
<text x="518.6" y="724.25" font-size="27.40" font-family="DejaVu Sans, Liberation Sans, sans-serif">0.35</text>
<path d="M499.3 676.55H508.6" stroke="#000" stroke-width="2.00"/>
<text x="518.6" y="686.96" font-size="27.40" font-family="DejaVu Sans, Liberation Sans, sans-serif">0.40</text>
<path d="M499.3 639.27H508.6" stroke="#000" stroke-width="2.00"/>
<text x="518.6" y="649.68" font-size="27.40" font-family="DejaVu Sans, Liberation Sans, sans-serif">0.45</text>
<path d="M499.3 601.98H508.6" stroke="#000" stroke-width="2.00"/>
<text x="518.6" y="612.39" font-size="27.40" font-family="DejaVu Sans, Liberation Sans, sans-serif">0.50</text>
<path d="M499.3 564.70H508.6" stroke="#000" stroke-width="2.00"/>
<text x="518.6" y="575.11" font-size="27.40" font-family="DejaVu Sans, Liberation Sans, sans-serif">0.55</text>
<path d="M499.3 527.41H508.6" stroke="#000" stroke-width="2.00"/>
<text x="518.6" y="537.83" font-size="27.40" font-family="DejaVu Sans, Liberation Sans, sans-serif">0.60</text>
<g clip-path="url(#c4)">
<rect x="637.6" y="512.5" width="352.2" height="328.1" fill="#2a0593"/>
<rect x="637.6" y="512.5" width="352.2" height="328.1" fill="#5601a4"/>
<rect x="637.6" y="512.5" width="352.2" height="328.1" fill="#7e03a8"/>
<rect x="637.6" y="512.5" width="352.2" height="328.1" fill="#a11b9b"/>
<rect x="637.6" y="512.5" width="352.2" height="328.1" fill="#bf3984"/>
<rect x="637.6" y="512.5" width="352.2" height="328.1" fill="#d6556d"/>
<path d="M687.4 837.9L687.5 838.2L688.3 840.6L690.4 840.6L693.4 840.6L696.3 840.6L699.2 840.6L702.2 840.6L705.1 840.6L708.0 840.6L711.0 840.6L713.9 840.6L716.8 840.6L719.8 840.6L722.7 840.6L725.6 840.6L728.6 840.6L731.5 840.6L734.5 840.6L737.4 840.6L740.3 840.6L743.3 840.6L746.2 840.6L749.1 840.6L752.1 840.6L755.0 840.6L757.9 840.6L760.9 840.6L763.8 840.6L766.7 840.6L769.7 840.6L772.6 840.6L775.5 840.6L778.5 840.6L781.4 840.6L784.4 840.6L787.3 840.6L790.2 840.6L793.2 840.6L796.1 840.6L799.0 840.6L802.0 840.6L804.9 840.6L807.8 840.6L810.8 840.6L813.7 840.6L816.6 840.6L819.6 840.6L822.5 840.6L825.4 840.6L828.4 840.6L831.3 840.6L834.2 840.6L837.2 840.6L840.1 840.6L843.0 840.6L846.0 840.6L848.9 840.6L851.9 840.6L854.8 840.6L857.7 840.6L860.7 840.6L863.6 840.6L866.5 840.6L869.5 840.6L872.4 840.6L875.3 840.6L878.3 840.6L881.2 840.6L884.1 840.6L887.1 840.6L890.0 840.6L892.9 840.6L895.9 840.6L898.8 840.6L901.8 840.6L904.7 840.6L907.6 840.6L910.6 840.6L913.5 840.6L916.4 840.6L919.4 840.6L922.3 840.6L925.2 840.6L928.2 840.6L931.1 840.6L934.0 840.6L937.0 840.6L939.9 840.6L942.8 840.6L945.8 840.6L948.7 840.6L951.6 840.6L954.6 840.6L957.5 840.6L960.4 840.6L963.4 840.6L966.3 840.6L969.3 840.6L972.2 840.6L975.1 840.6L978.1 840.6L981.0 840.6L983.9 840.6L986.9 840.6L989.8 840.6L989.8 837.9L989.8 835.1L989.8 832.4L989.8 829.7L989.8 826.9L989.8 824.2L989.8 821.5L989.8 818.7L989.8 816.0L989.8 813.3L989.8 810.5L989.8 807.8L989.8 805.1L989.8 802.3L989.8 799.6L989.8 796.9L989.8 794.1L989.8 791.4L989.8 788.7L989.8 785.9L989.8 783.2L989.8 780.4L989.8 777.7L989.8 775.0L989.8 772.2L989.8 769.5L989.8 766.8L989.8 764.0L989.8 761.3L989.8 758.6L989.8 755.8L989.8 753.1L989.8 750.4L989.8 747.6L989.8 744.9L989.8 742.2L989.8 739.4L989.8 736.7L989.8 734.0L989.8 731.2L989.8 728.5L989.8 725.8L989.8 723.0L989.8 720.3L989.8 717.6L989.8 714.8L989.8 712.1L989.8 709.4L989.8 706.6L989.8 703.9L989.8 701.2L989.8 698.4L989.8 695.7L989.8 693.0L989.8 690.2L989.8 687.5L989.8 684.8L989.8 682.0L989.8 679.3L989.8 676.5L989.8 673.8L989.8 671.1L989.8 668.3L989.8 665.6L989.8 662.9L989.8 660.1L989.8 657.4L989.8 654.7L989.8 651.9L989.8 649.2L989.8 646.5L989.8 643.7L989.8 641.0L989.8 638.3L989.8 635.5L989.8 632.8L989.8 630.1L989.8 627.3L989.8 624.6L989.8 621.9L989.8 619.1L989.8 616.4L989.8 613.7L989.8 610.9L989.8 608.2L989.8 605.5L989.8 602.7L989.8 600.0L989.8 597.3L989.8 594.5L989.8 591.8L989.8 589.1L989.8 586.3L989.8 583.6L989.8 580.9L989.8 578.1L989.8 575.4L989.8 572.7L989.8 569.9L989.8 567.2L989.8 564.4L989.8 561.7L989.8 559.0L989.8 556.2L989.8 553.5L989.8 550.8L989.8 548.0L989.8 545.3L989.8 542.6L989.8 539.8L989.8 537.1L989.8 534.4L989.8 531.6L989.8 528.9L989.8 526.2L989.8 523.4L989.8 520.7L989.8 518.0L989.8 515.2L989.8 512.5L986.9 512.5L983.9 512.5L981.0 512.5L978.1 512.5L975.1 512.5L972.2 512.5L969.3 512.5L966.3 512.5L963.4 512.5L960.4 512.5L957.5 512.5L954.6 512.5L951.6 512.5L948.7 512.5L945.8 512.5L942.8 512.5L939.9 512.5L937.0 512.5L934.0 512.5L931.1 512.5L928.2 512.5L925.2 512.5L922.3 512.5L919.4 512.5L916.4 512.5L913.5 512.5L910.6 512.5L907.6 512.5L904.7 512.5L901.8 512.5L898.8 512.5L895.9 512.5L892.9 512.5L890.0 512.5L887.1 512.5L884.1 512.5L881.2 512.5L878.3 512.5L875.3 512.5L872.4 512.5L869.5 512.5L866.5 512.5L863.6 512.5L860.7 512.5L857.7 512.5L854.8 512.5L851.9 512.5L848.9 512.5L846.0 512.5L843.0 512.5L840.1 512.5L837.2 512.5L834.2 512.5L831.3 512.5L828.4 512.5L825.4 512.5L822.5 512.5L819.6 512.5L816.6 512.5L813.7 512.5L810.8 512.5L807.8 512.5L804.9 512.5L802.0 512.5L799.0 512.5L796.1 512.5L793.2 512.5L790.2 512.5L787.3 512.5L784.4 512.5L781.4 512.5L778.5 512.5L775.5 512.5L772.6 512.5L769.7 512.5L766.7 512.5L763.8 512.5L760.9 512.5L757.9 512.5L755.0 512.5L752.1 512.5L749.1 512.5L746.2 512.5L743.3 512.5L740.3 512.5L737.4 512.5L734.5 512.5L731.5 512.5L728.6 512.5L725.6 512.5L722.7 512.5L719.8 512.5L716.8 512.5L713.9 512.5L711.0 512.5L708.0 512.5L705.1 512.5L702.2 512.5L699.2 512.5L696.3 512.5L693.4 512.5L690.4 512.5L687.5 512.5L684.6 512.5L681.6 512.5L678.7 512.5L675.8 512.5L672.8 512.5L669.9 512.5L667.0 512.5L664.0 512.5L661.1 512.5L658.1 512.5L655.2 512.5L652.3 512.5L649.3 512.5L646.4 512.5L643.5 512.5L640.5 512.5L637.6 512.5L637.6 515.2L637.6 518.0L637.6 520.7L637.6 523.4L637.6 526.2L637.6 528.9L637.6 531.6L637.6 534.4L637.6 537.1L637.6 539.8L637.6 542.6L637.6 545.3L637.6 548.0L637.6 550.8L637.6 553.5L637.6 556.2L637.6 559.0L637.6 561.7L637.6 564.4L637.6 567.2L637.6 569.9L637.6 572.7L637.6 575.4L637.6 578.1L637.6 580.9L637.6 583.6L637.6 586.3L637.6 589.1L637.6 591.8L637.6 594.5L637.6 597.3L637.6 600.0L637.6 602.7L637.6 605.5L637.6 608.2L637.6 610.9L637.6 613.7L637.6 616.4L637.6 619.1L637.6 621.9L637.6 624.6L637.6 627.3L637.6 630.1L637.6 632.8L637.6 635.5L637.6 638.3L637.6 641.0L637.6 643.7L637.6 646.5L637.6 649.2L637.6 651.9L637.6 654.7L637.6 657.4L637.6 659.7L637.7 660.1L638.3 662.9L639.0 665.6L639.6 668.3L640.3 671.1L640.5 672.2L640.9 673.8L641.6 676.5L642.2 679.3L642.9 682.0L643.5 684.4L643.6 684.8L644.2 687.5L644.9 690.2L645.6 693.0L646.3 695.7L646.4 696.3L646.9 698.4L647.6 701.2L648.3 703.9L649.0 706.6L649.3 707.8L649.7 709.4L650.4 712.1L651.2 714.8L651.9 717.6L652.3 719.1L652.6 720.3L653.3 723.0L654.1 725.8L654.8 728.5L655.2 730.1L655.5 731.2L656.3 734.0L657.0 736.7L657.8 739.4L658.1 740.8L658.5 742.2L659.3 744.9L660.1 747.6L660.8 750.4L661.1 751.3L661.6 753.1L662.4 755.8L663.2 758.6L663.9 761.3L664.0 761.6L664.7 764.0L665.5 766.8L666.3 769.5L667.0 771.7L667.1 772.2L667.9 775.0L668.7 777.7L669.6 780.4L669.9 781.6L670.4 783.2L671.2 785.9L672.0 788.7L672.8 791.3L672.8 791.4L673.7 794.1L674.5 796.9L675.3 799.6L675.8 800.9L676.2 802.3L677.0 805.1L677.9 807.8L678.7 810.4L678.7 810.5L679.6 813.3L680.4 816.0L681.3 818.7L681.6 819.7L682.2 821.5L683.0 824.2L683.9 826.9L684.6 829.0L684.8 829.7L685.6 832.4L686.5 835.1L687.4 837.9Z" fill="#ea7457" stroke="#ea7457" stroke-width="0.6"/>
<path d="M745.3 837.9L746.2 840.4L746.3 840.6L749.1 840.6L752.1 840.6L755.0 840.6L757.9 840.6L760.9 840.6L763.8 840.6L766.7 840.6L769.7 840.6L772.6 840.6L775.5 840.6L778.5 840.6L781.4 840.6L784.4 840.6L787.3 840.6L790.2 840.6L793.2 840.6L796.1 840.6L799.0 840.6L802.0 840.6L804.9 840.6L807.8 840.6L810.8 840.6L813.7 840.6L816.6 840.6L819.6 840.6L822.5 840.6L825.4 840.6L828.4 840.6L831.3 840.6L834.2 840.6L837.2 840.6L840.1 840.6L843.0 840.6L846.0 840.6L848.9 840.6L851.9 840.6L854.8 840.6L857.7 840.6L860.7 840.6L863.6 840.6L866.5 840.6L869.5 840.6L872.4 840.6L875.3 840.6L878.3 840.6L881.2 840.6L884.1 840.6L887.1 840.6L890.0 840.6L892.9 840.6L895.9 840.6L898.8 840.6L901.8 840.6L904.7 840.6L907.6 840.6L910.6 840.6L913.5 840.6L916.4 840.6L919.4 840.6L922.3 840.6L925.2 840.6L928.2 840.6L931.1 840.6L934.0 840.6L937.0 840.6L939.9 840.6L942.8 840.6L945.8 840.6L948.7 840.6L951.6 840.6L954.6 840.6L957.5 840.6L960.4 840.6L963.4 840.6L966.3 840.6L969.3 840.6L972.2 840.6L975.1 840.6L978.1 840.6L981.0 840.6L983.9 840.6L986.9 840.6L989.8 840.6L989.8 837.9L989.8 835.1L989.8 832.4L989.8 829.7L989.8 826.9L989.8 824.2L989.8 821.5L989.8 818.7L989.8 816.0L989.8 813.3L989.8 810.5L989.8 807.8L989.8 805.1L989.8 802.3L989.8 799.6L989.8 796.9L989.8 794.1L989.8 791.4L989.8 788.7L989.8 785.9L989.8 783.2L989.8 780.4L989.8 777.7L989.8 775.0L989.8 772.2L989.8 769.5L989.8 766.8L989.8 764.0L989.8 761.3L989.8 758.6L989.8 755.8L989.8 753.1L989.8 750.4L989.8 747.6L989.8 744.9L989.8 742.2L989.8 739.4L989.8 736.7L989.8 734.0L989.8 731.2L989.8 728.5L989.8 725.8L989.8 723.0L989.8 720.3L989.8 717.6L989.8 714.8L989.8 712.1L989.8 709.4L989.8 706.6L989.8 703.9L989.8 701.2L989.8 698.4L989.8 695.7L989.8 693.0L989.8 690.2L989.8 687.5L989.8 684.8L989.8 682.0L989.8 679.3L989.8 676.5L989.8 673.8L989.8 671.1L989.8 668.3L989.8 665.6L989.8 662.9L989.8 660.1L989.8 657.4L989.8 654.7L989.8 651.9L989.8 649.2L989.8 646.5L989.8 643.7L989.8 641.0L989.8 638.3L989.8 635.5L989.8 632.8L989.8 630.1L989.8 627.3L989.8 624.6L989.8 621.9L989.8 619.1L989.8 616.4L989.8 613.7L989.8 610.9L989.8 608.2L989.8 605.5L989.8 602.7L989.8 600.0L989.8 597.3L989.8 594.5L989.8 591.8L989.8 589.1L989.8 586.3L989.8 583.6L989.8 580.9L989.8 578.1L989.8 575.4L989.8 572.7L989.8 569.9L989.8 567.2L989.8 564.4L989.8 561.7L989.8 559.0L989.8 556.2L989.8 553.5L989.8 550.8L989.8 548.0L989.8 545.3L989.8 542.6L989.8 539.8L989.8 537.1L989.8 534.4L989.8 531.6L989.8 528.9L989.8 526.2L989.8 523.4L989.8 520.7L989.8 518.0L989.8 515.2L989.8 512.5L986.9 512.5L983.9 512.5L981.0 512.5L978.1 512.5L975.1 512.5L972.2 512.5L969.3 512.5L966.3 512.5L963.4 512.5L960.4 512.5L957.5 512.5L954.6 512.5L951.6 512.5L948.7 512.5L945.8 512.5L942.8 512.5L939.9 512.5L937.0 512.5L934.0 512.5L931.1 512.5L928.2 512.5L925.2 512.5L922.3 512.5L919.4 512.5L916.4 512.5L913.5 512.5L910.6 512.5L907.6 512.5L904.7 512.5L901.8 512.5L898.8 512.5L895.9 512.5L892.9 512.5L890.0 512.5L887.1 512.5L884.1 512.5L881.2 512.5L878.3 512.5L875.3 512.5L872.4 512.5L869.5 512.5L866.5 512.5L863.6 512.5L860.7 512.5L857.7 512.5L854.8 512.5L851.9 512.5L848.9 512.5L846.0 512.5L843.0 512.5L840.1 512.5L837.2 512.5L834.2 512.5L831.3 512.5L828.4 512.5L825.4 512.5L822.5 512.5L819.6 512.5L816.6 512.5L813.7 512.5L810.8 512.5L807.8 512.5L804.9 512.5L802.0 512.5L799.0 512.5L796.1 512.5L793.2 512.5L790.2 512.5L787.3 512.5L784.4 512.5L781.4 512.5L778.5 512.5L775.5 512.5L772.6 512.5L769.7 512.5L766.7 512.5L763.8 512.5L760.9 512.5L757.9 512.5L755.0 512.5L752.1 512.5L749.1 512.5L746.2 512.5L743.3 512.5L740.3 512.5L737.4 512.5L734.5 512.5L731.5 512.5L728.6 512.5L725.6 512.5L722.7 512.5L719.8 512.5L716.8 512.5L713.9 512.5L711.0 512.5L708.0 512.5L705.1 512.5L702.2 512.5L699.2 512.5L696.3 512.5L693.4 512.5L690.4 512.5L687.5 512.5L684.6 512.5L681.6 512.5L678.7 512.5L675.8 512.5L672.8 512.5L669.9 512.5L667.0 512.5L664.0 512.5L661.1 512.5L659.0 512.5L659.5 515.2L660.0 518.0L660.5 520.7L660.9 523.4L661.1 524.2L661.4 526.2L661.9 528.9L662.4 531.6L662.9 534.4L663.4 537.1L663.9 539.8L664.0 540.4L664.4 542.6L664.9 545.3L665.4 548.0L666.0 550.8L666.5 553.5L667.0 555.9L667.0 556.2L667.5 559.0L668.1 561.7L668.6 564.4L669.2 567.2L669.7 569.9L669.9 570.8L670.3 572.7L670.8 575.4L671.4 578.1L671.9 580.9L672.5 583.6L672.8 585.1L673.1 586.3L673.7 589.1L674.2 591.8L674.8 594.5L675.4 597.3L675.8 598.8L676.0 600.0L676.6 602.7L677.2 605.5L677.8 608.2L678.4 610.9L678.7 612.1L679.0 613.7L679.7 616.4L680.3 619.1L680.9 621.9L681.5 624.6L681.6 625.0L682.2 627.3L682.8 630.1L683.5 632.8L684.1 635.5L684.6 637.4L684.8 638.3L685.4 641.0L686.1 643.7L686.8 646.5L687.4 649.2L687.5 649.5L688.1 651.9L688.8 654.7L689.5 657.4L690.2 660.1L690.4 661.2L690.9 662.9L691.6 665.6L692.3 668.3L693.0 671.1L693.4 672.5L693.7 673.8L694.4 676.5L695.2 679.3L695.9 682.0L696.3 683.6L696.6 684.8L697.4 687.5L698.1 690.2L698.9 693.0L699.2 694.3L699.6 695.7L700.4 698.4L701.1 701.2L701.9 703.9L702.2 704.8L702.7 706.6L703.5 709.4L704.3 712.1L705.0 714.8L705.1 715.0L705.8 717.6L706.6 720.3L707.4 723.0L708.0 725.0L708.3 725.8L709.1 728.5L709.9 731.2L710.7 734.0L711.0 734.8L711.5 736.7L712.4 739.4L713.2 742.2L713.9 744.4L714.1 744.9L714.9 747.6L715.8 750.4L716.6 753.1L716.8 753.8L717.5 755.8L718.4 758.6L719.2 761.3L719.8 763.0L720.1 764.0L721.0 766.8L721.9 769.5L722.7 772.1L722.8 772.2L723.7 775.0L724.6 777.7L725.5 780.4L725.6 781.0L726.4 783.2L727.3 785.9L728.2 788.7L728.6 789.8L729.1 791.4L730.1 794.1L731.0 796.9L731.5 798.4L731.9 799.6L732.9 802.3L733.8 805.1L734.5 807.0L734.7 807.8L735.7 810.5L736.6 813.3L737.4 815.4L737.6 816.0L738.5 818.7L739.5 821.5L740.3 823.8L740.5 824.2L741.4 826.9L742.4 829.7L743.3 832.1L743.4 832.4L744.3 835.1L745.3 837.9Z" fill="#f89540" stroke="#f89540" stroke-width="0.6"/>
<path d="M804.4 837.9L804.9 839.0L805.5 840.6L807.8 840.6L810.8 840.6L813.7 840.6L816.6 840.6L819.6 840.6L822.5 840.6L825.4 840.6L828.4 840.6L831.3 840.6L834.2 840.6L837.2 840.6L840.1 840.6L843.0 840.6L846.0 840.6L848.9 840.6L851.9 840.6L854.8 840.6L857.7 840.6L860.7 840.6L863.6 840.6L866.5 840.6L869.5 840.6L872.4 840.6L875.3 840.6L878.3 840.6L881.2 840.6L884.1 840.6L887.1 840.6L890.0 840.6L892.9 840.6L895.9 840.6L898.8 840.6L901.8 840.6L904.7 840.6L907.6 840.6L910.6 840.6L913.5 840.6L916.4 840.6L919.4 840.6L922.3 840.6L925.2 840.6L928.2 840.6L931.1 840.6L934.0 840.6L937.0 840.6L939.9 840.6L942.8 840.6L945.8 840.6L948.7 840.6L951.6 840.6L954.6 840.6L957.5 840.6L960.4 840.6L963.4 840.6L966.3 840.6L969.3 840.6L972.2 840.6L975.1 840.6L978.1 840.6L981.0 840.6L983.9 840.6L986.9 840.6L989.8 840.6L989.8 837.9L989.8 835.1L989.8 832.4L989.8 829.7L989.8 826.9L989.8 824.2L989.8 821.5L989.8 818.7L989.8 816.0L989.8 813.3L989.8 810.5L989.8 807.8L989.8 805.1L989.8 802.3L989.8 799.6L989.8 796.9L989.8 794.1L989.8 791.4L989.8 788.7L989.8 785.9L989.8 783.2L989.8 780.4L989.8 777.7L989.8 775.0L989.8 772.2L989.8 769.5L989.8 766.8L989.8 764.0L989.8 761.3L989.8 758.6L989.8 755.8L989.8 753.1L989.8 750.4L989.8 747.6L989.8 744.9L989.8 742.2L989.8 739.4L989.8 736.7L989.8 734.0L989.8 731.2L989.8 728.5L989.8 725.8L989.8 723.0L989.8 720.3L989.8 717.6L989.8 714.8L989.8 712.1L989.8 709.4L989.8 706.6L989.8 703.9L989.8 701.2L989.8 698.4L989.8 695.7L989.8 693.0L989.8 690.2L989.8 687.5L989.8 684.8L989.8 682.0L989.8 679.3L989.8 676.5L989.8 673.8L989.8 671.1L989.8 668.3L989.8 665.6L989.8 662.9L989.8 660.1L989.8 657.4L989.8 654.7L989.8 651.9L989.8 649.2L989.8 646.5L989.8 643.7L989.8 641.0L989.8 638.3L989.8 635.5L989.8 632.8L989.8 630.1L989.8 627.3L989.8 624.6L989.8 621.9L989.8 619.1L989.8 616.4L989.8 613.7L989.8 610.9L989.8 608.2L989.8 605.5L989.8 602.7L989.8 600.0L989.8 597.3L989.8 594.5L989.8 591.8L989.8 589.1L989.8 586.3L989.8 583.6L989.8 580.9L989.8 578.1L989.8 575.4L989.8 572.7L989.8 569.9L989.8 567.2L989.8 564.4L989.8 561.7L989.8 559.0L989.8 556.2L989.8 553.5L989.8 550.8L989.8 548.0L989.8 545.3L989.8 542.6L989.8 539.8L989.8 537.1L989.8 534.4L989.8 531.6L989.8 528.9L989.8 526.2L989.8 523.4L989.8 520.7L989.8 518.0L989.8 515.2L989.8 512.5L986.9 512.5L983.9 512.5L981.0 512.5L978.1 512.5L975.1 512.5L972.2 512.5L969.3 512.5L966.3 512.5L963.4 512.5L960.4 512.5L957.5 512.5L954.6 512.5L951.6 512.5L948.7 512.5L945.8 512.5L942.8 512.5L939.9 512.5L937.0 512.5L934.0 512.5L931.1 512.5L928.2 512.5L925.2 512.5L922.3 512.5L919.4 512.5L916.4 512.5L913.5 512.5L910.6 512.5L907.6 512.5L904.7 512.5L901.8 512.5L898.8 512.5L895.9 512.5L892.9 512.5L890.0 512.5L887.1 512.5L884.1 512.5L881.2 512.5L878.3 512.5L875.3 512.5L872.4 512.5L869.5 512.5L866.5 512.5L863.6 512.5L860.7 512.5L857.7 512.5L854.8 512.5L851.9 512.5L848.9 512.5L846.0 512.5L843.0 512.5L840.1 512.5L837.2 512.5L834.2 512.5L831.3 512.5L828.4 512.5L825.4 512.5L822.5 512.5L819.6 512.5L816.6 512.5L813.7 512.5L810.8 512.5L807.8 512.5L804.9 512.5L802.0 512.5L799.0 512.5L796.1 512.5L793.2 512.5L790.2 512.5L787.3 512.5L784.4 512.5L781.4 512.5L778.5 512.5L775.5 512.5L772.6 512.5L769.7 512.5L766.7 512.5L763.8 512.5L760.9 512.5L757.9 512.5L755.0 512.5L752.1 512.5L749.1 512.5L746.2 512.5L743.3 512.5L740.3 512.5L737.4 512.5L734.5 512.5L731.5 512.5L728.6 512.5L725.6 512.5L722.7 512.5L719.8 512.5L716.8 512.5L713.9 512.5L711.0 512.5L708.4 512.5L708.9 515.2L709.4 518.0L710.0 520.7L710.5 523.4L711.0 526.0L711.0 526.2L711.6 528.9L712.1 531.6L712.6 534.4L713.2 537.1L713.7 539.8L713.9 540.6L714.3 542.6L714.9 545.3L715.4 548.0L716.0 550.8L716.6 553.5L716.8 554.7L717.2 556.2L717.8 559.0L718.3 561.7L718.9 564.4L719.5 567.2L719.8 568.3L720.1 569.9L720.8 572.7L721.4 575.4L722.0 578.1L722.6 580.9L722.7 581.3L723.2 583.6L723.9 586.3L724.5 589.1L725.1 591.8L725.6 593.9L725.8 594.5L726.4 597.3L727.1 600.0L727.8 602.7L728.4 605.5L728.6 606.1L729.1 608.2L729.8 610.9L730.5 613.7L731.1 616.4L731.5 617.9L731.8 619.1L732.5 621.9L733.2 624.6L733.9 627.3L734.5 629.3L734.7 630.1L735.4 632.8L736.1 635.5L736.8 638.3L737.4 640.4L737.6 641.0L738.3 643.7L739.0 646.5L739.8 649.2L740.3 651.2L740.5 651.9L741.3 654.7L742.1 657.4L742.8 660.1L743.3 661.7L743.6 662.9L744.4 665.6L745.2 668.3L746.0 671.1L746.2 671.9L746.8 673.8L747.6 676.5L748.4 679.3L749.1 681.8L749.2 682.0L750.0 684.8L750.8 687.5L751.7 690.2L752.1 691.5L752.5 693.0L753.4 695.7L754.2 698.4L755.0 701.0L755.1 701.2L755.9 703.9L756.8 706.6L757.6 709.4L757.9 710.3L758.5 712.1L759.4 714.8L760.3 717.6L760.9 719.3L761.2 720.3L762.1 723.0L763.0 725.8L763.8 728.2L763.9 728.5L764.8 731.2L765.7 734.0L766.7 736.7L766.7 736.9L767.6 739.4L768.5 742.2L769.5 744.9L769.7 745.4L770.4 747.6L771.4 750.4L772.4 753.1L772.6 753.8L773.3 755.8L774.3 758.6L775.3 761.3L775.5 762.1L776.3 764.0L777.2 766.8L778.2 769.5L778.5 770.2L779.2 772.2L780.2 775.0L781.2 777.7L781.4 778.2L782.3 780.4L783.3 783.2L784.3 785.9L784.4 786.1L785.3 788.7L786.4 791.4L787.3 793.8L787.4 794.1L788.4 796.9L789.5 799.6L790.2 801.5L790.5 802.3L791.6 805.1L792.6 807.8L793.2 809.1L793.7 810.5L794.8 813.3L795.8 816.0L796.1 816.7L796.9 818.7L798.0 821.5L799.0 824.2L799.0 824.2L800.1 826.9L801.2 829.7L802.0 831.6L802.3 832.4L803.4 835.1L804.4 837.9Z" fill="#feba2c" stroke="#feba2c" stroke-width="0.6"/>
<path d="M865.4 837.9L866.5 840.5L866.6 840.6L869.5 840.6L872.4 840.6L875.3 840.6L878.3 840.6L881.2 840.6L884.1 840.6L887.1 840.6L890.0 840.6L892.9 840.6L895.9 840.6L898.8 840.6L901.8 840.6L904.7 840.6L907.6 840.6L910.6 840.6L913.5 840.6L916.4 840.6L919.4 840.6L922.3 840.6L925.2 840.6L928.2 840.6L931.1 840.6L934.0 840.6L937.0 840.6L939.9 840.6L942.8 840.6L945.8 840.6L948.7 840.6L951.6 840.6L954.6 840.6L957.5 840.6L960.4 840.6L963.4 840.6L966.3 840.6L969.3 840.6L972.2 840.6L975.1 840.6L978.1 840.6L981.0 840.6L983.9 840.6L986.9 840.6L989.8 840.6L989.8 837.9L989.8 835.1L989.8 832.4L989.8 829.7L989.8 826.9L989.8 824.2L989.8 821.5L989.8 818.7L989.8 816.0L989.8 813.3L989.8 810.5L989.8 807.8L989.8 805.1L989.8 802.3L989.8 799.6L989.8 796.9L989.8 794.1L989.8 791.4L989.8 788.7L989.8 785.9L989.8 783.2L989.8 780.4L989.8 777.7L989.8 775.0L989.8 772.2L989.8 769.5L989.8 766.8L989.8 764.0L989.8 761.3L989.8 758.6L989.8 755.8L989.8 753.1L989.8 750.4L989.8 747.6L989.8 744.9L989.8 742.2L989.8 739.4L989.8 736.7L989.8 734.0L989.8 731.2L989.8 728.5L989.8 725.8L989.8 723.0L989.8 720.3L989.8 717.6L989.8 714.8L989.8 712.1L989.8 709.4L989.8 706.6L989.8 703.9L989.8 701.2L989.8 698.4L989.8 695.7L989.8 693.0L989.8 690.2L989.8 687.5L989.8 684.8L989.8 682.0L989.8 679.3L989.8 676.5L989.8 673.8L989.8 671.1L989.8 668.3L989.8 665.6L989.8 662.9L989.8 660.1L989.8 657.4L989.8 654.7L989.8 651.9L989.8 649.2L989.8 646.5L989.8 643.7L989.8 641.0L989.8 638.3L989.8 635.5L989.8 632.8L989.8 630.1L989.8 627.3L989.8 624.6L989.8 621.9L989.8 619.1L989.8 616.4L989.8 613.7L989.8 610.9L989.8 608.2L989.8 605.5L989.8 602.7L989.8 600.0L989.8 597.3L989.8 594.5L989.8 591.8L989.8 589.1L989.8 586.3L989.8 583.6L989.8 580.9L989.8 578.1L989.8 575.4L989.8 572.7L989.8 569.9L989.8 567.2L989.8 564.4L989.8 561.7L989.8 559.0L989.8 556.2L989.8 553.5L989.8 550.8L989.8 548.0L989.8 545.3L989.8 542.6L989.8 539.8L989.8 537.1L989.8 534.4L989.8 531.6L989.8 528.9L989.8 526.2L989.8 523.4L989.8 520.7L989.8 518.0L989.8 515.2L989.8 512.5L986.9 512.5L983.9 512.5L981.0 512.5L978.1 512.5L975.1 512.5L972.2 512.5L969.3 512.5L966.3 512.5L963.4 512.5L960.4 512.5L957.5 512.5L954.6 512.5L951.6 512.5L948.7 512.5L945.8 512.5L942.8 512.5L939.9 512.5L937.0 512.5L934.0 512.5L931.1 512.5L928.2 512.5L925.2 512.5L922.3 512.5L919.4 512.5L916.4 512.5L913.5 512.5L910.6 512.5L907.6 512.5L904.7 512.5L901.8 512.5L898.8 512.5L895.9 512.5L892.9 512.5L890.0 512.5L887.1 512.5L884.1 512.5L881.2 512.5L878.3 512.5L875.3 512.5L872.4 512.5L869.5 512.5L866.5 512.5L863.6 512.5L860.7 512.5L857.7 512.5L854.8 512.5L851.9 512.5L848.9 512.5L846.0 512.5L843.0 512.5L840.1 512.5L837.2 512.5L834.2 512.5L831.3 512.5L828.4 512.5L825.4 512.5L822.5 512.5L819.6 512.5L816.6 512.5L813.7 512.5L810.8 512.5L807.8 512.5L804.9 512.5L802.0 512.5L799.0 512.5L796.1 512.5L793.2 512.5L790.2 512.5L787.3 512.5L784.4 512.5L781.4 512.5L778.5 512.5L775.5 512.5L772.6 512.5L769.7 512.5L766.7 512.5L763.8 512.5L760.9 512.5L758.0 512.5L758.5 515.2L759.1 518.0L759.7 520.7L760.3 523.4L760.9 526.2L760.9 526.2L761.5 528.9L762.1 531.6L762.7 534.4L763.3 537.1L763.8 539.4L763.9 539.8L764.5 542.6L765.1 545.3L765.8 548.0L766.4 550.8L766.7 552.2L767.0 553.5L767.7 556.2L768.3 559.0L769.0 561.7L769.7 564.4L769.7 564.5L770.3 567.2L771.0 569.9L771.7 572.7L772.4 575.4L772.6 576.4L773.0 578.1L773.7 580.9L774.4 583.6L775.1 586.3L775.5 587.9L775.8 589.1L776.6 591.8L777.3 594.5L778.0 597.3L778.5 599.0L778.7 600.0L779.5 602.7L780.2 605.5L781.0 608.2L781.4 609.9L781.7 610.9L782.5 613.7L783.2 616.4L784.0 619.1L784.4 620.4L784.8 621.9L785.6 624.6L786.4 627.3L787.1 630.1L787.3 630.5L787.9 632.8L788.8 635.5L789.6 638.3L790.2 640.5L790.4 641.0L791.2 643.7L792.0 646.5L792.9 649.2L793.2 650.1L793.7 651.9L794.6 654.7L795.4 657.4L796.1 659.6L796.3 660.1L797.1 662.9L798.0 665.6L798.9 668.3L799.0 668.7L799.8 671.1L800.7 673.8L801.6 676.5L802.0 677.7L802.5 679.3L803.4 682.0L804.3 684.8L804.9 686.5L805.2 687.5L806.2 690.2L807.1 693.0L807.8 695.1L808.0 695.7L809.0 698.4L810.0 701.2L810.8 703.5L810.9 703.9L811.9 706.6L812.9 709.4L813.7 711.7L813.8 712.1L814.8 714.8L815.8 717.6L816.6 719.8L816.8 720.3L817.8 723.0L818.9 725.8L819.6 727.7L819.9 728.5L820.9 731.2L821.9 734.0L822.5 735.5L823.0 736.7L824.0 739.4L825.1 742.2L825.4 743.1L826.1 744.9L827.2 747.6L828.3 750.4L828.4 750.6L829.4 753.1L830.4 755.8L831.3 758.0L831.5 758.6L832.6 761.3L833.7 764.0L834.2 765.3L834.8 766.8L836.0 769.5L837.1 772.2L837.2 772.5L838.2 775.0L839.3 777.7L840.1 779.6L840.5 780.4L841.6 783.2L842.8 785.9L843.0 786.6L843.9 788.7L845.1 791.4L846.0 793.5L846.2 794.1L847.4 796.9L848.6 799.6L848.9 800.4L849.8 802.3L850.9 805.1L851.9 807.2L852.1 807.8L853.3 810.5L854.5 813.3L854.8 813.9L855.7 816.0L856.9 818.7L857.7 820.6L858.1 821.5L859.3 824.2L860.5 826.9L860.7 827.2L861.7 829.7L862.9 832.4L863.6 833.9L864.2 835.1L865.4 837.9Z" fill="#f7e425" stroke="#f7e425" stroke-width="0.6"/>
<path d="M930.0 840.6L931.1 840.6L934.0 840.6L937.0 840.6L939.9 840.6L942.8 840.6L945.8 840.6L948.7 840.6L951.6 840.6L954.6 840.6L957.5 840.6L960.4 840.6L963.4 840.6L966.3 840.6L969.3 840.6L972.2 840.6L975.1 840.6L978.1 840.6L981.0 840.6L983.9 840.6L986.9 840.6L989.8 840.6L989.8 837.9L989.8 835.1L989.8 832.4L989.8 829.7L989.8 826.9L989.8 824.2L989.8 821.5L989.8 818.7L989.8 816.0L989.8 813.3L989.8 810.5L989.8 807.8L989.8 805.1L989.8 802.3L989.8 799.6L989.8 796.9L989.8 794.1L989.8 791.4L989.8 788.7L989.8 785.9L989.8 783.2L989.8 780.4L989.8 777.7L989.8 775.0L989.8 772.2L989.8 769.5L989.8 766.8L989.8 764.0L989.8 761.3L989.8 758.6L989.8 755.8L989.8 753.1L989.8 750.4L989.8 747.6L989.8 744.9L989.8 742.2L989.8 739.4L989.8 736.7L989.8 734.0L989.8 731.2L989.8 728.5L989.8 725.8L989.8 723.0L989.8 720.3L989.8 717.6L989.8 714.8L989.8 712.1L989.8 709.4L989.8 706.6L989.8 703.9L989.8 701.2L989.8 698.4L989.8 695.7L989.8 693.0L989.8 690.2L989.8 687.5L989.8 684.8L989.8 682.0L989.8 679.3L989.8 676.5L989.8 673.8L989.8 671.1L989.8 668.3L989.8 665.6L989.8 662.9L989.8 660.1L989.8 657.4L989.8 654.7L989.8 651.9L989.8 649.2L989.8 646.5L989.8 643.7L989.8 641.0L989.8 638.3L989.8 635.5L989.8 632.8L989.8 630.1L989.8 627.3L989.8 624.6L989.8 621.9L989.8 619.1L989.8 616.4L989.8 613.7L989.8 610.9L989.8 608.2L989.8 605.5L989.8 602.7L989.8 600.0L989.8 597.3L989.8 594.5L989.8 591.8L989.8 589.1L989.8 586.3L989.8 583.6L989.8 580.9L989.8 578.1L989.8 575.4L989.8 572.7L989.8 569.9L989.8 567.2L989.8 564.4L989.8 561.7L989.8 559.0L989.8 556.2L989.8 553.5L989.8 550.8L989.8 548.0L989.8 545.3L989.8 542.6L989.8 539.8L989.8 537.1L989.8 534.4L989.8 531.6L989.8 528.9L989.8 526.2L989.8 523.4L989.8 520.7L989.8 518.0L989.8 515.2L989.8 512.5L986.9 512.5L983.9 512.5L981.0 512.5L978.1 512.5L975.1 512.5L972.2 512.5L969.3 512.5L966.3 512.5L963.4 512.5L960.4 512.5L957.5 512.5L954.6 512.5L951.6 512.5L948.7 512.5L945.8 512.5L942.8 512.5L939.9 512.5L937.0 512.5L934.0 512.5L931.1 512.5L928.2 512.5L925.2 512.5L922.3 512.5L919.4 512.5L916.4 512.5L913.5 512.5L910.6 512.5L907.6 512.5L904.7 512.5L901.8 512.5L898.8 512.5L895.9 512.5L892.9 512.5L890.0 512.5L887.1 512.5L884.1 512.5L881.2 512.5L878.3 512.5L875.3 512.5L872.4 512.5L869.5 512.5L866.5 512.5L863.6 512.5L860.7 512.5L857.7 512.5L854.8 512.5L851.9 512.5L848.9 512.5L846.0 512.5L843.0 512.5L840.1 512.5L837.2 512.5L834.2 512.5L831.3 512.5L828.4 512.5L825.4 512.5L822.5 512.5L819.6 512.5L816.6 512.5L813.7 512.5L810.8 512.5L808.2 512.5L808.8 515.2L809.5 518.0L810.1 520.7L810.8 523.4L810.8 523.5L811.4 526.2L812.1 528.9L812.7 531.6L813.4 534.4L813.7 535.5L814.1 537.1L814.8 539.8L815.5 542.6L816.2 545.3L816.6 547.1L816.9 548.0L817.6 550.8L818.3 553.5L819.0 556.2L819.6 558.4L819.7 559.0L820.5 561.7L821.2 564.4L821.9 567.2L822.5 569.2L822.7 569.9L823.4 572.7L824.2 575.4L825.0 578.1L825.4 579.8L825.7 580.9L826.5 583.6L827.3 586.3L828.1 589.1L828.4 590.0L828.9 591.8L829.7 594.5L830.5 597.3L831.3 600.0L831.3 600.0L832.1 602.7L833.0 605.5L833.8 608.2L834.2 609.6L834.6 610.9L835.5 613.7L836.4 616.4L837.2 619.0L837.2 619.1L838.1 621.9L839.0 624.6L839.8 627.3L840.1 628.2L840.7 630.1L841.6 632.8L842.5 635.5L843.0 637.1L843.4 638.3L844.3 641.0L845.3 643.7L846.0 645.9L846.2 646.5L847.1 649.2L848.1 651.9L848.9 654.4L849.0 654.7L850.0 657.4L850.9 660.1L851.9 662.7L851.9 662.9L852.9 665.6L853.9 668.3L854.8 670.9L854.9 671.1L855.9 673.8L856.9 676.5L857.7 678.8L857.9 679.3L858.9 682.0L859.9 684.8L860.7 686.6L861.0 687.5L862.0 690.2L863.1 693.0L863.6 694.3L864.1 695.7L865.2 698.4L866.3 701.2L866.5 701.8L867.4 703.9L868.4 706.6L869.5 709.2L869.5 709.4L870.6 712.1L871.8 714.8L872.4 716.4L872.9 717.6L874.0 720.3L875.1 723.0L875.3 723.5L876.3 725.8L877.4 728.5L878.3 730.5L878.6 731.2L879.7 734.0L880.9 736.7L881.2 737.4L882.1 739.4L883.3 742.2L884.1 744.2L884.5 744.9L885.7 747.6L886.9 750.4L887.1 750.8L888.1 753.1L889.3 755.8L890.0 757.4L890.5 758.6L891.8 761.3L892.9 763.9L893.0 764.0L894.3 766.8L895.5 769.5L895.9 770.3L896.8 772.2L898.1 775.0L898.8 776.6L899.3 777.7L900.6 780.4L901.8 782.9L901.9 783.2L903.2 785.9L904.5 788.7L904.7 789.1L905.8 791.4L907.1 794.1L907.6 795.2L908.4 796.9L909.7 799.6L910.6 801.3L911.1 802.3L912.4 805.1L913.5 807.3L913.7 807.8L915.1 810.5L916.4 813.3L916.4 813.3L917.8 816.0L919.1 818.7L919.4 819.2L920.5 821.5L921.8 824.2L922.3 825.1L923.2 826.9L924.6 829.7L925.2 831.0L925.9 832.4L927.3 835.1L928.2 836.9L928.7 837.9L930.0 840.6Z" fill="#f0f921" stroke="#f0f921" stroke-width="0.6"/>
<path d="M805.8 857.0L809.9 850.9L814.0 844.8L818.0 838.7L822.1 832.5L826.1 826.4L830.1 820.3L834.1 814.2L838.0 808.1L842.0 802.0L845.9 795.8L849.8 789.7L853.7 783.6L857.5 777.5L861.4 771.4L865.2 765.2L869.0 759.1L872.8 753.0L876.6 746.9L880.3 740.8L884.1 734.7L887.8 728.5L891.5 722.4L895.1 716.3L898.8 710.2L902.4 704.1L906.0 698.0L909.6 691.8L913.2 685.7L916.8 679.6L920.3 673.5L923.8 667.4L927.3 661.3L930.8 655.1L934.3 649.0L937.7 642.9L941.1 636.8L944.5 630.7L947.9 624.6L951.3 618.4L954.6 612.3L958.0 606.2L961.3 600.1L964.5 594.0L967.8 587.9L971.1 581.7L974.3 575.6L977.5 569.5L980.7 563.4L983.9 557.3L987.0 551.1L990.2 545.0L993.3 538.9L996.4 532.8L999.5 526.7L1002.5 520.6L1005.5 514.4L1008.6 508.3L1011.6 502.2L1014.5 496.1" fill="none" stroke="#2ca02c" stroke-width="4.00" stroke-linecap="square"/>
<path d="M625.9 856.0L632.2 850.2L638.6 844.6L645.0 839.2L651.3 834.0L657.7 829.0L664.1 824.2L670.4 819.5L676.8 815.0L683.2 810.6L689.5 806.4L695.9 802.3L702.3 798.3L708.6 794.4L715.0 790.6L721.4 786.9L727.7 783.3L734.1 779.8L740.5 776.4L746.8 773.0L753.2 769.7L759.6 766.5L765.9 763.3L772.3 760.1L778.7 757.0L785.0 754.0L791.4 751.0L797.8 748.0L804.1 745.0L810.5 742.0L816.9 739.1L823.3 736.2L829.6 733.3L836.0 730.5L842.4 727.6L848.7 724.8L855.1 722.0L861.5 719.1L867.8 716.3L874.2 713.6L880.6 710.8L886.9 708.0L893.3 705.3L899.7 702.5L906.0 699.8L912.4 697.1L918.8 694.5L925.1 691.8L931.5 689.2L937.9 686.6L944.2 684.0L950.6 681.5L957.0 679.0L963.3 676.6L969.7 674.2L976.1 671.9L982.4 669.6L988.8 667.5L995.2 665.3L1001.5 663.3" fill="none" stroke="#ff7f0e" stroke-width="4.00" stroke-linecap="square"/>
<path d="M907.2 857.0L903.9 850.9L900.6 844.8L897.4 838.7L894.2 832.5L891.1 826.4L888.0 820.3L885.0 814.2L882.0 808.1L879.1 802.0L876.3 795.8L873.5 789.7L870.7 783.6L868.0 777.5L865.3 771.4L862.7 765.2L860.1 759.1L857.6 753.0L855.1 746.9L852.6 740.8L850.2 734.7L847.8 728.5L845.5 722.4L843.2 716.3L840.9 710.2L838.7 704.1L836.5 698.0L834.4 691.8L832.3 685.7L830.2 679.6L828.1 673.5L826.1 667.4L824.1 661.3L822.2 655.1L820.2 649.0L818.3 642.9L816.5 636.8L814.6 630.7L812.8 624.6L811.0 618.4L809.2 612.3L807.5 606.2L805.8 600.1L804.1 594.0L802.4 587.9L800.7 581.7L799.1 575.6L797.5 569.5L795.9 563.4L794.3 557.3L792.7 551.1L791.2 545.0L789.6 538.9L788.1 532.8L786.6 526.7L785.1 520.6L783.6 514.4L782.1 508.3L780.6 502.2L779.2 496.1" fill="none" stroke="#1f77b4" stroke-width="4.00" stroke-linecap="square"/>
<path d="M782.2 709.6L798.2 725.6M782.2 725.6L798.2 709.6" stroke="#000" stroke-width="4.50" fill="none"/>
<circle cx="862.1" cy="717.6" r="5.50" fill="#000"/>
<path d="M800.9 717.6L845.6 717.6" stroke="#000" stroke-width="2.90" fill="none"/>
<path d="M835.6 712.1L846.6 717.6L835.6 723.1" stroke="#000" stroke-width="2.90" fill="none" stroke-linejoin="miter"/>
</g>
<rect x="637.6" y="512.5" width="352.2" height="328.1" fill="none" stroke="#000" stroke-width="2.00"/>
<path d="M637.6 840.6V849.9" stroke="#000" stroke-width="2.00"/>
<text x="639.1" y="880.1" font-size="27.40" text-anchor="middle" font-family="DejaVu Sans, Liberation Sans, sans-serif">2</text>
<path d="M755.0 840.6V849.9" stroke="#000" stroke-width="2.00"/>
<text x="756.5" y="880.1" font-size="27.40" text-anchor="middle" font-family="DejaVu Sans, Liberation Sans, sans-serif">3</text>
<path d="M872.4 840.6V849.9" stroke="#000" stroke-width="2.00"/>
<text x="873.9" y="880.1" font-size="27.40" text-anchor="middle" font-family="DejaVu Sans, Liberation Sans, sans-serif">4</text>
<path d="M989.8 840.6V849.9" stroke="#000" stroke-width="2.00"/>
<text x="991.3" y="880.1" font-size="27.40" text-anchor="middle" font-family="DejaVu Sans, Liberation Sans, sans-serif">5</text>
<path d="M637.6 840.6H628.3" stroke="#000" stroke-width="2.00"/>
<path d="M637.6 758.6H628.3" stroke="#000" stroke-width="2.00"/>
<path d="M637.6 676.5H628.3" stroke="#000" stroke-width="2.00"/>
<path d="M637.6 594.5H628.3" stroke="#000" stroke-width="2.00"/>
<path d="M637.6 512.5H628.3" stroke="#000" stroke-width="2.00"/>
<rect x="1011.4" y="809.35" width="16.1" height="31.25" fill="#2a0593" stroke="#2a0593" stroke-width="0.5"/>
<rect x="1011.4" y="778.10" width="16.1" height="31.25" fill="#5601a4" stroke="#5601a4" stroke-width="0.5"/>
<rect x="1011.4" y="746.86" width="16.1" height="31.25" fill="#7e03a8" stroke="#7e03a8" stroke-width="0.5"/>
<rect x="1011.4" y="715.61" width="16.1" height="31.25" fill="#a11b9b" stroke="#a11b9b" stroke-width="0.5"/>
<rect x="1011.4" y="684.36" width="16.1" height="31.25" fill="#bf3984" stroke="#bf3984" stroke-width="0.5"/>
<rect x="1011.4" y="653.11" width="16.1" height="31.25" fill="#d6556d" stroke="#d6556d" stroke-width="0.5"/>
<rect x="1011.4" y="621.87" width="16.1" height="31.25" fill="#ea7457" stroke="#ea7457" stroke-width="0.5"/>
<rect x="1011.4" y="590.62" width="16.1" height="31.25" fill="#f89540" stroke="#f89540" stroke-width="0.5"/>
<rect x="1011.4" y="559.37" width="16.1" height="31.25" fill="#feba2c" stroke="#feba2c" stroke-width="0.5"/>
<rect x="1011.4" y="528.12" width="16.1" height="31.25" fill="#f7e425" stroke="#f7e425" stroke-width="0.5"/>
<path d="M1011.4 528.1L1019.5 512.5L1027.5 528.1Z" fill="#f0f921"/>
<path d="M1011.4 528.1L1019.5 512.5L1027.5 528.1L1027.5 840.6L1011.4 840.6Z" fill="none" stroke="#000" stroke-width="2.00" stroke-linejoin="miter"/>
<path d="M1027.5 840.60H1036.8" stroke="#000" stroke-width="2.00"/>
<text x="1046.8" y="851.01" font-size="27.40" font-family="DejaVu Sans, Liberation Sans, sans-serif">0.0</text>
<path d="M1027.5 778.10H1036.8" stroke="#000" stroke-width="2.00"/>
<text x="1046.8" y="788.52" font-size="27.40" font-family="DejaVu Sans, Liberation Sans, sans-serif">0.4</text>
<path d="M1027.5 715.61H1036.8" stroke="#000" stroke-width="2.00"/>
<text x="1046.8" y="726.02" font-size="27.40" font-family="DejaVu Sans, Liberation Sans, sans-serif">0.8</text>
<path d="M1027.5 653.11H1036.8" stroke="#000" stroke-width="2.00"/>
<text x="1046.8" y="663.53" font-size="27.40" font-family="DejaVu Sans, Liberation Sans, sans-serif">1.2</text>
<path d="M1027.5 590.62H1036.8" stroke="#000" stroke-width="2.00"/>
<text x="1046.8" y="601.03" font-size="27.40" font-family="DejaVu Sans, Liberation Sans, sans-serif">1.6</text>
<path d="M1027.5 528.12H1036.8" stroke="#000" stroke-width="2.00"/>
<text x="1046.8" y="538.54" font-size="27.40" font-family="DejaVu Sans, Liberation Sans, sans-serif">2.0</text>
<text x="286.0" y="101.2" font-size="32.00" text-anchor="middle" fill="#2ca02c" font-family="DejaVu Sans, Liberation Sans, sans-serif">c<tspan font-size="22.40" dy="5.50">N</tspan><tspan dy="-5.50"> + 0.05c</tspan><tspan font-size="22.40" dy="5.50">Ar</tspan><tspan dy="-5.50"> [%]</tspan></text>
<text x="814.4" y="102.0" font-size="32.00" text-anchor="middle" fill="#ff7f0e" font-family="DejaVu Sans, Liberation Sans, sans-serif">T<tspan font-size="22.40" dy="5.50">e, </tspan><tspan font-size="22.40" dx="-2.20">u</tspan><tspan dy="-5.50" dx="2.20"> [eV]</tspan></text>
<text x="285.0" y="496.0" font-size="32.00" text-anchor="middle" fill="#000" font-family="DejaVu Sans, Liberation Sans, sans-serif">α<tspan font-size="22.40" dy="5.50">t</tspan></text>
<text x="814.9" y="496.0" font-size="32.00" text-anchor="middle" fill="#1f77b4" font-family="DejaVu Sans, Liberation Sans, sans-serif">p<tspan font-size="22.40" dy="5.50">div</tspan><tspan dy="-5.50" dx="1.00"> [P</tspan><tspan dx="1.50">a]</tspan></text>
<text x="109.5" y="24.9" font-size="27.23" text-anchor="start" fill="#000" font-family="DejaVu Sans, Liberation Sans, sans-serif">α<tspan font-size="19.06" dy="5.00">t</tspan><tspan dy="-5.00">-corrected extended Lengyel model, ASDEX Upgrade #39520 at 5s</tspan></text>
<text x="578.0" y="924.0" font-size="27.40" text-anchor="middle" fill="#000" font-family="DejaVu Sans, Liberation Sans, sans-serif">n<tspan font-size="19.18" dy="5.00">e, </tspan><tspan font-size="19.18" dx="-1.90">u</tspan><tspan dy="-5.00" dx="1.90"> [10</tspan><tspan font-size="19.18" dy="-9.50">19</tspan><tspan dy="9.50">/m</tspan><tspan font-size="19.18" dy="-9.50">3</tspan><tspan dy="9.50">]</tspan></text>
<text transform="translate(23.1 474.5) rotate(-90)" font-size="27.40" text-anchor="middle" fill="#000" font-family="DejaVu Sans, Liberation Sans, sans-serif">P<tspan font-size="19.18" dy="5.00">sep</tspan><tspan dy="-5.00"> [MW]</tspan></text>
</svg>
</body></html>
